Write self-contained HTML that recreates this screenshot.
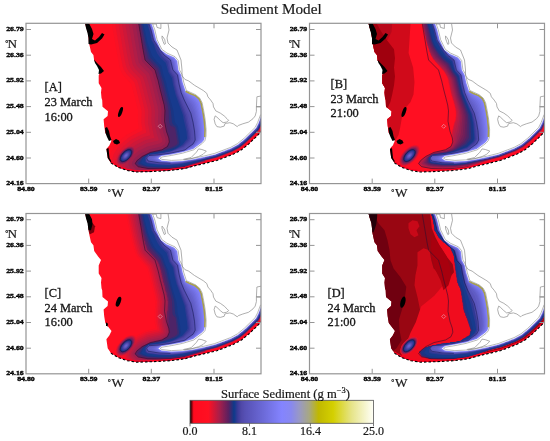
<!DOCTYPE html>
<html><head><meta charset="utf-8"><style>
html,body{margin:0;padding:0;background:#fff;}
body{width:550px;height:441px;overflow:hidden;position:relative;}
svg{position:absolute;left:0;top:0;filter:blur(0.35px);}
text{font-family:"Liberation Serif",serif;fill:#1a1a1a;}
.tk{font-size:7px;font-weight:bold;stroke:#000;stroke-width:0.4px;}
.ax{font-size:13.2px;stroke:#111;stroke-width:0.2px;}
.dg{font-size:7.5px;stroke:#111;stroke-width:0.25px;}
.lb{font-size:12.4px;stroke:#111;stroke-width:0.3px;}
.cl{font-size:12px;stroke:#111;stroke-width:0.2px;}
.ct{font-size:12.6px;stroke:#111;stroke-width:0.2px;}
.tt{font-size:15.2px;stroke:#1a1a1a;stroke-width:0.2px;}
</style></head><body>
<svg width="550" height="441" viewBox="0 0 550 441">
<clipPath id="clipA"><rect x="26.0" y="23.3" width="235.0" height="160.5"/></clipPath>
<g transform="translate(0 0)" clip-path="url(#clipA)">
<path d="M85 23.3L86 27L88 33L89 43L91 52L93.4 55L94.2 60.7L98.1 66.3L101 69.7L98.7 75.4L98.7 83.3L101.5 87.9L101 92.4L101.5 98L102.2 100L102.5 106.8L108 111.3L107.6 115.9L103.6 119.3L104.2 126L105.3 132.9L111.5 140.8L109.3 145.4L106.4 149L107.7 158L110.9 162.7L118.2 167.2L127.3 170.3L136.4 171.8L147.7 171.5L159 171L170.4 170.3L180 169.1L185 168.3L195 165.5L205.5 163.1L216.8 160.3L224.2 157.6L233.6 153.9L241.5 149.6L249.1 143.4L255.3 137.4L261 131.7L264.2 125.4L267.3 117.2L268.3 117.2L268.3 18.3L85 18.3Z" fill="#ff0f22"/>
<path d="M112.5 23.3L261 23.3L261 127.1L259.2 130.8L250.5 139.6L245.5 144L240.5 148L235 151L232 152.5L218.5 157.7L206.3 160.8L205.9 161.3L206.2 162.8L205 162.9L204.5 163.5L202.5 163.5L202 164L200.5 164L200 164.5L198.5 164.5L198 165L194 165.5L192 166.5L190.5 166.5L188.5 167.5L187 167.5L186.5 168L185 168L184.5 168.5L178.5 169L178 169.5L174.5 169.5L174 170L170.5 170L170 170.5L162.5 170.5L162 171L152.5 171L152 171.5L133.5 171.5L133 171L127.5 170.4L125.5 169.4L124.5 169.4L124 168.9L123 168.9L122.5 168.4L121.5 168.4L121 167.9L120 167.9L119.5 167.4L118.5 167.4L117.5 166.4L116 165.9L115 164.9L112 163.3L109 159.8L109 158.3L111.2 151.8L116 144.3L119.5 140.6L127 134.6L138.7 128.3L137.9 122.3L138 110.3L131.4 84.3L123 74.9L120.7 70.8L119.2 66.3L112.3 27.3L112 23.3Z" fill="#f81125" fill-rule="evenodd"/>
<path d="M115.5 23.3L261 23.3L261 126.5L258.8 130.8L245.5 143.6L240.5 147.6L235.5 150.4L231.5 152.4L218.5 157.4L206 160.7L205.6 161.3L205.8 162.8L205 162.9L204.5 163.4L202.5 163.4L202 163.9L200.5 163.9L200 164.4L198.5 164.5L198 164.9L194 165.5L192 166.5L190.5 166.5L188.5 167.5L187 167.5L186.5 168L185 168L184.5 168.5L178.5 169L178 169.5L174.5 169.5L174 170L170.5 170L170 170.5L162.5 170.5L162 170.9L152.5 170.9L152 171.4L133.5 171.4L133 170.9L127.5 170.4L125.5 169.4L124.5 169.4L124 168.9L123 168.9L122.5 168.4L121.5 168.4L121 167.9L120 167.9L119.5 167.4L118.5 167.4L117.5 166.3L116 165.8L115 164.8L112 163.3L112.2 159.3L113.7 154.3L117.6 147.8L119.9 144.8L129.5 136.9L142.5 130.3L141.2 122.8L141.6 111.8L141.3 109.8L135.6 86.8L134.3 82.3L126.3 73.8L124.2 70.3L122.8 66.8L120.5 55.8L115.6 26.8Z" fill="#ea132c" fill-rule="evenodd"/>
<path d="M119 23.3L261 23.3L261 126.2L258.6 130.8L245.5 143.4L240.5 147.4L235.5 150.2L231.5 152.2L218.5 157.2L206 160.5L205.5 160.8L205.6 162.8L204.5 163.4L202.5 163.4L202 163.9L200.5 163.9L200 164.4L198.5 164.4L198 164.9L194 165.4L192 166.4L190.5 166.4L188.5 167.4L187 167.4L186.5 167.9L185 167.9L184.5 168.4L178.5 168.9L178 169.4L174.5 169.4L174 169.9L170.5 169.9L170 170.4L162.5 170.4L162 170.9L152.5 170.9L152 171.4L133.5 171.4L133 170.9L127.5 170.4L125.5 169.4L124.5 169.4L124 168.9L123 168.9L122.5 168.4L121.5 168.3L121 167.8L120 167.8L119.5 167.3L118.5 167.3L117.5 166.3L116 165.8L115.1 164.8L115.1 163.3L116.2 157.3L118 153.3L122.2 147.3L131.5 139.6L142 134.2L146.2 132.8L146.3 132.3L144.6 122.8L144.9 111.8L144.5 108.8L138.9 86.3L137 80.3L129.3 72.3L127.4 69.3L126 65.9L123.8 55.3L119 26.8L118.7 23.3Z" fill="#db1633" fill-rule="evenodd"/>
<path d="M122.5 23.3L261 23.3L261 125.9L258.5 130.7L250 139.2L240 147.6L231.5 152.1L218.5 157.1L205.9 160.3L205.3 160.8L205.4 162.8L204.5 163.4L202.5 163.4L202 163.9L200.5 163.9L200 164.4L198.5 164.4L198 164.9L196 164.9L195.5 165.4L192.5 165.9L192 166.4L190.5 166.4L188.5 167.4L187 167.4L186.5 167.9L185 167.9L184.5 168.4L182 168.4L181.5 168.9L174.5 169.4L174 169.9L170.5 169.9L170 170.4L162.5 170.4L162 170.9L152.5 170.9L152 171.4L133.5 171.4L133 170.9L127.5 170.4L127 169.9L126 169.8L125.5 169.3L124.5 169.3L124 168.8L123 168.8L122.5 168.3L121.5 168.3L121 167.8L118.8 167.3L118.5 164.8L117.5 163.8L116.8 162.3L116.9 159.3L118.7 154.8L122 150.7L124.5 148.5L128.3 146.3L134.3 141.8L144 137L150.2 135.3L147.9 122.8L148.3 111.8L147.7 107.8L140.2 78.8L132 70.3L130.4 67.8L129.1 64.8L127.1 54.8L122.2 25.8L122 23.3Z" fill="#cd1839" fill-rule="evenodd"/>
<path d="M125.5 23.3L261 23.3L261 125.7L258.5 130.5L250 139L240 147.4L232 151.7L222 155.6L215.5 157.9L205.7 160.3L205 160.8L205.3 162.8L204.5 163.4L202.5 163.4L202 163.9L200.5 163.9L200 164.4L198.5 164.4L198 164.9L194 165.4L192 166.4L190.5 166.4L188.5 167.4L187 167.4L186.5 167.9L185 167.9L184.5 168.4L178.5 168.9L178 169.4L174.5 169.4L174 169.9L170.5 169.9L170 170.4L162.5 170.4L162 170.9L152.5 170.9L152 171.4L133.5 171.4L133 170.9L127.5 170.3L125.5 169.3L124.5 169.3L124 168.8L123 168.8L121.9 165.3L118.5 164.2L117.5 162.9L117.1 161.3L117.3 158.8L118.3 156.3L120.1 153.3L122.3 150.8L125 148.6L127.5 147.2L130 146.4L133.5 146.4L136 144.7L145.5 140L154.5 137.8L153.5 134.3L151.3 122.8L151.6 111.3L151.1 107.8L145.3 84.3L143 76.9L135 68.7L132.5 64.3L130.4 54.3L125.5 25.3Z" fill="#be1a40" fill-rule="evenodd"/>
<path d="M129 23.3L261 23.3L261 125.6L258.5 130.3L250 138.8L245 143.3L240 147.3L235 150.1L231 152L218 157L205.5 160.3L204.8 160.8L205.1 162.8L204.5 163.4L202.5 163.4L202 163.9L200.5 163.9L200 164.4L198.5 164.4L198 164.9L194 165.4L192 166.4L190.5 166.4L188.5 167.4L187 167.4L186.5 167.9L185 167.9L184.5 168.4L178.5 168.9L178 169.4L174.5 169.4L174 169.9L170.5 169.9L170 170.4L162.5 170.4L162 170.9L152.5 170.9L152 171.4L133.5 171.3L133 170.8L127.6 170.3L125.8 167.3L125.1 163.8L121 164.5L118.8 163.8L117.9 162.8L117.4 160.8L117.7 158.8L118.6 156.3L121.7 151.8L126 148.3L129 147L131.5 146.7L133.5 147.7L134.3 148.8L134.5 149.8L137.5 147.7L146.5 143.2L158 140.4L158.8 139.8L156.8 133.8L154.6 122.3L155 111.3L154.3 106.8L148.5 83.3L146.1 75.3L137.5 66.5L135.7 63.3L133.7 53.8L128.9 25.3L128.7 23.3Z" fill="#b01d47" fill-rule="evenodd"/>
<path d="M132.5 23.3L261 23.3L261 125.5L258.4 130.3L249.9 138.8L245 143.2L240 147.2L235 150L231 151.9L218 156.9L205.1 160.3L204.7 160.8L204.9 162.8L204.5 163.3L202.5 163.3L202 163.8L200.5 163.8L200 164.3L198.5 164.3L198 164.8L194 165.3L192 166.3L190.5 166.3L188.5 167.3L187 167.3L186.5 167.8L185 167.8L184.5 168.3L178.5 168.8L178 169.3L174.5 169.3L174 169.8L170.5 169.8L170 170.3L162.5 170.3L162 170.8L152.5 170.8L152 171.3L133.5 171.3L130.3 168.3L129 166.3L128.4 163.8L129 160.7L125.5 162.9L123 163.9L120.5 164L119 163.4L118 161.8L117.8 160.3L118.1 158.3L119.1 155.8L122.5 151.3L127 148L129 147.3L131 147.1L132.5 147.5L133.4 148.3L134 149.4L134.2 151.3L133.5 154.9L138.7 150.8L147.5 146.4L159.5 143.5L162 142L162.4 141.3L162.2 139.3L160 132.8L157.9 122.3L158.3 111.3L157.6 106.3L151.8 82.8L149 73.5L140 64.3L138.8 62.3L137 53.3L132.1 24.3L132 23.3ZM133 155.3L133 155.3L133.1 155.3L133 155.3Z" fill="#a11e4c" fill-rule="evenodd"/>
<path d="M135.5 23.3L261 23.3L261 125.4L258.3 130.3L249.5 139.1L239.5 147.4L232 151.4L218 156.9L205 160.2L204.4 160.8L204.5 163.3L202.5 163.3L202 163.8L200.5 163.8L200 164.3L198.5 164.3L198 164.8L194 165.3L192 166.3L190.5 166.3L188.5 167.3L187 167.3L186.5 167.8L185 167.8L184.5 168.3L178.5 168.8L178 169.3L174.5 169.3L174 169.8L170.5 169.8L170 170.3L162.5 170.3L162 170.8L152.5 170.8L152 171.3L144.6 171.3L137.5 170L136 169.2L132.5 165.8L131.8 164.3L132.1 162.3L134.7 158.3L140.5 153.6L149 149.4L161 146.5L164.7 144.3L165.9 141.3L165.5 138.8L163.3 132.3L161.2 121.8L161.6 110.8L160.9 105.8L155 81.8L152.1 71.8L142 61.2L140.2 52.3ZM128.5 147.8L131.5 147.6L132.8 148.3L133.5 149.3L133.7 152.3L132.1 156.3L129.2 159.8L126 162.3L122.5 163.7L119.8 163.3L118.7 162.3L118.2 160.3L118.6 157.8L119.7 155.3L123.5 150.7L126 148.9Z" fill="#911f51" fill-rule="evenodd"/>
<path d="M139 23.3L261 23.3L261 125.4L258.2 130.3L245 143L239.6 147.3L233 150.9L216.5 157.3L205 160.2L203 161.3L202 161.3L201.5 161.8L200.5 161.8L200 162.3L199 162.3L198.5 162.8L197.5 162.8L197 163.3L196 163.3L195.5 163.8L194.5 163.8L194 164.3L193 164.3L192.5 164.8L191.5 164.8L191 165.3L190 165.3L186.5 166.8L185 166.8L184.5 167.3L182 167.3L181.5 167.8L178.5 167.8L178 168.3L173.5 168.3L173 168.8L159 168.8L147 168.8L146.5 168.3L141.5 167.8L141 167.3L139 167.3L138 166.8L135 163.8L136.5 160.8L137.5 159.8L138 159.8L142 156.3L151 151.8L153 151.8L153.5 151.3L155 151.3L155.5 150.8L157.5 150.8L158 150.3L159.5 150.3L160 149.8L162 149.8L164.5 147.8L167.5 146.3L167.5 145.3L168.5 143.8L169 141.8L168.5 137.3L168 136.8L167.5 134.3L166 131.3L165.5 126.8L165 126.3L165 123.8L164.5 123.3L164.5 111.3L165 110.8L164.5 110.3L164 104.3L163.5 103.8L163.5 102.3L162.5 100.3L162.5 98.8L162 98.3L161.5 94.8L161 94.3L161 92.8L160.5 92.3L160.5 90.8L160 90.3L160 88.8L159.5 88.3L159.5 86.8L159 86.3L159 84.8L158.5 84.3L158 80.3L156.5 76.8L156.5 75.3L155.5 73.3L155 70.3L145 60.3L144.5 59.3L144.5 57.3L144 56.8L144 54.8L143.5 54.3L143.5 52.3L143 51.8L143 49.3L142.5 48.8L142.5 46.3L142 45.8L142 43.3L141.5 42.8L141.5 40.3L141 39.8L141 37.3L140.5 36.8L140.5 34.3L140 33.8L140 31.3L139.5 30.8L139.5 28.3L139 27.8L139 25.3L138.5 24.8L138.5 23.3ZM128 148.3L131 147.9L132 148.3L133 149.3L133.4 150.8L133.3 152.3L132 155.8L129.4 159.3L126 162L122.5 163.3L120 162.9L119 161.8L118.6 160.3L118.8 158.3L119.8 155.8L121.4 153.3L123.5 151.1L125.5 149.5Z" fill="#811f55" fill-rule="evenodd"/>
<path d="M139 23.3L261 23.3L261 125.2L258.1 130.3L245 142.9L240 146.9L232.9 150.8L216.5 157.2L205 160.1L203 161.1L187 166.1L186.5 166.6L185 166.6L184.5 167.1L182 167.1L181.5 167.6L178.5 167.6L178 168.1L173.5 168.1L173 168.6L159 168.6L147 168.6L146.5 168.1L141.5 167.6L141 167.1L139 167.1L138 166.6L135.2 163.8L135.2 163.3L136.2 162.3L136.7 160.8L140 158L140.5 158L142 156.5L151 152L153 151.9L155.5 151L157.5 150.9L160 150L162 149.9L164.5 148L167.7 146.3L167.7 145.3L168.7 143.8L169.2 141.8L168.7 137.3L167.7 135.3L167.7 134.3L166.7 132.8L166.7 131.8L166.2 131.3L165.7 126.8L165.2 126.3L165.2 123.8L164.7 123.3L164.7 111.3L165.2 110.8L164.7 110.3L164.2 104.3L163.7 103.8L163.7 102.3L162.7 100.3L162.2 96.8L161.7 96.3L161.7 94.8L161.2 94.3L161.2 92.8L160.7 92.3L160.7 90.8L160.2 90.3L160.2 88.8L159.7 88.3L159.7 86.8L159.2 86.3L159.2 84.8L158.7 84.3L158.2 80.3L156.7 76.8L156.7 75.3L155.7 73.3L155.2 70.3L145.2 60.3L144.7 59.3L144.7 57.3L144.2 56.8L144.2 54.8L143.7 54.3L143.7 52.3L143.2 51.8L143.2 49.3L142.7 48.8L142.7 46.3L142.2 45.8L142.2 43.3L141.7 42.8L141.7 40.3L141.2 39.8L141.2 37.3L140.7 36.8L140.7 34.3L140.2 33.8L140.2 31.3L139.7 30.8L139.7 28.3L139.2 27.8L139.2 25.3L138.7 24.8L138.7 23.3ZM129.5 148.3L131.9 148.8L133 150.8L132.6 153.8L131.1 156.8L128.5 159.8L125.5 161.9L122.5 162.9L120 162.3L119.2 161.3L119 159.3L119.6 156.8L121 154.3L125 150.2L127.5 148.8Z" fill="#721f59" fill-rule="evenodd"/>
<path d="M139 23.3L261 23.3L261 125L258 130.3L245 142.8L240 146.8L232.7 150.8L216.5 157.1L205 160L186.5 166.4L182 167L181.5 167.4L178.5 167.5L178 167.9L173.5 168L173 168.4L159 168.5L147 168.4L146.5 168L141.5 167.4L141 166.9L139 166.9L138 166.4L135.4 163.8L135.4 163.3L136.4 162.3L136.9 160.8L140 158.2L142 156.7L151 152.2L157.5 151.1L160 150.2L162 150.1L167.8 146.3L167.9 145.3L168.9 143.8L169.4 141.8L168.9 137.3L166.4 131.3L165.9 126.8L165.4 126.3L165.4 123.8L164.9 123.3L164.9 111.3L165.4 110.8L164.9 110.3L164.4 104.3L163.9 103.8L163.9 102.3L162.9 100.3L162.4 96.8L161.9 96.3L161.9 94.8L161.4 94.3L161.4 92.8L160.9 92.3L160.9 90.8L160.4 90.3L160.4 88.8L159.9 88.3L159.9 86.8L159.4 86.3L159.4 84.8L158.9 84.3L158.4 80.3L156.9 76.8L156.9 75.3L155.9 73.3L155.4 70.3L145.4 60.3L144.9 59.3L144.9 57.3L144.4 56.8L144.4 54.8L143.9 54.3L143.9 52.3L143.4 51.8L143.4 49.3L142.9 48.8L142.9 46.3L142.4 45.8L142.4 43.3L141.9 42.8L141.9 40.3L141.4 39.8L141.4 37.3L140.9 36.8L140.9 34.3L140.4 33.8L140.4 31.3L139.9 30.8L139.9 28.3L139.4 27.8L139.4 25.3L138.9 24.8ZM128.5 148.8L131 148.8L132.5 150.3L132.6 152.8L131.1 156.3L128.5 159.5L125.5 161.6L122.5 162.6L120.5 162.1L119.5 160.8L119.3 159.3L120.6 155.3L124 151.3L126.5 149.6Z" fill="#62205e" fill-rule="evenodd"/>
<path d="M139.5 23.3L261 23.3L261 124.9L258 130.2L244.8 142.8L239.9 146.8L232.5 150.8L215.5 157.3L206 159.6L185.6 166.3L180 167.3L170.5 168.3L154.8 168.3L147.5 168L138.3 165.8L136.3 163.8L136.2 163.3L137.8 160.8L142.3 156.8L151 152.5L162 150.2L167.8 146.8L170 141.8L169.7 137.8L167.9 131.3L166.2 121.3L166.3 110.8L165.4 104.8L160 83.3L155.9 69.3L146.2 59.3L143.4 45.8ZM128 149.3L130.5 149.1L132 150.4L132.2 152.8L131.1 155.8L128.8 158.8L126 161L123 162.1L121 161.9L120 160.8L119.7 159.3L120 157.3L121 155.3L124 151.6Z" fill="#4e2467" fill-rule="evenodd"/>
<path d="M141 23.3L261 23.3L261 124.5L258 130L249.1 138.8L239.6 146.8L231.1 151.3L215.1 157.3L206 159.5L185 165.9L179.5 166.8L170 167.7L159 167.8L148 167.3L139 164.9L137.7 163.3L138.4 161.8L142.5 157.3L144.8 155.8L150.5 152.9L162 150.7L171.5 147.3L175.6 145.3L177 144L177.5 142.8L175 128.5L174 127.2L170.5 125.4L169.4 123.3L168.9 120.8L168.6 110.8L167.4 104.3L161.9 82.8L157.7 68.8L148.1 58.3L144.5 43.3L141 24.8L140.7 23.3ZM127.5 149.8L130 149.5L131.5 150.4L131.9 152.8L130.8 155.8L128.5 158.8L126 160.7L123 161.8L121 161.3L120.1 159.3L121 155.8L123.7 152.3Z" fill="#342d75" fill-rule="evenodd"/>
<path d="M142 23.3L261 23.3L261 124.1L257.5 130.3L246.7 140.8L239.3 146.8L231.9 150.8L216.2 156.8L205 159.6L184.5 165.5L170.5 167.2L159 167.2L148 166.6L144 165.6L139.5 163.7L139.2 163.3L139.5 162.4L142.7 157.8L148 154.2L151 153.1L162.5 151.1L171.7 148.8L175.3 147.3L177.4 145.8L178.8 144.3L179.2 142.8L176.4 127.8L175.5 126.3L173 124.3L172 122.3L170.9 110.8L169.5 104.3L163.7 81.8L161.4 75.3L159.6 68.3L158.7 66.8L150 57.3L145.9 42.8ZM127.5 150.2L129.5 149.9L131.1 150.8L131.5 152.8L130.4 155.8L128.5 158.4L126 160.3L123.5 161.3L121.5 161L120.8 160.3L120.5 158.8L121.6 155.3L124.1 152.3Z" fill="#1a3583" fill-rule="evenodd"/>
<path d="M143.5 23.3L261 23.3L261 123.4L258 129.3L246.5 140.7L239 146.7L231.3 150.8L215.5 156.8L206 159L185.2 164.8L179.5 165.8L170.5 166.5L154.5 166.3L148 165.8L145.8 165.3L141 162.9L143.5 157.8L148.4 154.3L151.5 153.3L163 151.8L172.5 149.6L175.6 148.3L178.6 146.3L179.9 144.8L180.5 142.8L179.6 134.8L178.1 127.3L177.3 125.3L175.2 122.8L174.6 120.8L173.3 110.3L169 95.3L165.8 81.3L163.4 74.8L161.6 66.8L161.1 65.8L156.5 61.2L152 55.4L147.5 42.8L145.3 31.8L143.5 24.9ZM129 150.3L130.5 150.9L131.1 152.3L130.8 154.3L129.8 156.3L128 158.5L126 160L124 160.8L122 160.7L121.2 159.8L120.9 158.3L122.3 154.8L125.5 151.5L127.5 150.5Z" fill="#173a8d" fill-rule="evenodd"/>
<path d="M147.5 23.3L261 23.3L260.9 122.3L257.4 129.3L248.5 138L239 146.2L231.5 150.2L216 156.1L204 159.1L180.5 164.2L170 164.9L158 164.7L147 163.2L145.3 161.8L145.2 157.8L148.5 154.9L163.3 152.8L171 150.9L173.8 149.8L177.8 147.8L182.3 144.8L187 138.8L187 138.3L186.5 132.1L183.7 119.8L183 115.3L175.7 95.3L173.1 85.3L171.9 78.3L168.3 72.3L165.7 62.8L160.3 57.8L157.4 53.8L155.7 50.3L154 44.8L151.7 40.8L149.5 31L147.1 23.8L147 23.3ZM128.5 150.8L130 151.3L130.6 152.3L130.4 154.3L129.4 156.3L127.7 158.3L125.6 159.8L123.5 160.4L122 159.9L121.4 158.8L121.5 157.3L123 154.3L125.7 151.8Z" fill="#2e3a94" fill-rule="evenodd"/>
<path d="M148 23.3L261 23.3L261 121L259.7 124.3L257 129.3L246 140.1L239.5 145.4L231.5 149.9L215.5 156L203.5 159L182 163.5L170.5 164.5L159 164.3L148 162.9L146.1 161.8L145.6 157.8L148.5 155.1L163.5 153L170.5 151.4L174.9 149.8L183 145.6L188 139.8L188.5 138.3L187.9 131.8L184.6 115.8L176.6 94.3L174.2 84.8L172.9 77.3L169.3 71.8L167.2 61.8L161.7 56.3L152.5 40.4ZM127 151.7L128.5 151.5L129.8 152.3L129.9 153.8L129.4 155.3L128.1 157.3L126.5 158.7L124.5 159.6L123 159.6L122 158.3L122.6 155.8L124.5 153.3Z" fill="#3f3d9c" fill-rule="evenodd"/>
<path d="M148.5 23.3L261 23.3L261 120.5L260 123.3L257 129L246 139.8L239.3 145.3L231.5 149.6L215.5 155.8L203 158.9L184 162.8L180 163.5L170.5 164.3L159 164L148 162.5L146.6 161.8L145.8 157.8L149 155.1L163.5 153.2L170.5 151.8L175.5 150.1L183.5 146.4L189 140.8L189.9 138.8L189.2 131.8L185.9 115.3L177.5 93.8L175.2 84.8L173.9 76.8L170.4 71.3L168.7 61.3L162.8 55.8L153.2 40.3ZM127 152.3L128.5 152.2L129.1 152.8L129.3 153.8L128.9 155.3L126.5 158.1L125 158.9L123.5 158.9L122.7 157.8L123.1 155.8L125 153.5Z" fill="#4a44a4" fill-rule="evenodd"/>
<path d="M149 23.3L261 23.3L261 119.7L259.8 123.3L256.9 128.8L246 139.6L238.5 145.7L231 149.7L215.5 155.6L203.5 158.7L182.6 162.8L170.5 164L162.7 163.8L159 163.7L147.2 161.8L146 157.8L149 155.2L159.5 154.1L170.5 152.1L183.5 147.6L190 141.7L191.2 138.8L190.4 130.8L187.1 114.8L178.5 93.8L176 83.8L175.1 76.3L171.3 70.8L169.7 60.8L163.7 55.3L160 50.3L160 49.8L158.5 48.3L154.6 42.3L154 40.8L153.1 39.8L153 38.3L152.6 37.8L152.5 36.3L152.1 35.8L151 30.3L148.6 23.8L148.6 23.3ZM126.5 152.9L128 152.8L128.8 153.8L128.2 155.8L126 158L124.5 158.5L124 158.3L123.2 157.3L123.6 155.8L125 153.9Z" fill="#514aab" fill-rule="evenodd"/>
<path d="M149 23.3L261 23.3L261 119.5L259.6 123.3L256.7 128.8L246 139.4L238.5 145.5L231 149.5L215.5 155.4L206 157.7L203.5 158.6L181 162.8L170.5 163.7L159 163.3L148 161.7L147.4 161.3L146.3 157.8L149 155.3L159 154.4L170 152.7L184 148.6L191.2 142.8L192.9 139.3L192.2 131.3L188.7 114.3L179.6 93.3L177.3 84.3L176.3 75.8L172.3 70.3L170.5 60.3L163.1 54.3L163.1 53.8L158.6 48.3L153.2 39.8L153.1 38.3L152.7 37.8L151.1 30.3L148.7 23.8L148.6 23.3ZM126.5 153.2L128.2 153.3L128.5 154.3L128.3 155.3L126.5 157.5L125.5 158L124 158L123.5 157.3L123.8 155.8L125 154.2Z" fill="#544eb1" fill-rule="evenodd"/>
<path d="M149 23.3L261 23.3L261 119.2L259.4 123.3L256.6 128.8L245.9 139.3L238.5 145.3L231 149.4L215.5 155.3L206 157.6L203.5 158.5L181 162.7L170.5 163.3L159.5 163.2L150 161.7L148 161.3L147.6 160.8L146.6 158.8L146.5 157.8L149 155.4L159 154.7L169.5 153.2L184.5 149.7L192.5 143.7L194.6 139.8L193.8 130.8L192.3 122.3L190.3 113.8L183.8 100.3L180.7 92.8L178.5 83.8L177.5 77.8L177.5 75.3L172.6 69.8L172.1 66.3L171.6 65.8L171.6 64.3L170.7 61.8L170.6 60.3L163.2 54.3L158.7 48.3L153.2 39.8L151.2 30.3L148.7 23.8L148.7 23.3ZM127 153.2L128.2 153.8L127.8 155.8L126 157.6L125 158L124.1 157.8L123.7 156.8L124.3 155.3L125.5 154Z" fill="#5751b6" fill-rule="evenodd"/>
<path d="M149 23.3L261 23.3L261 118.7L259.3 123.3L256.5 128.7L245.7 139.3L238.5 145.2L231 149.2L215.5 155.1L206 157.4L203.5 158.4L181 162.5L171.5 163.2L159.5 163L153 162.1L152.5 161.7L150 161.6L147.7 160.8L146.7 158.8L146.7 157.8L149 155.5L159 154.9L169.5 153.3L185 149.9L189 146.5L193 143.9L195.1 139.8L195.1 137.8L194.7 137.3L194.6 131.3L194.2 130.8L194.1 128.3L193.7 127.8L193.6 125.3L193.2 124.8L193.1 122.3L192.2 119.8L191.1 114.3L183.7 99.3L183.6 98.3L181.2 93.3L179.6 86.3L179.2 85.8L179.1 84.3L178.7 83.8L177.6 75.3L172.7 69.8L170.7 60.3L163.3 54.3L157.8 46.8L153.3 39.8L151.2 30.3L148.8 23.8ZM126 153.8L127 153.4L128 153.8L127.9 155.3L126.5 157.1L124.5 157.8L124 157.3L124.1 155.8Z" fill="#5954b9" fill-rule="evenodd"/>
<path d="M149 23.3L261 23.3L261 118.3L259.1 123.3L256.5 128.5L245.5 139.3L238.5 145L231 149.1L215 155.1L206 157.3L203 158.5L183.5 162L172.5 163.1L159.5 162.9L147.9 160.8L146.9 158.8L146.8 157.8L149 155.7L159 154.9L169.5 153.4L185 149.9L189 146.7L193 144L195.3 139.8L195.2 137.8L194.8 137.3L194.8 131.3L194.3 130.8L194.3 128.3L193.8 127.8L193.8 125.3L193.3 124.8L193.3 122.3L192.3 119.8L192.3 118.3L191.8 117.8L191.8 116.3L191.3 115.8L191.3 114.3L183.8 99.3L183.7 98.3L181.3 93.3L178.8 83.8L177.7 75.3L172.8 69.8L170.8 60.3L163.4 54.3L157.8 46.8L153.4 39.8L151.3 30.3L148.9 23.8ZM126.5 153.7L127.5 153.7L127.9 154.3L127.5 155.8L126 157.3L124.5 157.5L124.1 156.8L124.3 155.8L125.5 154.3Z" fill="#5b56bd" fill-rule="evenodd"/>
<path d="M149 23.3L261 23.3L261 117.6L258.9 123.3L256.3 128.3L245.5 138.9L238.5 144.7L231 148.8L215 154.9L205.5 157.2L203 158.3L183 161.9L171.5 162.9L161 162.7L155.3 161.8L148.5 160.2L147.6 158.3L149.5 156.2L169.5 153.5L185 150.1L193.1 144.3L195.7 139.8L195.3 130.8L193.8 121.8L191.7 113.3L181.6 92.8L179.3 83.8L177.9 75.3L173.3 69.8L170.7 59.8L164 54.7L158 46.8L153.7 39.8L151.4 30.3ZM126 154.3L127 154L127.5 154.3L127.4 155.3L126.5 156.6L125 157.2L124.5 156.8L124.6 155.8Z" fill="#605cc4" fill-rule="evenodd"/>
<path d="M149.5 23.3L261 23.3L261 117.3L259 122.8L256.5 127.8L245.5 138.8L238 144.8L229.5 149.3L215 154.8L205.5 157L203 158.2L181 162.1L170.5 162.8L160.5 162.3L154.2 160.8L149.4 158.8L150 157.5L155.5 156L172 153.2L185 150.3L193.8 144.3L196.4 140.3L196.9 136.3L196.6 130.8L195.2 121.8L193 112.3L190.2 105.8L185.8 99.3L182.2 92.8L179.8 83.8L178.1 74.8L173.9 69.3L172.6 63.3L171.3 59.8L164 54.3L159.2 48.3L154.3 40.3ZM126 154.6L127 154.5L127.1 155.3L126 156.6L125 156.7L124.9 155.8Z" fill="#6461cb" fill-rule="evenodd"/>
<path d="M150 23.3L261 23.3L261 117.3L260 119.3L260 120.3L259 121.8L259 122.8L256.5 127.8L245.5 138.8L245 138.8L242.5 141.3L242 141.3L238 144.8L229.5 149.3L228.5 149.3L227 150.3L226 150.3L224.5 151.3L222 151.8L220.5 152.8L218 153.3L215 154.8L213.5 154.8L213 155.3L211.5 155.3L211 155.8L209.5 155.8L209 156.3L205.5 156.8L203 158.1L183 161.6L171 162.6L161 162.1L155.5 160.5L152.3 158.8L151.9 158.3L154.9 156.8L161 155L172 153.3L185.3 150.3L194 144.8L197.3 140.3L198.1 135.3L197.8 130.3L196.5 121.1L194.5 112.1L192.3 106.3L190.5 103.3L186.9 98.8L182.8 92.8L180.3 83.8L178.5 74.8L174.6 69.3L173.2 62.8L171.9 59.8L164.5 54.5L161 50.6L154.3 39.8L152 30.4L149.6 23.3ZM126.5 154.8L126.8 155.3L126.5 155.8L125.3 156.3L125.6 155.3Z" fill="#6966d3" fill-rule="evenodd"/>
<path d="M150 23.3L261 23.3L261 117.3L260 119.3L260 120.3L259 121.8L259 122.8L256.5 127.8L245.5 138.8L245 138.8L242.5 141.3L242 141.3L238 144.8L229.5 149.3L228.5 149.3L227 150.3L226 150.3L224.5 151.3L222 151.8L220.5 152.8L218 153.3L215 154.8L213.5 154.8L213 155.3L211.5 155.3L211 155.8L209.5 155.8L209 156.3L205.5 156.8L203 157.9L192 160L180 161.9L170.5 162.4L161 161.8L156.5 160.3L154.1 158.8L154 158.3L156.3 156.8L161 155.2L170.5 153.8L185.6 150.3L192 146.8L194.6 144.8L198.1 140.3L199 137.3L199.1 134.8L198.9 129.8L197.5 120.3L195.7 111.8L193.5 105.6L191.5 102.3L187.5 98L183.2 92.3L180.6 83.3L178.9 74.8L175 68.8L173.9 62.8L172.6 59.8L171.7 58.8L165 54.5L161 50.5L154.9 40.3ZM126 155.3L126.2 155.3L126 155.9L125.7 155.8Z" fill="#6d6bda" fill-rule="evenodd"/>
<path d="M150.5 23.3L261 23.3L260.9 117.3L260 119.3L259.9 120.3L259 121.8L258.9 122.8L256.4 127.8L245.5 138.7L245 138.8L242.5 141.2L242 141.3L238 144.7L229.5 149.2L228.5 149.3L227 150.2L226 150.3L224.5 151.2L222 151.8L220.5 152.7L218 153.3L215 154.7L213.5 154.8L213 155.2L211.5 155.3L211 155.7L209.5 155.8L209 156.2L205.5 156.8L205 157.2L203 157.8L193 159.8L182 161.5L170.5 162.2L161 161.5L157 160L155.3 158.8L155.4 158.3L156.5 157.3L161 155.4L171 153.8L184.5 150.9L192.5 147L194.7 145.3L199.3 139.8L200 137.8L200.2 135.8L200.1 130.3L198.8 120.8L197 111.8L194.7 104.8L193.7 102.8L192.1 100.8L188 97.1L183.7 92.3L181 83.3L179.4 75.3L175.7 68.8L174.5 62.3L173 59.4L165.1 54.3L161 50.4L155.4 40.8L152.5 30.3L150.2 23.3Z" fill="#7270e2" fill-rule="evenodd"/>
<path d="M150.5 23.3L261 23.3L260.9 117.3L259.9 119.3L259.9 120.3L258.9 121.8L258.9 122.8L256.4 127.8L245.5 138.7L245 138.7L242.5 141.2L242 141.2L238 144.7L229.5 149.2L228.5 149.2L227 150.2L226 150.2L224.5 151.2L222 151.7L220.5 152.7L218 153.2L215 154.7L213.5 154.7L213 155.2L211.5 155.2L211 155.7L209.5 155.7L209 156.2L205.5 156.7L205 157.2L203 157.8L193 159.8L182 161.4L171 162L161 161.2L156.3 158.8L157.2 157.3L161.5 155.4L171 154L182.5 151.5L185.5 150.7L192.5 147.5L195.4 145.3L200.2 139.8L200.9 138.3L201.2 135.8L201.1 129.8L199.9 119.8L198.3 111.8L196 104.3L194.8 101.8L193 99.8L184.3 92.3L181.3 82.8L179.8 75.3L176.8 70.3L176.1 68.3L175 61.8L173.1 58.8L166 54.7L160.5 49.8L155.2 39.8L152.8 30.3Z" fill="#7776e9" fill-rule="evenodd"/>
<path d="M151 23.3L261 23.3L260.9 117.3L259.9 119.3L259.9 120.3L258.9 121.8L258.9 122.8L256.4 127.8L245.5 138.7L245 138.7L242.5 141.2L242 141.2L238 144.7L229.5 149.2L228.5 149.2L227 150.2L226 150.2L224.5 151.2L222 151.7L220.5 152.7L218 153.2L215 154.7L213.5 154.7L213 155.2L211.5 155.2L211 155.7L209.5 155.7L209 156.2L205.5 156.7L205 157.2L203.6 157.3L203 157.8L193 159.8L182.5 161.3L171.5 161.9L161.5 161.1L157.1 158.8L157.5 157.6L161.5 155.6L182.1 151.8L185.6 150.8L192.8 147.8L199.7 141.8L201.5 139.3L202.3 135.8L202.2 129.8L201 119.3L199.4 110.8L197.4 103.8L195.8 100.8L193.5 98.5L184.5 91.8L181.7 82.8L180.2 75.3L177.2 69.8L175.7 61.8L173.5 58.5L166 54.4L160.5 49.8L155.5 39.8L153.1 30.3L150.7 23.3Z" fill="#7c7bf1" fill-rule="evenodd"/>
<path d="M151 23.3L261 23.3L260.9 117.3L259.9 119.3L259.9 120.3L258.9 121.8L258.9 122.8L256.4 127.8L245.5 138.7L245 138.7L242.5 141.2L242 141.2L238 144.7L229.5 149.2L228.5 149.2L227 150.2L226 150.2L224.5 151.2L222 151.7L220.5 152.7L218 153.2L215 154.7L213.5 154.7L213 155.2L211.5 155.2L211 155.7L209.5 155.7L209 156.2L205.5 156.7L205 157.2L203.5 157.3L203 157.7L201.4 157.8L193 159.7L190.8 159.8L182.5 161.3L170.5 161.8L161.5 160.8L157.9 158.8L157.6 158.3L157.9 157.8L161.5 155.7L181.5 152.1L193 148.2L200.8 141.8L202.6 139.3L203.3 135.8L203.3 129.8L202.2 119.3L200.5 110.3L198.7 103.3L197 100L194.5 97.6L185 91.6L182.1 82.8L180.6 75.3L177.7 69.8L176.2 61.3L174 58.2L166.3 54.3L160.6 49.8L155.7 39.8L153.4 30.3Z" fill="#8080f9" fill-rule="evenodd"/>
<path d="M151.5 23.3L261 23.3L261 116.7L260.4 117.8L260.4 118.8L259.9 119.3L259.9 120.3L258.9 121.8L258.9 122.8L256.4 127.8L245.5 138.7L245 138.7L242.5 141.2L242 141.2L238 144.7L229.5 149.2L228.5 149.2L227 150.2L226 150.2L224.5 151.2L222 151.7L220.5 152.7L218 153.2L215 154.7L213.5 154.7L213 155.2L211.5 155.2L211 155.7L209.5 155.7L209 156.2L205.5 156.7L205 157.2L203.5 157.3L203 157.7L201 157.8L200.5 158.2L198.5 158.3L198 158.7L196 158.8L195.5 159.2L193.5 159.3L193 159.7L190.2 159.8L189.5 160.2L186.8 160.3L186 160.7L183 160.9L182.5 161.2L170.5 161.8L170 161.4L161.5 160.8L158 158.3L160.5 156.3L163 155.3L168.5 154.8L169 154.4L171.5 154.3L172 153.8L173.9 153.8L174.5 153.3L181.5 152.3L182 151.8L183.3 151.8L185.5 150.8L186.5 150.8L187 150.3L188.1 150.3L193 148.7L201.3 142.3L203.5 139.8L204.4 135.8L204.4 129.8L203.4 119.3L200 102.8L198.3 99.3L195 96.4L186 91.8L185 90.8L182.5 83.3L181 75.2L178 69.8L176.9 61.3L174.2 57.8L166.5 54.3L160.6 49.8L156 40.3L153.5 29.7L151 23.3Z" fill="#8484fe" fill-rule="evenodd"/>
<path d="M151.5 23.3L261 23.3L261 116.7L260.4 117.8L260.4 118.8L259.9 119.3L259.9 120.3L258.9 121.8L258.9 122.8L256.4 127.8L245.5 138.7L245 138.7L242.5 141.2L242 141.2L238 144.7L229.5 149.2L228.5 149.2L227 150.2L226 150.2L224.5 151.2L222 151.7L220.5 152.7L218 153.2L215 154.7L213.5 154.7L213 155.2L211.5 155.2L211 155.7L209.5 155.7L209 156.2L205.5 156.7L205 157.2L203.5 157.3L203 157.7L201 157.8L200.5 158.2L198.5 158.3L198 158.7L196 158.8L195.5 159.2L193.5 159.3L193 159.7L186.5 160.3L186 160.7L183 160.8L182.5 161.2L174 161.3L173.5 161.7L170.5 161.7L170 161.3L161.5 160.8L158 158.3L160.5 156.3L163 155.4L165.5 155.3L166 154.9L168.5 154.8L169 154.4L171.5 154.3L172 153.9L174 153.8L174.5 153.4L176.5 153.3L177 152.9L179 152.8L179.5 152.4L181.5 152.3L182 151.9L183.5 151.8L187 150.3L188.5 150.3L189 149.8L190 149.8L190.5 149.3L191.5 149.3L192 148.8L194 148.3L199.5 143.8L200 143.8L204 139.8L204.5 136.3L205 135.8L205 128.8L204.5 128.3L204 118.8L203.5 118.3L203.5 115.8L203 115.3L202.5 110.3L202 109.8L202 107.8L201.5 107.3L201 103.3L200 101.8L200 100.8L199 98.8L198 98.3L196 96.3L192 94.3L190 93.8L186 91.8L185 90.8L185 89.8L184.5 89.3L184.5 88.3L184 87.8L184 86.8L183.5 86.3L183.5 85.3L182.5 83.3L181 74.8L178 69.8L178 66.8L177.5 66.3L177.5 62.8L177 62.3L177 60.8L174.5 57.8L166.5 54.3L160.6 49.8L158.6 45.8L158.5 44.8L156 40.3L155.5 37.3L155 36.8L155 35.3L154.5 34.8L154.5 33.3L154 32.8L154 31.3L153.5 30.8L153.5 29.3L153 28.8L153 27.8L152 26.3L152 25.3L151 23.3Z" fill="#8686f8" fill-rule="evenodd"/>
<path d="M151.4 23.3L153.8 30L156.2 40L158.6 45L161 50L166.5 54L174.4 57.5L177.3 61L178.4 70L181.2 75L182.7 82.4L185.6 91.2L190 93.4L195.2 95.6L198.9 98.6L201.1 103L202.6 110.4L204.1 119.2L205.1 129.6L205 136L204 140L201.9 142.4L193.2 148.9L182.3 152.2L171.4 154.4L161.5 156L158.3 158.2L161.5 160.4L171.4 161.4L182.3 160.9L193.2 159.3L204 157.1L215 154.4L222 151.8L231 148.3L238 144.5L245 138.8L251 133L256 128L258.5 123L261.5 115L266 115L266 18.3L151.4 18.3Z" fill="#fff"/>
<path d="M185.6 91.2L190 93.4L195.2 95.6L198.9 98.6L201.1 103L202.6 110.4L204.1 119.2L205.1 129.6L204.8 137" fill="none" stroke="#a8a048" stroke-width="1.6"/>
<path d="M152.3 23L154.8 29.8L157.1 39.7L161.8 49.3L167 53.1L175 56.7L178.2 60.5L179.4 69.7L182.2 74.7L183.7 82.1L186.4 90.5L195.7 94.7L199.8 98.2L202.1 102.7L203.6 110.2L205.1 119.1L206.1 129.5L206 136.1L204.9 140.5L202.5 143.2L193.7 149.8L182.5 153.2L171.6 155.4L161.9 157L160.1 158.2L161.9 159.4L171.4 160.4L182.2 159.9L193 158.3L203.8 156.1L214.7 153.4L230.6 147.4L237.4 143.7L244.3 138.1L255.2 127.4L257.6 122.6L260.6 114.6" fill="none" stroke="#9a9a9a" stroke-width="0.7"/>
<path d="M138.7 23.3L141.5 40L143.5 52L145.1 60L150 65L155 70L158.2 80.9L160.3 90L162.2 97.2L164.2 105L165 110.8L164.5 121.2L166.5 131.4L168.8 138L169.3 142L167.5 146.5L162 149.8L150.4 152.4L142.2 156.5L137.1 160.6L135.1 163.7L138.2 166.7L147.7 168.5L159 168.8L170.4 168.6L180 167.6L185 166.8" fill="none" stroke="#2a1030" stroke-width="0.7" opacity="0.8"/>
<path d="M148.7 23.3L151 30L153.5 40L158 47L164 55L170.5 60L172.9 70L177.5 75L179 83.9L181.2 92.7L184.2 100L187.9 107.4L190.8 113.3L193 122.2L194.5 131L195.2 140L193 144L188 147.5L185 150L170.4 153.2L159 154.8L149 155.5L146.5 158L148 161L159 162.8L170.4 163.2" fill="none" stroke="#141a50" stroke-width="0.7" opacity="0.8"/>
<path d="M168 23.3L169 30L167 38L168 43L172 47L177 50L179 55L181 60L182 70L182 75.7L184.9 79.4L188.6 80.9L194.5 85.3L201.9 89.7L203.4 90.6L206.8 93.4L207.9 96.8L210.7 100.1L213 103.5L213.5 106.9L215.8 110.9L220.3 113.1L224.2 115.9L227 118.7L228.7 120.4L226.5 122.1L223.1 122.7L220.3 120.4L216.9 117.1L215.2 115.9L214.1 119.3L215.2 123.8L216.9 126.6L220.3 127.2L224.2 126.1L224.8 123.8L226.5 123.3L229.9 122.7L233.3 123.8L237.2 126.6L238.3 125.5L242.8 123.8L248.5 122.1L253 118.7L255.2 115.9L256.4 111.4L256.4 106.9L256.9 96.8L261 96" fill="none" stroke="#8c8c8c" stroke-width="0.7"/>
<path d="M256.4 106.9L261 106.9" fill="none" stroke="#8c8c8c" stroke-width="0.7"/>
<path d="M152.4 23.3L152.4 24L156.3 24L157 27.4L160.9 28.5L160.9 23.3" fill="none" stroke="#8c8c8c" stroke-width="0.7"/>
<path d="M162 35.9L163 37L164.8 39.8L165.4 43.8L164.3 44.4L163.1 41.5L162 38.1L162 35.9" fill="none" stroke="#8c8c8c" stroke-width="0.7"/>
<path d="M183.4 159.3L191 157.6L196.4 152.2L198.6 148.9L201.9 149.5L206.3 151.1L203 154.4L198.6 156.5L191 158.7L184.4 159.8" fill="none" stroke="#8c8c8c" stroke-width="0.7"/>
<path d="M85 23.3L89 23.3L92 29L93.5 34L92 39L95 40.5L99 37L102 33L104.5 34.5L102 38.5L97 43L91 44.5L88.5 44L88.5 38L87.5 33L86 28Z" fill="#000"/>
<path d="M94 59.5L97 63L101 67L104 71L101 73.5L98.5 74L99 70L97 66L95 63Z" fill="#000"/>
<path d="M105 128L107 127L109 131L110 136L111.5 140L109 141L107 137L105.5 133Z" fill="#000"/>
<path d="M113 141L116 139L119 140.5L120 143L117 144.5L114 143.5Z" fill="#000"/>
<path d="M106.4 149L108.5 148L109 153L109.5 158L111.5 161.5L110.9 162.7L107.7 158Z" fill="#000"/>
<ellipse cx="120.5" cy="112" rx="1.8" ry="5.2" transform="rotate(20 120.5 112)" fill="#000"/>
<path d="M110.9 161.8L118.2 166.3L127.3 169.4L136.4 170.9L147.7 170.6L159 170.1L170.4 169.4L180 168.2L185 167.4L195 164.6L205.5 162.2L216.8 159.4L224.2 156.7L233.6 153L241.5 148.7L249.1 142.5L255.3 136.5L261 130.8L264.2 124.5L267.3 116.3" fill="none" stroke="#ff0020" stroke-width="1.3"/>
<path d="M110.9 162.9L118.2 167.4L127.3 170.5L136.4 172L147.7 171.7L159 171.2L170.4 170.5L180 169.3L185 168.5L195 165.7L205.5 163.3L216.8 160.5L224.2 157.8L233.6 154.1L241.5 149.8L249.1 143.6L255.3 137.6L261 131.9L264.2 125.6L267.3 117.4" fill="none" stroke="#000" stroke-width="1.1" stroke-dasharray="2.5 2"/>
<ellipse cx="126.0" cy="155.6" rx="7.37" ry="3.88" transform="rotate(-47 126.0 155.6)" fill="none" stroke="#1c1444" stroke-width="0.8" opacity="0.85"/>
<path d="M160.2 124.3l2 2l-2 2l-2 -2z" fill="none" stroke="#e8b0c0" stroke-width="0.6"/>
</g>
<clipPath id="clipB"><rect x="26.0" y="23.3" width="235.0" height="160.5"/></clipPath>
<g transform="translate(283.5 0)" clip-path="url(#clipB)">
<path d="M85 23.3L86 27L88 33L89 43L91 52L93.4 55L94.2 60.7L98.1 66.3L101 69.7L98.7 75.4L98.7 83.3L101.5 87.9L101 92.4L101.5 98L102.2 100L102.5 106.8L108 111.3L107.6 115.9L103.6 119.3L104.2 126L105.3 132.9L111.5 140.8L109.3 145.4L106.4 149L107.7 158L110.9 162.7L118.2 167.2L127.3 170.3L136.4 171.8L147.7 171.5L159 171L170.4 170.3L180 169.1L185 168.3L195 165.5L205.5 163.1L216.8 160.3L224.2 157.6L233.6 153.9L241.5 149.6L249.1 143.4L255.3 137.4L261 131.7L264.2 125.4L267.3 117.2L268.3 117.2L268.3 18.3L85 18.3Z" fill="#ff0f22"/>
<path d="M108 148L109.3 145.4L107.2 148.1ZM112 140L115 135L116.5 128.6L118 120L119 114L122 108L127 102L130 94.6L131 81.9L129.6 67.4L125.1 52.9L126 40.1L127 23.3L85 23.3L86 27L88 33L89 43L91 52L93.4 55L94.2 60.7L98.1 66.3L101 69.7L98.7 75.4L98.7 83.3L101.5 87.9L101 92.4L101.5 98L102.2 100L102.5 106.8L108 111.3L107.6 115.9L103.6 119.3L104.2 126L105.3 132.9L111.5 140.8L109.3 145.4Z" fill="#d00a1a"/>
<path d="M104 40.1L108 32L108.7 23.3L85 23.3L86 27L88 33L88.7 40.1Z" fill="#b8081a"/>
<path d="M104 108L106.9 102L108.7 94.6L110.5 85.5L111.5 76.4L110.5 67.4L111.5 58.3L110.5 49.2L103.3 40.1L98 32L93 23.3L85 23.3L86 27L88 33L89 43L91 52L93.4 55L94.2 60.7L98.1 66.3L101 69.7L98.7 75.4L98.7 83.3L101.5 87.9L101 92.4L101.5 98L102.2 100L102.5 106.8L104 108Z" fill="#a0000e"/>
<path d="M138.5 23.3L261 23.3L261 125.9L258.4 130.8L250 139.1L245 143.5L240 147.6L232.5 151.6L216.5 157.7L206 160.3L204 161.4L185.5 167.5L170.5 169.4L159 169.6L147.5 169.3L137.5 167.1L134.6 164.3L134.4 163.3L136.5 160.1L141.5 156L150 151.7L161.5 149.1L166.9 145.8L168.5 141.8L167.9 135.3L168.3 131.3L171.5 119.3L172 115.3L171.8 111.3L171 107.3L166.7 91.8L163.9 79.3L162.6 75.8L160.2 71.8L149.6 59.8L147 55.3L145.4 51.3L142.9 43.3ZM131.5 144.8L134.5 145.4L135.8 146.8L136.3 148.3L136.1 151.8L133.6 157.3L129.5 162L125.5 164.8L121 166.4L119 166.3L117.5 165.8L115.9 163.8L115.6 160.8L116.3 157.8L118.8 153.3L121.4 150.3L124.5 147.6L128 145.6Z" fill="#f81125" fill-rule="evenodd"/>
<path d="M139 23.3L261 23.3L261 125.6L258.4 130.3L246.5 142.1L239.5 147.6L233 151.1L216.5 157.6L205.1 160.3L186.5 166.7L181.5 167.8L173 168.7L159 169.1L147 168.8L137.9 166.8L135 164L135 163.3L137 160.3L142 156.3L151 151.9L162 149.5L167.2 146.3L169 141.8L168.6 139.3L168.6 132.3L170.5 123.8L172 119.4L172.5 115.3L172.3 111.3L171.5 107.1L167 91.3L164.5 79.3L162.9 75.3L160.5 71.4L150 59.5L147 54.3L143 42.3ZM130.5 145.2L132.5 145.2L134 145.7L135.2 146.8L135.9 148.3L135.7 152.3L133.6 156.8L130 161.2L125.5 164.5L121 166L119 165.9L117.7 165.3L116.2 163.3L116 160.8L116.7 157.8L118.5 154.3L121 151.1L124 148.3L127.5 146.2Z" fill="#ea132c" fill-rule="evenodd"/>
<path d="M139.5 23.3L261 23.3L261 125.5L258.3 130.3L245 143.1L239.5 147.5L233 151L216.5 157.4L205 160.2L186.5 166.6L182 167.2L181.5 167.6L173.5 168.2L173 168.6L159 168.7L147 168.6L146.5 168.2L141.5 167.6L138 166.6L135.1 163.8L135.2 163.3L137 160.5L142 156.5L151 152L162 149.9L167.6 146.3L169.1 142.3L169.1 139.8L168.7 139.3L168.7 132.3L170.7 123.8L172.1 120.3L172.7 115.3L172.6 110.8L172.2 110.3L172.1 108.3L170.6 102.3L168.2 95.3L167.1 89.8L166.7 89.3L166.6 87.3L166.2 86.8L166.1 84.8L165.2 82.3L165.1 80.3L164.1 77.3L162.1 73.3L160.1 70.3L151.6 61.3L151.6 60.8L149.6 58.8L147.1 54.3L147 53.3L146.1 51.8L144.5 46.3L144.1 45.8L144 44.3L143.1 42.3L143 40.8L142.1 38.3L142 36.3L141.1 33.8L140.5 29.3L139.6 26.8L139.5 24.8L139.1 24.3L139.1 23.3ZM130 145.7L132 145.6L133.5 146L134.6 146.8L135.5 148.3L135.7 150.3L135.3 152.3L133.3 156.8L130 160.8L125.5 164.2L121.5 165.6L119.5 165.6L118 165L116.7 163.3L116.3 160.8L117 157.8L118.5 154.8L121 151.4L123.8 148.8L127 146.8Z" fill="#db1633" fill-rule="evenodd"/>
<path d="M139.5 23.3L261 23.3L261 125.3L258.2 130.3L245 143L239.5 147.3L233 150.9L216.5 157.3L205 160.1L186.5 166.4L181.5 167.4L173.5 168.1L173 168.4L159 168.6L147 168.4L146.5 168L141.5 167.4L138 166.4L135.3 163.8L135.4 163.3L137 160.7L142 156.6L151 152.2L162 150L167.8 146.3L167.9 145.3L169.3 142.3L169.3 139.8L168.9 139.3L168.9 132.3L169.3 131.8L169.4 129.8L169.8 129.3L170.9 123.8L172.3 120.3L172.9 115.3L172.8 110.8L172.4 110.3L172.3 108.3L171.9 107.8L170.8 102.3L169.4 98.8L169.3 97.3L168.4 95.3L167.3 89.8L166.9 89.3L166.8 87.3L166.4 86.8L166.3 84.8L165.4 82.3L165.3 80.3L164.3 77.3L160.2 70.3L151.7 61.3L151.7 60.8L149.7 58.8L147.2 54.3L147.1 53.3L146.2 51.8L144.6 46.3L144.2 45.8L144.1 44.3L143.2 42.3L143.1 40.8L142.2 38.3L142.1 36.3L141.2 33.8L140.6 29.3L140.2 28.8L139.6 24.8L139.2 24.3L139.1 23.3ZM129 146.3L132.5 146.1L134 146.8L134.8 147.8L135.2 149.3L135.2 151.3L133.6 155.8L130.2 160.3L126 163.6L122 165.2L120 165.2L118.5 164.7L117.2 163.3L116.7 161.3L117.2 158.3L118.5 155.3L120.6 152.3L123 149.8L126 147.6Z" fill="#cd1839" fill-rule="evenodd"/>
<path d="M139.5 23.3L261 23.3L261 125L258.1 130.3L245 142.8L240 146.9L232.9 150.8L216.5 157.1L205 160L186 166.3L180.9 167.3L171.7 168.3L159 168.4L147.5 168.2L139 166.5L138 166L135.7 163.8L135.8 163.3L137.4 160.8L142.1 156.8L151 152.4L162 150.1L167.9 146.3L169.6 141.8L169.2 135.3L169.7 131.8L172.9 119.3L173.3 115.3L173.1 111.3L172.3 107.3L167.8 91.3L165.5 80.3L164.4 77.3L160.3 70.3L151.8 61.3L151.8 60.8L149.8 58.8L149.2 57.3L148.3 56.3L147.3 54.3L147.2 53.3L146.3 51.8L144.7 46.3L144.2 45.8L144.2 44.3L143.2 42.3L143.2 40.8L142.7 40.3L142.2 36.3L141.2 33.8L141.2 31.8L140.7 31.3L140.7 29.3L140.2 28.8L139.7 24.8L139.2 24.3L139.2 23.3ZM128.5 146.8L132 146.4L133.1 146.8L134.2 147.8L134.8 149.3L134.9 150.8L133.5 155.3L130.5 159.6L126.5 163L122.5 164.7L120.5 164.9L119 164.5L117.7 163.3L117.1 161.3L117.3 158.8L118.5 155.8L120.5 152.8L123 150.1L125.5 148.2Z" fill="#be1a40" fill-rule="evenodd"/>
<path d="M139.5 23.3L261 23.3L261 124.8L258 130.2L247 140.9L239.9 146.8L231.5 151.3L215.6 157.3L205 159.9L185 166.2L179.5 167.1L170 168L159 168.2L148 167.7L138.5 165.3L136.9 163.3L138 161.2L142.7 156.8L150.3 152.8L162 150.3L168.2 146.8L170.5 142.3L170.7 135.3L174.3 119.8L174.6 115.3L174.3 111.3L173.4 107.3L168.8 91.3L166.3 79.8L163.8 74.8L161.3 71.3L158 67.8L158 67.3L151.9 61.3L151.9 60.8L149.9 58.8L149.3 57.3L148.4 56.3L147.4 54.3L147.3 53.3L146.3 51.8L144.8 46.3L144.3 45.8L143.8 42.8L143.3 42.3L143.3 40.8L142.8 40.3L142.8 38.8L142.3 38.3L142.3 36.3L141.8 35.8L141.8 34.3L141.3 33.8L141.3 31.8L140.8 31.3L140.8 29.3L140.3 28.8L140.3 27.3L139.8 26.8L139.8 24.8L139.3 24.3ZM130 146.8L131.5 146.7L133 147.3L134.4 149.3L134.2 152.8L132.3 156.8L129.4 160.3L125.5 163.2L122 164.4L120.5 164.5L119 163.9L117.7 162.3L117.5 160.3L118.1 157.3L119.7 154.3L122 151.5L124.5 149.3L127.5 147.5Z" fill="#b01d47" fill-rule="evenodd"/>
<path d="M139.5 23.3L261 23.3L261 124.5L258 130L247 140.8L239.7 146.8L232 150.9L215.2 157.3L206 159.5L185 165.8L170.5 167.6L159 167.7L148 167.2L143.5 166.2L139 164.5L138 163.3L138.7 161.8L142.6 157.3L144.9 155.8L150.5 152.9L162.5 150.5L168.6 147.3L171.6 142.3L172.4 135.8L173.7 131.3L175.8 120.3L176 115.8L175.4 110.8L169.7 90.8L167.3 79.8L164.7 74.8L162 70.7L158.5 66.8L150 58.8L149.4 57.3L148.5 56.3L147.5 54.3L147.4 53.3L146.4 51.8L144.9 46.3L144.4 45.8L143.9 42.8L143.4 42.3L143.3 40.8L142.9 40.3L142.8 38.8L142.4 38.3L142.3 36.3L141.9 35.8L141.8 34.3L141.4 33.8L141.3 31.8L140.9 31.3L140.8 29.3L140.4 28.8L140.3 27.3L139.9 26.8ZM129.5 147.2L131 147.1L132.5 147.5L134 149.3L134 152.3L132.3 156.3L129.5 159.9L126 162.6L122.5 164L121 164.1L119.5 163.7L118.2 162.3L117.8 160.3L118.3 157.8L119.7 154.8L121.6 152.3L124.2 149.8L127 148Z" fill="#a11e4c" fill-rule="evenodd"/>
<path d="M139.5 23.3L261 23.3L261 124.1L258 129.8L246.8 140.8L239.5 146.8L232 150.8L215 157.2L205.5 159.5L184.5 165.6L170.5 167.2L159 167.3L148 166.6L144 165.7L139.5 163.8L139.1 163.3L139.5 162.3L142.7 157.8L148 154.2L151 153.1L162.5 150.9L169.4 147.3L172.8 142.3L174.3 135.8L175.4 132.8L177.4 118.3L176.6 110.8L171.6 94.3L168.2 79.3L162.5 69.8L160 66.8L151 58.4L146.5 51.5L145.4 47.8L145 47.3L144.9 46.3L144.5 45.8L143.9 42.8L143.5 42.3L142.9 38.8L142.5 38.3L142.4 36.3L142 35.8L141.9 34.3L141.5 33.8L141.4 31.8L141 31.3L140.9 29.3L140.4 28.8L140.4 27.3L140 26.8ZM128.5 147.8L131.5 147.6L132.8 148.3L133.5 149.3L133.7 152.3L132.3 155.8L129.5 159.5L126 162.3L122.5 163.7L119.8 163.3L118.7 162.3L118.2 160.3L118.6 157.8L119.7 155.3L123.5 150.7L126 148.9Z" fill="#911f51" fill-rule="evenodd"/>
<path d="M140 23.3L261 23.3L261 123.7L257.8 129.8L246.6 140.8L239.5 146.6L232 150.6L215.5 156.9L184.5 165.2L170.5 166.8L159 166.8L148 166.1L144.5 165.2L140.6 163.3L140.4 162.8L143.2 157.8L148.2 154.3L151 153.3L162.5 151.2L169 148.4L170.3 147.3L174.1 142.3L177.4 133.8L178.8 117.8L177.8 110.8L172.8 94.8L169.2 79.3L162 67.6L152 57.9L147.3 50.8L144.8 45.3L144 42.8L139.6 23.3ZM128 148.3L131 147.9L132 148.3L133 149.3L133.4 150.8L133.3 152.3L132 155.8L129.4 159.3L126 162L122.5 163.3L120 162.9L119 161.8L118.6 160.3L118.8 158.3L119.8 155.8L121.4 153.3L123.5 151.1L125.5 149.5Z" fill="#811f55" fill-rule="evenodd"/>
<path d="M141 23.3L261 23.3L261 123.2L257.6 129.8L246.5 140.7L239.5 146.4L232 150.5L215.5 156.8L184.5 164.8L170.5 166.4L159 166.4L148 165.5L145 164.7L141.6 162.8L143.8 157.8L148.5 154.3L151 153.5L162.5 151.6L169 149L170.8 147.8L174.6 143.8L176.3 141.3L179.3 134.8L180.3 120.8L180.1 115.8L179.1 110.8L173.8 94.8L170.1 78.8L162.1 65.8L153 57.3L148.3 50.3L145.1 42.8L140.9 24.8L140.6 23.3ZM129.5 148.3L131.9 148.8L133 150.8L132.6 153.8L131.1 156.8L128.5 159.8L125.5 161.9L122.5 162.9L120 162.3L119.2 161.3L119 159.3L119.6 156.8L121 154.3L125 150.2L127.5 148.8Z" fill="#721f59" fill-rule="evenodd"/>
<path d="M142 23.3L261 23.3L261 122.7L257.5 129.6L246.5 140.5L239.3 146.3L232 150.3L215.5 156.6L184.5 164.4L170.5 166L159 165.9L148 164.9L145.5 164.2L143.1 162.8L142.8 162.3L144.2 157.8L148.5 154.5L151 153.8L162.5 151.9L169.5 149.4L171.3 148.3L176.8 143.3L179.5 139.7L181.2 135.8L181.9 121.3L181.6 116.3L180.3 110.8L174.8 94.8L171 78.3L163 65.2L154 56.7L149.4 49.8L147.1 45.3L146 42.3L141.8 24.8L141.5 23.3ZM128.5 148.8L131 148.8L132.5 150.3L132.6 152.8L131.1 156.3L128.5 159.5L125.5 161.6L122.5 162.6L120.5 162.1L119.5 160.8L119.3 159.3L120.6 155.3L124 151.3L126.5 149.6Z" fill="#62205e" fill-rule="evenodd"/>
<path d="M142.5 23.3L261 23.3L261 122.2L257.6 129.3L246.4 140.3L239 146.3L232 150.1L222.6 153.8L215.5 156.4L184.5 164L170.5 165.6L159 165.5L147.5 164.3L145.5 163.5L143.8 162.3L144.1 159.3L144.7 157.8L148.5 154.7L163 152.2L170 149.9L176.6 145.3L180 142.3L181 141.1L183.2 136.3L183.5 122.3L182.8 115.3L181.3 109.8L175.7 94.3L171.8 77.8L168.1 72.3L163.7 64.3L159 60.3L155 56.1L150 48.6L147.1 42.3ZM128 149.3L130.5 149.1L132 150.4L132.2 152.8L131.1 155.8L128.8 158.8L126 161L123 162.1L121 161.9L120 160.8L119.7 159.3L120 157.3L121 155.3L124 151.6Z" fill="#4e2467" fill-rule="evenodd"/>
<path d="M143.5 23.3L261 23.3L261 121.8L257.4 129.3L246.2 140.3L238.7 146.3L232 149.9L223.5 153.3L215.5 156.2L184.5 163.6L180 164.4L170.5 165.2L159 165L147.5 163.7L145 162.3L144.7 160.8L145.1 157.8L148.5 154.9L163 152.5L170 150.5L173.4 148.8L181.5 143.5L185.3 137.8L185.2 123.8L184.4 115.3L176.7 94.3L172.7 77.3L169 72.3L164.7 63.8L159.5 59.4L155.7 55.3L150.5 47.4L148 41.8ZM127.5 149.8L130 149.5L131.5 150.4L131.9 152.8L130.8 155.8L128.5 158.8L126 160.7L123 161.8L121 161.3L120.1 159.3L121 155.8L123.7 152.3Z" fill="#342d75" fill-rule="evenodd"/>
<path d="M144.5 23.3L261 23.3L261 121.2L257.1 129.3L246 140.2L238.5 146.2L232 149.7L222 153.7L215 156.2L184.5 163.2L180 163.9L170.5 164.7L159 164.5L147.5 163L145.7 161.8L145.5 157.8L149 154.8L163 152.9L172.3 150.3L182.5 145.1L187.2 139.3L187.7 138.3L187.1 123.3L186 115.3L177.7 93.8L173.8 76.8L169.9 71.8L165.9 63.3L160.3 58.8L156.6 54.8L153.3 50.3L150.5 45.4L148.7 41.3L144.3 24.3L144.2 23.3ZM127.5 150.2L129.5 149.9L131.1 150.8L131.5 152.8L130.4 155.8L128.5 158.4L126 160.3L123.5 161.3L121.5 161L120.8 160.3L120.5 158.8L121.6 155.3L124.1 152.3Z" fill="#1a3583" fill-rule="evenodd"/>
<path d="M145 23.3L261 23.3L261 120.8L257.4 128.8L246 140.1L238.5 146.1L232 149.6L215 156.1L204.5 158.6L180.5 163.5L172 164.2L159 164.1L148 162.6L146.6 161.8L145.7 157.8L149 155L163 153.3L170 151.8L174.4 150.3L183.5 146.4L189 140.7L189.8 138.8L189 124.8L187.5 115.3L178.8 93.8L176.7 85.8L174.9 76.3L170.6 70.8L167.5 62.3L161.4 57.3L156.1 51.3L151.5 45.2L149.5 40.8L147.3 31.3ZM129 150.3L130.5 150.9L131.1 152.3L130.8 154.3L129.8 156.3L128 158.5L126 160L124 160.8L122 160.7L121.2 159.8L120.9 158.3L122.3 154.8L125.5 151.5L127.5 150.5Z" fill="#173a8d" fill-rule="evenodd"/>
<path d="M148 23.3L261 23.3L261 120.5L259.7 123.8L257 129.1L246 139.9L239 145.6L231 149.9L215 156L204.5 158.5L182 163L170.5 164.1L159 163.8L148 162.2L147.1 161.8L146 157.8L149 155.1L160 154L170 152.1L183.5 147.3L189.9 141.3L190.9 138.8L189.7 123.3L188 114.3L179.2 93.3L177 84.3L175.5 76.1L171.3 70.8L168.5 61.3L162.5 56.2L157.9 49.8L152.6 40.8L150 30.3L147.7 23.8L147.6 23.3ZM128.5 150.8L130 151.3L130.6 152.3L130.4 154.3L129.4 156.3L127.7 158.3L125.6 159.8L123.5 160.4L122 159.9L121.4 158.8L121.5 157.3L123 154.3L125.7 151.8Z" fill="#2e3a94" fill-rule="evenodd"/>
<path d="M148.5 23.3L261 23.3L261 120.2L257.1 128.8L245.9 139.8L239 145.4L231 149.8L215 155.8L203.5 158.7L180.5 163L170.5 163.9L159 163.5L148 161.9L147.1 161.3L146.2 157.8L149 155.2L159 154.3L170 152.4L183.5 148.1L190.5 142.1L191.9 139.3L190.5 122.8L188.7 114.3L179.7 93.3L177.5 84.3L176 75.8L171.7 70.3L169.3 60.8L162.9 55.3L157.5 47.7L152.9 40.3L150.4 30.3L148.1 23.3ZM127 151.7L128.5 151.5L129.8 152.3L129.9 153.8L129.4 155.3L128.1 157.3L126.5 158.7L124.5 159.6L123 159.6L122 158.3L122.6 155.8L124.5 153.3Z" fill="#3f3d9c" fill-rule="evenodd"/>
<path d="M148.5 23.3L261 23.3L261 119.8L259.8 123.3L257 128.8L245.8 139.8L238.5 145.7L231 149.7L215.5 155.6L203.5 158.6L181 162.8L170.5 163.6L159 163.3L147.5 161.3L146.3 157.8L149 155.3L159 154.4L170 152.6L184 148.7L191.4 142.8L193 139.3L192.4 131.3L191.3 122.8L189.3 113.8L183.1 100.3L180.3 93.3L178 84.3L176.5 75.5L172.2 70.3L169.7 60.3L163.5 55.2L157.8 47.3L153 39.8L150.8 30.3ZM127 152.3L128.5 152.2L129.1 152.8L129.3 153.8L128.9 155.3L126.5 158.1L125 158.9L123.5 158.9L122.7 157.8L123.1 155.8L125 153.5Z" fill="#4a44a4" fill-rule="evenodd"/>
<path d="M149 23.3L261 23.3L261 119.6L259.7 123.3L256.8 128.8L245.7 139.8L238.5 145.6L231 149.6L215.5 155.5L203.5 158.6L181 162.7L170.5 163.4L159.5 163.2L150 161.8L148 161.3L147.5 160.8L146.5 157.8L149 155.4L159 154.6L169.5 153L184.5 149.3L192.2 143.3L194 139.8L193.4 131.3L192.2 123.3L190.1 113.8L183.6 100.3L180.6 92.8L178.4 83.8L177 75.3L172.5 69.8L170.4 60.3L163.1 54.3L163 53.8L158.6 48.3L153.1 39.8L151 30.3L148.6 23.8L148.6 23.3ZM126.5 152.9L128 152.8L128.8 153.8L128.2 155.8L126 158L124.5 158.5L124 158.3L123.2 157.3L123.6 155.8L125 153.9Z" fill="#514aab" fill-rule="evenodd"/>
<path d="M149 23.3L261 23.3L261 119.4L259.6 123.3L256.7 128.8L245.5 139.8L238.5 145.5L231 149.5L215.5 155.4L203.5 158.5L181 162.6L171.5 163.3L159.5 163.1L153 162.2L152.5 161.8L150 161.7L148 161.2L147.6 160.8L146.7 158.8L146.6 157.8L149 155.5L159 154.8L166.5 153.4L169.5 153.3L185 149.8L189 146.3L192.9 143.8L195 139.8L194 129.2L192.9 122.3L190.9 114.3L183.6 99.3L181.1 93.3L179.5 86.3L179.1 85.8L179 84.3L178.6 83.8L177.5 75.3L172.6 69.8L171.1 62.3L170.6 61.8L170.6 60.3L163.2 54.3L158.7 48.3L153.2 39.8L151.1 30.3L148.7 23.8L148.6 23.3ZM126.5 153.2L128.2 153.3L128.5 154.3L128.3 155.3L126.5 157.5L125.5 158L124 158L123.5 157.3L123.8 155.8L125 154.2Z" fill="#544eb1" fill-rule="evenodd"/>
<path d="M149 23.3L261 23.3L261 119.2L259.5 123.3L256.6 128.8L245.9 139.3L238.5 145.3L231 149.4L215.5 155.3L203.5 158.4L181 162.5L171 163.2L159.5 163.1L153 162.1L152.5 161.7L150 161.6L147.7 160.8L146.8 158.8L146.7 157.8L149 155.5L159 154.9L166.5 153.5L169.5 153.3L185 149.9L189 146.5L193 143.9L195.1 139.8L195.1 137.8L194.7 137.3L194.6 131.3L194.2 130.8L194.1 128.3L193.7 127.8L193.1 122.3L192.7 121.8L191.1 114.3L183.7 99.3L183.6 98.3L181.2 93.3L179.1 84.3L178.7 83.8L177.6 75.3L172.7 69.8L170.6 60.3L163.2 54.3L157.7 46.8L153.3 39.8L151.2 30.3L148.7 23.8L148.7 23.3ZM127 153.2L128.2 153.8L127.8 155.8L126 157.6L125 158L124.1 157.8L123.7 156.8L124.3 155.3L125.5 154Z" fill="#5751b6" fill-rule="evenodd"/>
<path d="M149 23.3L261 23.3L261 118.8L259.3 123.3L256.5 128.7L245.7 139.3L238.5 145.2L231 149.2L215 155.3L206 157.4L203.5 158.4L181 162.5L171 163.1L159.5 163L153 162L152.5 161.6L150 161.5L147.8 160.8L146.8 158.8L146.8 157.8L149 155.6L159 154.9L169.5 153.4L185 149.9L189 146.6L193 144L195.2 139.8L195.2 137.8L194.8 137.3L194.7 131.3L194.3 130.8L194.2 128.3L193.8 127.8L193.7 125.3L193.3 124.8L193.2 122.3L192.8 121.8L191.2 114.3L183.8 99.3L183.7 98.3L181.3 93.3L178.8 83.8L177.7 75.3L172.8 69.8L170.7 60.3L163.3 54.3L157.8 46.8L153.3 39.8L151.2 30.3L148.8 23.8ZM126 153.8L127 153.4L128 153.8L127.9 155.3L126.5 157.1L124.5 157.8L124 157.3L124.1 155.8Z" fill="#5954b9" fill-rule="evenodd"/>
<path d="M149 23.3L261 23.3L261 118.4L259.2 123.3L256.5 128.5L245.5 139.3L238.5 145L231 149.1L215 155.2L206 157.4L203.5 158.3L181 162.4L170.5 163.1L159.5 162.9L147.9 160.8L146.9 158.8L146.9 157.8L149 155.7L159 155L169.5 153.4L185 150L189 146.7L193 144.1L195.3 139.8L195.3 137.8L194.9 137.3L194.8 131.3L194.4 130.8L194.3 128.3L193.9 127.8L193.8 125.3L193.4 124.8L193.3 122.3L192.4 119.8L192.3 118.3L191.9 117.8L191.8 116.3L191.4 115.8L191.3 114.3L183.9 99.3L183.8 98.3L181.4 93.3L178.9 83.8L177.7 75.3L172.9 69.8L170.8 60.3L163.4 54.3L157.8 46.8L153.4 39.8L151.3 30.3L148.9 23.8ZM126.5 153.7L127.5 153.7L127.9 154.3L127.5 155.8L126 157.3L124.5 157.5L124.1 156.8L124.3 155.8L125.5 154.3Z" fill="#5b56bd" fill-rule="evenodd"/>
<path d="M149 23.3L261 23.3L261 117.7L258.9 123.3L256.3 128.3L245.5 139L238.5 144.7L231 148.8L215 154.9L205.5 157.2L203.1 158.3L183 161.9L171.5 162.9L161 162.7L148.4 160.3L147.5 158.3L149.5 156.1L169.5 153.5L185 150.1L193 144.3L195.6 139.8L195.2 130.8L193.7 121.8L191.6 113.3L181.6 92.8L179.2 83.8L177.9 75.3L173.2 69.8L170.6 59.8L164 54.8L158 46.8L153.6 39.8L151.4 30.3ZM126 154.3L127 154L127.5 154.3L127.4 155.3L126.5 156.6L125 157.2L124.5 156.8L124.6 155.8Z" fill="#605cc4" fill-rule="evenodd"/>
<path d="M149.5 23.3L261 23.3L261 117.3L259 122.8L256.5 127.8L245.5 138.8L238 144.8L229.5 149.3L215 154.8L205.5 157L203 158.2L182.8 161.8L171 162.8L161 162.4L155.4 161.3L149.4 159.3L149 158.3L149.8 157.3L153.4 156.3L169.5 153.6L185 150.2L193.7 144.3L196.2 140.3L196.6 135.8L196.3 130.8L194.9 121.8L192.8 112.8L189.8 105.8L185.5 99.2L182.1 92.8L179.7 83.8L178 74.8L173.7 69.3L172.4 63.3L171.2 59.8L164 54.4L159.2 48.3L154.2 40.3L151.4 29.8L149.2 23.3ZM126 154.6L127 154.5L127.1 155.3L126 156.6L125 156.7L124.9 155.8Z" fill="#6461cb" fill-rule="evenodd"/>
<path d="M149.5 23.3L261 23.3L261 117.3L260 119.3L260 120.3L259 121.8L259 122.8L256.5 127.8L245.5 138.8L245 138.8L242.5 141.3L242 141.3L238 144.8L229.5 149.3L228.5 149.3L227 150.3L226 150.3L224.5 151.3L222 151.8L220.5 152.8L218 153.3L215 154.8L213.5 154.8L213 155.3L211.5 155.3L211 155.8L209.5 155.8L209 156.3L205.5 156.8L203 158.1L182.5 161.7L170.5 162.7L161 162.2L155.5 160.7L150.9 158.3L155.7 156.3L161 155L170.5 153.6L185.2 150.3L194 144.6L197 140.3L197.7 135.3L197.4 130.3L196.2 121.8L194.1 112.3L190.9 104.8L186.5 98.9L182.5 92.4L180.1 83.8L178.4 74.8L174.4 69.3L173 62.8L171.7 59.8L164 54L160.5 50L154.8 40.8ZM126.5 154.8L126.8 155.3L126.5 155.8L125.3 156.3L125.6 155.3Z" fill="#6966d3" fill-rule="evenodd"/>
<path d="M150 23.3L261 23.3L261 117.3L260 119.3L260 120.3L259 121.8L259 122.8L256.5 127.8L245.5 138.8L245 138.8L242.5 141.3L242 141.3L238 144.8L229.5 149.3L228.5 149.3L227 150.3L226 150.3L224.5 151.3L222 151.8L220.5 152.8L218 153.3L215 154.8L213.5 154.8L213 155.3L211.5 155.3L211 155.8L209.5 155.8L209 156.3L205.5 156.8L203 158L192 160L180 161.9L170.5 162.5L160.7 161.8L156 160.3L153.6 158.8L153.5 158.3L155.9 156.8L161 155.2L171 153.6L185.5 150.3L192 146.7L194.4 144.8L197.8 140.3L198.7 137.3L198.8 134.8L198.6 129.8L197.2 120.3L195.3 111.8L193.1 105.8L191.4 102.8L187.5 98.5L183 92.3L180.5 83.3L178.8 74.8L174.8 68.8L173.7 62.8L172.4 59.8L171.5 58.8L165 54.6L161 50.6L154.8 40.3ZM126 155.3L126.2 155.3L126 155.9L125.7 155.8Z" fill="#6d6bda" fill-rule="evenodd"/>
<path d="M150.5 23.3L261 23.3L260.9 117.3L260 119.3L259.9 120.3L259 121.8L258.9 122.8L256.4 127.8L245.5 138.7L245 138.8L242.5 141.2L242 141.3L238 144.8L229.5 149.2L228.5 149.3L227 150.2L226 150.3L224.5 151.2L222 151.8L220.5 152.7L218 153.3L215 154.7L213.5 154.8L213 155.2L211.5 155.3L211 155.7L209.5 155.8L209 156.2L205.5 156.8L203 157.8L193 159.8L180 161.7L170.5 162.3L161 161.6L156.5 159.9L155 158.8L155.1 158.3L156.5 157.1L161 155.4L171 153.8L185 150.7L192.5 146.9L194.6 145.3L199 139.8L199.8 137.3L199.8 130.8L198.3 119.8L196.6 111.3L194.5 105.3L192 101.3L188 97.4L183.6 92.3L180.9 83.3L179.3 75.3L175.5 68.8L174.3 62.3L173 59.7L172 58.7L165 54.3L161 50.4L155.3 40.8L152.5 30.3L150.1 23.3Z" fill="#7270e2" fill-rule="evenodd"/>
<path d="M150.5 23.3L261 23.3L260.9 117.3L259.9 119.3L259.9 120.3L258.9 121.8L258.9 122.8L256.4 127.8L245.5 138.7L245 138.7L242.5 141.2L242 141.2L238 144.7L229.5 149.2L228.5 149.2L227 150.2L226 150.2L224.5 151.2L222 151.7L220.5 152.7L218 153.2L215 154.7L213.5 154.7L213 155.2L211.5 155.2L211 155.7L209.5 155.7L209 156.2L205.5 156.7L205 157.2L203 157.8L193 159.8L182 161.4L171 162.1L161 161.3L157.5 159.8L156.1 158.8L157.1 157.3L161.5 155.4L171 153.9L182.5 151.5L185.5 150.7L192.5 147.4L195.2 145.3L200 139.8L200.7 138.3L201 135.8L200.9 130.3L199.6 119.8L197.9 111.3L196 104.8L194.7 102.3L193 100.2L184.1 92.3L181.2 82.8L179.8 75.3L176.2 68.8L174.8 61.8L173 58.8L166 54.8L160.5 49.8L155.2 39.8L152.8 30.3Z" fill="#7776e9" fill-rule="evenodd"/>
<path d="M151 23.3L261 23.3L260.9 117.3L259.9 119.3L259.9 120.3L258.9 121.8L258.9 122.8L256.4 127.8L245.5 138.7L245 138.7L242.5 141.2L242 141.2L238 144.7L229.5 149.2L228.5 149.2L227 150.2L226 150.2L224.5 151.2L222 151.7L220.5 152.7L218 153.2L215 154.7L213.5 154.7L213 155.2L211.5 155.2L211 155.7L209.5 155.7L209 156.2L205.5 156.7L205 157.2L203.6 157.3L203 157.8L193 159.8L182.5 161.3L171.5 161.9L161.5 161.1L157 158.8L157.5 157.6L161.5 155.6L182 151.8L185.6 150.8L192.7 147.8L195.4 145.8L199.6 141.8L201.5 139.1L202.1 135.8L202.1 129.8L200.8 119.3L199.2 110.8L197.1 103.8L195.9 101.3L193.5 98.7L184.4 91.8L181.7 82.8L180.2 75.3L177.3 70.3L176.6 68.3L175.6 61.8L173.5 58.6L166 54.4L160.5 49.8L155.4 39.8L153.1 30.3L150.7 23.3Z" fill="#7c7bf1" fill-rule="evenodd"/>
<path d="M151 23.3L261 23.3L260.9 117.3L259.9 119.3L259.9 120.3L258.9 121.8L258.9 122.8L256.4 127.8L245.5 138.7L245 138.7L242.5 141.2L242 141.2L238 144.7L229.5 149.2L228.5 149.2L227 150.2L226 150.2L224.5 151.2L222 151.7L220.5 152.7L218 153.2L215 154.7L213.5 154.7L213 155.2L211.5 155.2L211 155.7L209.5 155.7L209 156.2L205.5 156.7L205 157.2L203.5 157.3L203 157.8L201.5 157.8L193 159.7L182.5 161.3L170.5 161.8L161.5 160.8L157.8 158.8L157.8 157.8L161.5 155.7L171.5 154.1L182.7 151.8L193 148.2L200.7 141.8L202.5 139.3L203.2 135.8L203.2 129.8L202.1 119.3L200.4 110.3L198.6 103.3L197 100.2L194 97.4L185 91.7L182.1 82.8L180.6 75.3L177.6 69.8L176.1 61.3L174 58.3L166.3 54.3L160.6 49.8L155.7 39.8L153.4 30.3Z" fill="#8080f9" fill-rule="evenodd"/>
<path d="M151.5 23.3L261 23.3L261 116.7L260.4 117.8L260.4 118.8L259.9 119.3L259.9 120.3L258.9 121.8L258.9 122.8L256.4 127.8L245.5 138.7L245 138.7L242.5 141.2L242 141.2L238 144.7L229.5 149.2L228.5 149.2L227 150.2L226 150.2L224.5 151.2L222 151.7L220.5 152.7L218 153.2L215 154.7L213.5 154.7L213 155.2L211.5 155.2L211 155.7L209.5 155.7L209 156.2L205.5 156.7L205 157.2L203.5 157.3L203 157.7L201 157.8L200.5 158.2L198.5 158.3L198 158.7L196 158.8L195.5 159.2L193.5 159.3L193 159.7L190.2 159.8L189.5 160.2L186.8 160.3L186 160.7L183 160.9L182.5 161.3L170.5 161.8L170 161.4L161.5 160.8L158 158.3L160.5 156.3L163 155.3L168.5 154.8L169 154.3L171.4 154.3L172 153.8L173.9 153.8L174.5 153.3L181.5 152.3L182 151.8L183.3 151.8L185.5 150.8L186.5 150.8L187 150.3L188.1 150.3L193 148.7L201.3 142.3L203.4 139.8L204.3 135.8L204.4 129.8L203.4 119.3L200 102.8L198.2 99.3L195 96.4L186 91.8L185 90.8L182.5 83.3L181 75.3L178 69.8L176.9 61.3L174.2 57.8L166.5 54.3L160.6 49.8L156 40.3L153.5 29.7L151 23.3Z" fill="#8484fe" fill-rule="evenodd"/>
<path d="M151.5 23.3L261 23.3L261 116.7L260.4 117.8L260.4 118.8L259.9 119.3L259.9 120.3L258.9 121.8L258.9 122.8L256.4 127.8L245.5 138.7L245 138.7L242.5 141.2L242 141.2L238 144.7L229.5 149.2L228.5 149.2L227 150.2L226 150.2L224.5 151.2L222 151.7L220.5 152.7L218 153.2L215 154.7L213.5 154.7L213 155.2L211.5 155.2L211 155.7L209.5 155.7L209 156.2L205.5 156.7L205 157.2L203.5 157.3L203 157.7L201 157.8L200.5 158.2L198.5 158.3L198 158.7L196 158.8L195.5 159.2L193.5 159.3L193 159.7L186.5 160.3L186 160.7L183 160.8L182.5 161.2L174 161.3L173.5 161.7L170.5 161.7L170 161.3L161.5 160.8L158 158.3L160.5 156.3L163 155.4L165.5 155.3L166 154.9L168.5 154.8L169 154.4L171.5 154.3L172 153.9L174 153.8L174.5 153.4L176.5 153.3L177 152.9L179 152.8L179.5 152.4L181.5 152.3L182 151.9L183.5 151.8L187 150.3L188.5 150.3L189 149.8L190 149.8L190.5 149.3L191.5 149.3L192 148.8L194 148.3L199.5 143.8L200 143.8L204 139.8L204.5 136.3L205 135.8L205 128.8L204.5 128.3L204 118.8L203.5 118.3L203.5 115.8L203 115.3L202.5 110.3L202 109.8L202 107.8L201.5 107.3L201 103.3L200 101.8L200 100.8L199 98.8L198 98.3L196 96.3L192 94.3L190 93.8L186 91.8L185 90.8L185 89.8L184.5 89.3L184.5 88.3L184 87.8L184 86.8L183.5 86.3L183.5 85.3L182.5 83.3L181 74.8L178 69.8L178 66.8L177.5 66.3L177.5 62.8L177 62.3L177 60.8L174.5 57.8L166.5 54.3L160.6 49.8L158.6 45.8L158.5 44.8L156 40.3L155.5 37.3L155 36.8L155 35.3L154.5 34.8L154.5 33.3L154 32.8L154 31.3L153.5 30.8L153.5 29.3L153 28.8L153 27.8L152 26.3L152 25.3L151 23.3Z" fill="#8686f8" fill-rule="evenodd"/>
<path d="M151.4 23.3L153.8 30L156.2 40L158.6 45L161 50L166.5 54L174.4 57.5L177.3 61L178.4 70L181.2 75L182.7 82.4L185.6 91.2L190 93.4L195.2 95.6L198.9 98.6L201.1 103L202.6 110.4L204.1 119.2L205.1 129.6L205 136L204 140L201.9 142.4L193.2 148.9L182.3 152.2L171.4 154.4L161.5 156L158.3 158.2L161.5 160.4L171.4 161.4L182.3 160.9L193.2 159.3L204 157.1L215 154.4L222 151.8L231 148.3L238 144.5L245 138.8L251 133L256 128L258.5 123L261.5 115L266 115L266 18.3L151.4 18.3Z" fill="#fff"/>
<path d="M185.6 91.2L190 93.4L195.2 95.6L198.9 98.6L201.1 103L202.6 110.4L204.1 119.2L205.1 129.6L204.8 137" fill="none" stroke="#a8a048" stroke-width="1.6"/>
<path d="M152.3 23L154.8 29.8L157.1 39.7L161.8 49.3L167 53.1L175 56.7L178.2 60.5L179.4 69.7L182.2 74.7L183.7 82.1L186.4 90.5L195.7 94.7L199.8 98.2L202.1 102.7L203.6 110.2L205.1 119.1L206.1 129.5L206 136.1L204.9 140.5L202.5 143.2L193.7 149.8L182.5 153.2L171.6 155.4L161.9 157L160.1 158.2L161.9 159.4L171.4 160.4L182.2 159.9L193 158.3L203.8 156.1L214.7 153.4L230.6 147.4L237.4 143.7L244.3 138.1L255.2 127.4L257.6 122.6L260.6 114.6" fill="none" stroke="#9a9a9a" stroke-width="0.7"/>
<path d="M138.7 23.3L141.5 40L143.5 52L145.1 60L150 65L155 70L158.2 80.9L160.3 90L162.2 97.2L164.2 105L165 110.8L164.5 121.2L166.5 131.4L168.8 138L169.3 142L167.5 146.5L162 149.8L150.4 152.4L142.2 156.5L137.1 160.6L135.1 163.7L138.2 166.7L147.7 168.5L159 168.8L170.4 168.6L180 167.6L185 166.8" fill="none" stroke="#2a1030" stroke-width="0.7" opacity="0.8"/>
<path d="M148.7 23.3L151 30L153.5 40L158 47L164 55L170.5 60L172.9 70L177.5 75L179 83.9L181.2 92.7L184.2 100L187.9 107.4L190.8 113.3L193 122.2L194.5 131L195.2 140L193 144L188 147.5L185 150L170.4 153.2L159 154.8L149 155.5L146.5 158L148 161L159 162.8L170.4 163.2" fill="none" stroke="#141a50" stroke-width="0.7" opacity="0.8"/>
<path d="M168 23.3L169 30L167 38L168 43L172 47L177 50L179 55L181 60L182 70L182 75.7L184.9 79.4L188.6 80.9L194.5 85.3L201.9 89.7L203.4 90.6L206.8 93.4L207.9 96.8L210.7 100.1L213 103.5L213.5 106.9L215.8 110.9L220.3 113.1L224.2 115.9L227 118.7L228.7 120.4L226.5 122.1L223.1 122.7L220.3 120.4L216.9 117.1L215.2 115.9L214.1 119.3L215.2 123.8L216.9 126.6L220.3 127.2L224.2 126.1L224.8 123.8L226.5 123.3L229.9 122.7L233.3 123.8L237.2 126.6L238.3 125.5L242.8 123.8L248.5 122.1L253 118.7L255.2 115.9L256.4 111.4L256.4 106.9L256.9 96.8L261 96" fill="none" stroke="#8c8c8c" stroke-width="0.7"/>
<path d="M256.4 106.9L261 106.9" fill="none" stroke="#8c8c8c" stroke-width="0.7"/>
<path d="M152.4 23.3L152.4 24L156.3 24L157 27.4L160.9 28.5L160.9 23.3" fill="none" stroke="#8c8c8c" stroke-width="0.7"/>
<path d="M162 35.9L163 37L164.8 39.8L165.4 43.8L164.3 44.4L163.1 41.5L162 38.1L162 35.9" fill="none" stroke="#8c8c8c" stroke-width="0.7"/>
<path d="M183.4 159.3L191 157.6L196.4 152.2L198.6 148.9L201.9 149.5L206.3 151.1L203 154.4L198.6 156.5L191 158.7L184.4 159.8" fill="none" stroke="#8c8c8c" stroke-width="0.7"/>
<path d="M85 23.3L89 23.3L92 29L93.5 34L92 39L95 40.5L99 37L102 33L104.5 34.5L102 38.5L97 43L91 44.5L88.5 44L88.5 38L87.5 33L86 28Z" fill="#000"/>
<path d="M94 59.5L97 63L101 67L104 71L101 73.5L98.5 74L99 70L97 66L95 63Z" fill="#000"/>
<path d="M105 128L107 127L109 131L110 136L111.5 140L109 141L107 137L105.5 133Z" fill="#000"/>
<path d="M113 141L116 139L119 140.5L120 143L117 144.5L114 143.5Z" fill="#000"/>
<path d="M106.4 149L108.5 148L109 153L109.5 158L111.5 161.5L110.9 162.7L107.7 158Z" fill="#000"/>
<ellipse cx="120.5" cy="112" rx="1.8" ry="5.2" transform="rotate(20 120.5 112)" fill="#000"/>
<path d="M110.9 161.8L118.2 166.3L127.3 169.4L136.4 170.9L147.7 170.6L159 170.1L170.4 169.4L180 168.2L185 167.4L195 164.6L205.5 162.2L216.8 159.4L224.2 156.7L233.6 153L241.5 148.7L249.1 142.5L255.3 136.5L261 130.8L264.2 124.5L267.3 116.3" fill="none" stroke="#ff0020" stroke-width="1.3"/>
<path d="M110.9 162.9L118.2 167.4L127.3 170.5L136.4 172L147.7 171.7L159 171.2L170.4 170.5L180 169.3L185 168.5L195 165.7L205.5 163.3L216.8 160.5L224.2 157.8L233.6 154.1L241.5 149.8L249.1 143.6L255.3 137.6L261 131.9L264.2 125.6L267.3 117.4" fill="none" stroke="#000" stroke-width="1.1" stroke-dasharray="2.5 2"/>
<ellipse cx="126.0" cy="155.6" rx="7.37" ry="3.88" transform="rotate(-47 126.0 155.6)" fill="none" stroke="#1c1444" stroke-width="0.8" opacity="0.85"/>
<path d="M160.2 124.3l2 2l-2 2l-2 -2z" fill="none" stroke="#e8b0c0" stroke-width="0.6"/>
</g>
<clipPath id="clipC"><rect x="26.0" y="23.3" width="235.0" height="160.5"/></clipPath>
<g transform="translate(0 190.2)" clip-path="url(#clipC)">
<path d="M85 23.3L86 27L88 33L89 43L91 52L93.4 55L94.2 60.7L98.1 66.3L101 69.7L98.7 75.4L98.7 83.3L101.5 87.9L101 92.4L101.5 98L102.2 100L102.5 106.8L108 111.3L107.6 115.9L103.6 119.3L104.2 126L105.3 132.9L111.5 140.8L109.3 145.4L106.4 149L107.7 158L110.9 162.7L118.2 167.2L127.3 170.3L136.4 171.8L147.7 171.5L159 171L170.4 170.3L180 169.1L185 168.3L195 165.5L205.5 163.1L216.8 160.3L224.2 157.6L233.6 153.9L241.5 149.6L249.1 143.4L255.3 137.4L261 131.7L264.2 125.4L267.3 117.2L268.3 117.2L268.3 18.3L85 18.3Z" fill="#ff0f22"/>
<path d="M88 33L88.9 41.8L90 44L94 42L95 36L92 32L88 30Z" fill="#7a000c"/>
<path d="M126.5 23.3L261 23.3L261 127.1L259.1 130.8L250.5 139.5L245.5 143.9L240.5 147.9L235 151L231.5 152.7L218.5 157.7L206.3 160.8L205.9 161.3L206.1 162.8L205 162.9L204.5 163.4L202.5 163.5L202 164L200.5 164L200 164.5L198.5 164.5L198 165L196 165L195.5 165.5L194 165.5L192 166.5L190.5 166.5L188.5 167.5L187 167.5L186.5 168L185 168L184.5 168.5L178.5 169L178 169.5L174.5 169.5L174 170L170.5 170L170 170.5L162.5 170.5L162 171L152.5 171L152 171.4L133.5 171.4L133 170.9L127.5 170.4L127 169.8L124.5 169.3L123.5 168.8L122.7 166.3L119 166.3L117 165.4L115.9 163.8L115.6 162.3L116.3 157.8L117.8 154.8L119.6 152.3L124.5 147.6L128 145.6L130.5 144.9L133 144.9L135.5 145.8L145.5 140.7L155.4 138.3L155.6 137.8L154.7 131.3L154.7 122.8L155.4 111.8L154.4 106.3L148.6 82.8L146.8 77.8L137.6 67.3L135.6 63.8L132.7 54.8L129.7 42.3L126.2 25.3L126 23.3Z" fill="#f81125" fill-rule="evenodd"/>
<path d="M128 23.3L261 23.3L261 126.5L258.8 130.8L245.5 143.6L240.5 147.6L235 150.6L231.5 152.3L218.5 157.3L206 160.6L205.5 161.3L205.8 162.8L204.5 163.4L202.5 163.4L202 163.9L200.5 163.9L200 164.4L198.5 164.4L198 164.9L196 164.9L195.5 165.4L194 165.4L192 166.4L190.5 166.4L188.5 167.4L187 167.4L186.5 167.9L185 167.9L184.5 168.4L178.5 168.9L178 169.4L174.5 169.4L174 169.9L170.5 169.9L170 170.4L162.5 170.4L162 170.9L152.5 170.9L152 171.4L133.5 171.4L133 170.9L130.5 170.8L130 170.3L127.5 170.3L127 169.8L126 169.8L124.9 167.8L124.2 165.3L120 166L117.5 165.2L116.4 163.8L116 161.8L116.2 159.3L117.1 156.8L120.5 151.6L125.5 147.3L129 145.6L132 145.2L134 145.7L136 147.4L146.5 142.1L157.7 139.3L156.4 131.8L156.3 122.8L157 111.8L156 105.8L150.2 82.3L148.1 76.8L139 66.3L137.2 63.3L134.3 54.3L132.2 45.8L127.9 25.3L127.7 23.3Z" fill="#ea132c" fill-rule="evenodd"/>
<path d="M129.5 23.3L261 23.3L261 126.1L258.5 130.8L245.5 143.3L240 147.7L235.5 150.2L231.5 152.2L218.5 157.2L206 160.4L205.4 160.8L205.5 162.8L204.5 163.4L202.5 163.4L202 163.9L200.5 163.9L200 164.4L198.5 164.4L198 164.9L196 164.9L195.5 165.4L194 165.4L192 166.4L190.5 166.4L188.5 167.4L187 167.4L186.5 167.9L185 167.9L184.5 168.4L178.5 168.9L178 169.4L174.5 169.4L174 169.9L170.5 169.9L170 170.4L162.5 170.4L162 170.9L152.5 170.9L152 171.4L133.5 171.3L133 170.8L130.5 170.8L130 170.3L128.5 170.3L126.5 167.3L125.8 164.3L121 165.6L119 165.4L117.8 164.8L116.7 163.3L116.3 161.3L116.7 158.8L117.7 156.3L121.1 151.3L126 147.3L129.5 145.8L132.5 145.6L134.6 146.8L136 149.5L138 148.2L147 143.7L158.5 141L159.6 140.3L158 131.8L158 122.8L158.7 111.8L157.5 105.3L151.8 81.8L149.5 75.8L140.3 65.3L138.8 62.8L135.9 53.8L133.8 45.3L129.6 25.3Z" fill="#db1633" fill-rule="evenodd"/>
<path d="M131.5 23.3L261 23.3L261 125.8L258.5 130.6L250 139.1L245.3 143.3L240 147.5L235.5 150L231.5 152L218.5 157L205.9 160.3L205.2 160.8L205.3 162.8L204.5 163.4L202.5 163.4L202 163.9L200.5 163.9L200 164.4L198.5 164.4L198 164.9L196 164.9L195.5 165.4L194 165.4L192 166.4L190.5 166.4L188.5 167.4L187 167.4L186.5 167.9L185 167.9L184.5 168.4L178.5 168.9L178 169.4L174.5 169.4L174 169.9L170.5 169.9L170 170.4L162.5 170.4L162 170.9L152.5 170.9L152 171.4L133.5 171.3L133 170.8L131.4 170.8L129 168.3L127.7 165.8L127.4 163.3L126.5 163.3L124 164.6L121.5 165.2L119.5 165.1L118 164.4L117 162.9L116.7 161.3L117 158.8L118 156.3L121.5 151.3L126.5 147.3L130.5 146L133.5 146.5L135 148.3L135.5 152L138.5 149.8L147.5 145.3L159 142.6L161.2 141.3L161.4 140.8L159.7 131.8L159.7 122.8L160.4 111.8L159.3 105.3L153.4 81.3L151 75L141.5 64.1L140.2 61.8L137.5 53.3L134.6 41.3L131.2 24.8L131 23.3Z" fill="#cd1839" fill-rule="evenodd"/>
<path d="M133 23.3L261 23.3L261 125.7L258.5 130.4L250 139L245.1 143.3L240 147.4L235 150.2L231 152.1L218 157.1L205.7 160.3L205 160.8L205.1 162.8L204.5 163.3L202.5 163.4L202 163.9L200.5 163.9L200 164.4L198.5 164.4L198 164.9L196 164.9L195.5 165.4L194 165.4L192 166.4L190.5 166.4L188.5 167.4L187 167.4L186.5 167.9L185 167.9L184.5 168.4L178.5 168.9L178 169.4L174.5 169.4L174 169.9L170.5 169.9L170 170.4L162.5 170.4L162 170.9L152.5 170.9L152 171.3L134.4 171.3L130.7 167.8L129.5 165.8L129.1 163.3L129.8 160.8L129.5 160.7L125.5 163.5L123 164.6L120.5 164.9L118.5 164.2L117.4 162.8L117.1 160.8L117.5 158.3L118.5 155.8L122.3 150.8L127 147.4L131 146.3L132.5 146.5L134 147.5L134.7 148.8L134.9 150.3L134 155.4L139 151.4L147.5 147.1L159.5 144.2L162.5 142.5L163.1 141.3L161.4 131.3L161.3 123.3L162 111.3L160.9 104.8L155.1 81.3L152.5 74.3L143 63.3L141.8 61.3L139.2 53.3L137.1 44.8L132.8 24.3L132.7 23.3ZM130 160.3L130 160.5L130.2 160.3Z" fill="#be1a40" fill-rule="evenodd"/>
<path d="M134.5 23.3L261 23.3L261 125.6L258.5 130.3L246.5 142L239.5 147.6L232 151.6L218 157L205.4 160.3L204.8 160.8L204.9 162.8L204.5 163.3L202.5 163.3L202 163.8L200.5 163.8L200 164.3L198.5 164.3L198 164.8L196 164.8L195.5 165.3L194 165.3L192 166.3L190.5 166.3L188.5 167.3L187 167.3L186.5 167.8L185 167.8L184.5 168.3L178.5 168.8L178 169.3L174.5 169.3L174 169.8L170.5 169.8L170 170.3L162.5 170.3L162 170.8L152.5 170.8L152 171.3L139.2 171.3L137 170.9L135.5 170.1L131.6 166.3L130.8 164.3L131.2 161.8L134 157.6L140 152.8L148.5 148.5L160.5 145.6L164 143.5L164.8 141.3L163 131.3L163 123.3L163.7 111.3L162.5 104.3L156.7 80.8L153.9 73.3L144.3 62.3L143.4 60.8L140.8 52.8L138.7 44.3ZM130 146.8L131.5 146.7L133 147.3L134.4 149.3L134.3 152.3L132.7 156.3L129.5 160.2L125.5 163.2L122 164.4L120.5 164.5L119 163.9L117.7 162.3L117.5 160.3L118.1 157.3L119.7 154.3L122 151.5L124.5 149.3L127.5 147.5Z" fill="#b01d47" fill-rule="evenodd"/>
<path d="M136.5 23.3L261 23.3L261 125.5L258.4 130.3L246.5 141.9L239.5 147.5L232 151.5L218 156.9L205 160.3L204.6 160.8L204.5 163.1L204.1 163.3L202.5 163.3L202 163.8L200.5 163.8L200 164.3L198.5 164.3L198 164.8L194 165.3L192 166.3L190.5 166.3L188.5 167.3L187 167.3L186.5 167.8L185 167.8L184.5 168.3L178.5 168.8L178 169.3L174.5 169.3L174 169.8L170.5 169.8L170 170.3L162.5 170.3L162 170.8L152.5 170.8L152 171.3L147.5 171.2L137.5 169.3L136.5 168.8L133 165.3L132.4 163.8L132.8 162.3L135.5 158.5L141 154.1L149.5 149.9L161 147.3L165.2 144.8L166.5 141.3L164.7 131.3L164.6 123.3L165.4 111.3L164 103.8L158.3 80.3L155.5 72.7L145 60.3L142.4 52.3L140.2 43.8L136.1 23.8L136 23.3ZM129.5 147.2L131 147.1L132.5 147.5L134 149.3L134 152.3L132.3 156.3L129.5 159.9L126 162.6L122.5 164L121 164.1L119.5 163.7L118.2 162.3L117.8 160.3L118.3 157.8L119.7 154.8L121.6 152.3L124.2 149.8L127 148Z" fill="#a11e4c" fill-rule="evenodd"/>
<path d="M138 23.3L261 23.3L261 125.4L258.3 130.3L245 143.1L239.7 147.3L235 149.9L231 151.9L218 156.9L205 160.2L203.5 161.8L185.5 167.7L170.5 169.6L159 169.8L147.5 169.5L137.5 167.4L134.1 163.8L136.5 159.8L141.5 155.8L150 151.5L162 148.6L166.6 145.8L168.3 141.8L166.4 131.3L166.3 123.3L167.1 111.3L165.8 103.8L159.9 79.8L156.9 71.8L146.5 59.6L144 51.8L142 43.8L137.8 23.8L137.7 23.3ZM128.5 147.8L131.5 147.6L132.8 148.3L133.5 149.3L133.7 152.3L132.3 155.8L129.5 159.5L126 162.3L122.5 163.7L119.8 163.3L118.7 162.3L118.2 160.3L118.6 157.8L119.7 155.3L123.5 150.7L126 148.9Z" fill="#911f51" fill-rule="evenodd"/>
<path d="M139 23.3L261 23.3L261 125.3L258.2 130.3L245 143L239.5 147.3L233 150.9L216.5 157.3L205 160.1L203 161.2L194.5 163.7L194 164.2L193 164.2L192.5 164.7L191.5 164.7L191 165.2L190 165.2L189.5 165.7L188.5 165.7L188 166.2L187 166.2L186.5 166.7L185 166.7L184.5 167.2L182 167.2L181.5 167.7L178.5 167.7L178 168.2L173.5 168.2L173 168.7L159 168.7L147 168.7L146.5 168.2L141.5 167.7L141 167.2L139 167.2L138 166.7L135.1 163.8L136.6 160.8L137.5 159.9L138 159.9L142 156.4L151 151.9L153 151.9L155.5 150.9L157.5 150.9L160 149.9L162 149.9L164.5 147.9L167.6 146.3L167.6 145.3L168.6 143.8L169.1 141.8L168.6 137.3L167.6 135.3L167.6 132.3L167.1 131.8L167.1 121.3L167.6 120.8L168.1 110.8L167.6 110.3L167.6 107.3L167.1 106.8L167.1 105.3L166.6 104.8L166.6 102.8L165.6 100.8L164.6 95.3L164.1 94.8L164.1 93.3L163.1 91.3L163.1 89.3L162.6 88.8L162.6 87.3L162.1 86.8L162.1 84.8L161.6 84.3L161.6 82.8L161.1 82.3L161.1 80.3L160.6 79.8L159.1 74.3L158.1 72.8L158.1 71.8L155.1 68.3L155.1 67.8L147.1 59.3L147.1 58.3L146.6 57.8L145.6 53.8L145.1 53.3L145.1 51.8L144.1 49.8L143.1 44.3L142.6 43.8L142.6 41.8L142.1 41.3L142.1 39.8L141.6 39.3L141.6 37.3L141.1 36.8L141.1 34.8L140.6 34.3L140.6 32.3L140.1 31.8L140.1 29.8L139.6 29.3L139.1 24.8L138.6 24.3L138.6 23.3ZM128 148.3L131 147.9L132 148.3L133 149.3L133.4 150.8L133.3 152.3L132 155.8L129.4 159.3L126 162L122.5 163.3L120 162.9L119 161.8L118.6 160.3L118.8 158.3L119.8 155.8L121.4 153.3L123.5 151.1L125.5 149.5Z" fill="#811f55" fill-rule="evenodd"/>
<path d="M139 23.3L261 23.3L261 125.2L258.1 130.3L245 142.9L240 146.9L232.9 150.8L216.5 157.2L205 160L203 161.1L187 166.1L186.5 166.5L185 166.6L184.5 167L182 167.1L181.5 167.5L178.5 167.6L178 168L173.5 168.1L173 168.5L159 168.6L147 168.5L146.5 168.1L141.5 167.5L141 167.1L139 167L138 166.5L135.2 163.8L135.3 163.3L136.2 162.3L136.8 160.8L140 158.1L140.5 158L142 156.5L151 152.1L153 152L155.5 151.1L157.5 151L160 150.1L162 150L164.5 148.1L167.7 146.3L167.8 145.3L168.7 143.8L169.3 141.8L168.7 137.3L167.8 135.3L167.7 132.3L167.3 131.8L167.3 121.3L167.7 120.8L168.2 110.8L167.8 110.3L167.7 107.3L167.3 106.8L167.2 105.3L166.8 104.8L166.7 102.8L165.8 100.8L164.7 95.3L164.3 94.8L164.2 93.3L163.3 91.3L163.2 89.3L162.8 88.8L162.7 87.3L162.3 86.8L162.2 84.8L161.8 84.3L161.7 82.8L161.3 82.3L161.2 80.3L160.8 79.8L159.2 74.3L157.2 70.3L147.3 59.3L147.2 58.3L146.8 57.8L146.7 56.8L145.3 53.3L145.2 51.8L144.3 49.8L143.2 44.3L142.8 43.8L142.7 41.8L142.3 41.3L142.2 39.8L141.8 39.3L141.7 37.3L141.3 36.8L141.2 34.8L140.8 34.3L140.7 32.3L140.3 31.8L140.2 29.8L139.8 29.3L139.7 27.3L139.3 26.8L139.2 24.8L138.8 24.3L138.7 23.3ZM129.5 148.3L131.9 148.8L133 150.8L132.6 153.8L131.1 156.8L128.5 159.8L125.5 161.9L122.5 162.9L120 162.3L119.2 161.3L119 159.3L119.6 156.8L121 154.3L125 150.2L127.5 148.8Z" fill="#721f59" fill-rule="evenodd"/>
<path d="M139 23.3L261 23.3L261 125L258 130.3L245 142.8L240 146.8L232.7 150.8L215.7 157.3L205 160L186.5 166.4L182 167L181.5 167.4L178.5 167.5L178 167.9L173.5 168L173 168.4L159 168.5L147 168.4L146.5 167.9L141.5 167.4L141 166.9L139 166.9L138 166.4L135.4 163.8L135.4 163.3L136.4 162.3L136.9 160.8L140 158.2L140.5 158.2L142 156.7L151 152.2L157.5 151.1L160 150.2L162 150.1L167.9 146.3L167.9 145.3L168.9 143.8L169.4 141.8L168.9 137.3L167.9 135.3L167.9 132.3L167.4 131.8L167.4 121.3L167.9 120.8L168.4 110.8L167.9 110.3L167.9 107.3L167.4 106.8L167.4 105.3L166.9 104.8L166.9 102.8L165.9 100.8L164.9 95.3L164.4 94.8L164.4 93.3L163.4 91.3L163.4 89.3L162.9 88.8L162.9 87.3L162.4 86.8L162.4 84.8L161.9 84.3L161.9 82.8L161.4 82.3L161.4 80.3L160.9 79.8L159.4 74.3L157.4 70.3L147.4 59.3L147.4 58.3L146.9 57.8L146.9 56.8L145.4 53.3L145.4 51.8L144.4 49.8L143.4 44.3L142.9 43.8L142.9 41.8L141.9 39.3L141.9 37.3L141.4 36.8L141.4 34.8L140.9 34.3L140.9 32.3L140.4 31.8L140.4 29.8L139.9 29.3L139.9 27.3L139.4 26.8ZM128.5 148.8L131 148.8L132.5 150.3L132.6 152.8L131.1 156.3L128.5 159.5L125.5 161.6L122.5 162.6L120.5 162.1L119.5 160.8L119.3 159.3L120.6 155.3L124 151.3L126.5 149.6Z" fill="#62205e" fill-rule="evenodd"/>
<path d="M139.5 23.3L261 23.3L261 124.8L258 130.1L244.8 142.8L239.8 146.8L232.4 150.8L215.4 157.3L206 159.5L185.3 166.3L170.5 168.2L157.5 168.3L147.5 167.9L138.5 165.8L136.5 163.3L138 160.8L142.4 156.8L150.1 152.8L162 150.3L167.9 146.8L170.2 141.8L169.1 131.3L169.6 111.3L168 103.3L162.8 82.3L158.8 70.8L148.4 58.3L144 44.3ZM128 149.3L130.5 149.1L132 150.4L132.2 152.8L131.1 155.8L128.8 158.8L126 161L123 162.1L121 161.9L120 160.8L119.7 159.3L120 157.3L121 155.3L124 151.6Z" fill="#4e2467" fill-rule="evenodd"/>
<path d="M141 23.3L261 23.3L261 124.4L258 129.9L249 138.8L239.5 146.8L232.1 150.8L215 157.3L206 159.4L185 165.7L170.5 167.5L159 167.6L148 167L143.5 166L139.1 164.3L138.3 163.3L138.7 162.3L141.8 158.3L143.4 156.8L148 154.1L150.5 153L162.5 150.7L169.6 148.3L175 145.8L176.8 144.3L177.5 142.8L175.6 128.3L175 127.1L173 124.8L172.5 123.5L172 110.8L164.7 81.3L160.4 69.8L158.8 67.3L150.3 57.8L148.8 54.3L145 42.8L141.1 25.3L140.7 23.3ZM127.5 149.8L130 149.5L131.5 150.4L131.9 152.8L130.8 155.8L128.5 158.8L126 160.7L123 161.8L121 161.3L120.1 159.3L121 155.8L123.7 152.3Z" fill="#342d75" fill-rule="evenodd"/>
<path d="M142 23.3L261 23.3L261 123.8L257.5 130.1L246.5 140.9L239.2 146.8L231.7 150.8L215.5 156.9L204.5 159.6L184.5 165.3L170.5 166.9L159 167L148 166.2L144.3 165.3L139.9 163.3L143 157.8L148.5 154.1L151 153.2L162.5 151.3L171.8 148.8L175.3 147.3L177.5 145.8L178.8 144.3L179.2 142.8L177 127.8L175.2 123.3L174.2 110.8L168.6 90.3L166.4 80.3L162 69.2L160.7 66.8L152 56.9L150.5 53.8L146.5 42.8ZM127.5 150.2L129.5 149.9L131.1 150.8L131.5 152.8L130.4 155.8L128.5 158.4L126 160.3L123.5 161.3L121.5 161L120.8 160.3L120.5 158.8L121.6 155.3L124.1 152.3Z" fill="#1a3583" fill-rule="evenodd"/>
<path d="M143.5 23.3L261 23.3L261 123.1L257.5 129.8L244.5 142.3L239.5 146.3L235 148.8L231.1 150.8L222.1 154.3L215.2 156.8L206 158.9L184.5 164.8L171.8 166.3L157.6 166.3L146.9 165.3L144.1 164.3L141.5 162.8L143.5 158.2L145.5 156.3L148.5 154.3L152.5 153.3L163 151.9L173 149.5L176 148.2L179.2 145.8L180.3 144.3L180.7 142.3L180 134.8L178.7 126.8L177.5 122.3L177.3 117.3L176.4 111.3L171.5 95.3L167.9 79.3L165.7 74.8L163.6 68.3L162.1 65.3L157.5 60.6L154 56.2L151.5 51.4L148 42.8L143.5 24.6ZM129 150.3L130.5 150.9L131.1 152.3L130.8 154.3L129.8 156.3L128 158.5L126 160L124 160.8L122 160.7L121.2 159.8L120.9 158.3L122.3 154.8L125.5 151.5L127.5 150.5Z" fill="#173a8d" fill-rule="evenodd"/>
<path d="M147.5 23.3L261 23.3L260.9 121.8L257.3 129.3L245 141.2L239 146.1L231.5 150.2L215.5 156.2L203.5 159.2L180 164.1L171.5 164.8L159 164.7L147.5 163.2L145.5 161.8L145.1 158.3L145.7 157.3L148.5 154.9L163.7 152.8L170 151.3L174.1 149.8L182.3 145.3L186.5 140.3L187.6 138.3L187 131.8L184.5 115.2L176.6 94.3L174.2 84.8L173 77.3L169.2 71.8L166.5 62.6L160.8 57.3L157.9 53.3L155.6 48.8L154.5 45.3L151.6 40.3L149.5 30.8L147.1 23.8L147.1 23.3ZM128.5 150.8L130 151.3L130.6 152.3L130.4 154.3L129.4 156.3L127.7 158.3L125.6 159.8L123.5 160.4L122 159.9L121.4 158.8L121.5 157.3L123 154.3L125.7 151.8Z" fill="#2e3a94" fill-rule="evenodd"/>
<path d="M148 23.3L261 23.3L261 120.9L259.7 124.3L257 129.2L246 140L239.5 145.4L231.5 149.9L215.5 156L203 159.1L181.5 163.5L170.5 164.5L159 164.2L148 162.8L146.2 161.8L145.7 157.8L149 154.9L164 153L170.5 151.5L175.2 149.8L183 146L188.2 140.3L189 138.3L188.3 131.8L185.7 115.3L177.4 93.8L175.2 84.8L173.8 76.8L170.1 71.3L167.8 61.8L162.2 56.3L152.5 40.3ZM127 151.7L128.5 151.5L129.8 152.3L129.9 153.8L129.4 155.3L128.1 157.3L126.5 158.7L124.5 159.6L123 159.6L122 158.3L122.6 155.8L124.5 153.3Z" fill="#3f3d9c" fill-rule="evenodd"/>
<path d="M148.5 23.3L261 23.3L261 120.4L259.9 123.3L257 129L246 139.8L239.3 145.3L231.1 149.8L215.5 155.8L203 158.9L183.7 162.8L180 163.4L170.5 164.2L159 163.9L148 162.4L146.8 161.8L145.9 157.8L149 155.1L163 153.4L170.5 151.8L176 150L183.5 146.8L189.5 140.8L190.2 138.8L189.6 131.8L186.7 114.8L178.3 93.8L175.9 84.3L174.6 76.3L170.8 70.8L168.9 61.3L163 55.8L153.2 40.3ZM127 152.3L128.5 152.2L129.1 152.8L129.3 153.8L128.9 155.3L126.5 158.1L125 158.9L123.5 158.9L122.7 157.8L123.1 155.8L125 153.5Z" fill="#4a44a4" fill-rule="evenodd"/>
<path d="M149 23.3L261 23.3L261 119.7L259.8 123.3L256.9 128.8L246 139.6L238.5 145.7L231 149.7L215.5 155.6L203.5 158.7L182.3 162.8L170.5 163.9L159 163.6L148 162L147 161.3L146.1 157.8L149 155.2L159.5 154.2L170.5 152.2L183 148L184 147.5L190.2 141.8L191.5 138.8L190.8 131.3L187.7 114.3L178.9 93.3L176.7 84.3L175.4 75.8L171.6 70.3L169.6 60.3L163.8 55.3L160 50.3L160 49.8L158.6 48.3L153.1 39.8L153 38.3L152.6 37.8L152.5 36.3L152.1 35.8L151 30.3L148.6 23.8L148.6 23.3ZM126.5 152.9L128 152.8L128.8 153.8L128.2 155.8L126 158L124.5 158.5L124 158.3L123.2 157.3L123.6 155.8L125 153.9Z" fill="#514aab" fill-rule="evenodd"/>
<path d="M149 23.3L261 23.3L261 119.5L259.6 123.3L256.7 128.8L246 139.4L238.5 145.5L231 149.5L215.5 155.4L203.5 158.6L181 162.8L170.5 163.6L159 163.3L147.5 161.3L146.3 157.8L149 155.3L159 154.5L170 152.7L184 148.7L191.5 142.8L193 139.3L192.3 131.3L189.1 114.3L180 93.3L177.7 84.3L176.4 75.3L172.5 70.3L171 62.3L170.6 61.8L170.5 60.3L163.1 54.3L163.1 53.8L158.6 48.3L153.2 39.8L151.1 30.3L148.7 23.8L148.6 23.3ZM126.5 153.2L128.2 153.3L128.5 154.3L128.3 155.3L126.5 157.5L125.5 158L124 158L123.5 157.3L123.8 155.8L125 154.2Z" fill="#544eb1" fill-rule="evenodd"/>
<path d="M149 23.3L261 23.3L261 119.2L259.4 123.3L256.6 128.8L245.9 139.3L238.5 145.3L231 149.4L215.5 155.3L206 157.6L203.5 158.5L181 162.7L170.5 163.3L159.5 163.2L150 161.7L148 161.3L147.6 160.8L146.6 158.8L146.6 157.8L149 155.4L159 154.7L169.5 153.2L185 149.5L192.5 143.8L194.6 139.8L193.8 130.8L192.4 122.3L190.4 113.8L183.9 100.3L180.8 92.8L178.5 83.8L177.5 77.8L177.5 75.3L172.6 69.8L171.6 64.3L170.7 61.8L170.6 60.3L163.2 54.3L158.7 48.3L153.2 39.8L151.2 30.3L148.7 23.8L148.7 23.3ZM127 153.2L128.2 153.8L127.8 155.8L126 157.6L125 158L124.1 157.8L123.7 156.8L124.3 155.3L125.5 154Z" fill="#5751b6" fill-rule="evenodd"/>
<path d="M149 23.3L261 23.3L261 118.7L259.3 123.3L256.5 128.7L245.7 139.3L238.5 145.2L231 149.2L215.5 155.1L206 157.4L203.5 158.4L181 162.5L171.5 163.2L159.5 163L153 162.1L152.5 161.7L150 161.6L147.7 160.8L146.8 158.8L146.7 157.8L149 155.6L159 154.9L169.5 153.3L185 149.9L189 146.5L193 143.9L195.1 139.8L195.1 137.8L194.7 137.3L194.6 131.3L194.2 130.8L194.1 128.3L193.7 127.8L193.6 125.3L193.2 124.8L193.1 122.3L192.7 121.8L192.6 120.3L192.2 119.8L191.1 114.3L183.7 99.3L183.6 98.3L181.2 93.3L179.1 84.3L178.7 83.8L177.6 75.3L172.7 69.8L170.7 60.3L163.3 54.3L157.8 46.8L153.3 39.8L151.2 30.3L148.8 23.8ZM126 153.8L127 153.4L128 153.8L127.9 155.3L126.5 157.1L124.5 157.8L124 157.3L124.1 155.8Z" fill="#5954b9" fill-rule="evenodd"/>
<path d="M149 23.3L261 23.3L261 118.3L259.1 123.3L256.5 128.5L245.5 139.3L238.5 145L231 149.1L215 155.1L206 157.3L203 158.5L183.5 162L172.5 163.1L159.5 162.9L147.9 160.8L146.9 158.8L146.8 157.8L149 155.7L159 154.9L169.5 153.4L185 149.9L189 146.7L193 144L195.3 139.8L195.2 137.8L194.9 137.3L194.8 131.3L194.3 130.8L194.3 128.3L193.8 127.8L193.8 125.3L193.3 124.8L193.3 122.3L192.3 119.8L192.3 118.3L191.8 117.8L191.8 116.3L191.3 115.8L191.3 114.3L183.8 99.3L183.7 98.3L181.3 93.3L178.9 83.8L177.7 75.3L172.8 69.8L170.8 60.3L163.4 54.3L157.8 46.8L153.4 39.8L151.3 30.3L148.9 23.8ZM126.5 153.7L127.5 153.7L127.9 154.3L127.5 155.8L126 157.3L124.5 157.5L124.1 156.8L124.3 155.8L125.5 154.3Z" fill="#5b56bd" fill-rule="evenodd"/>
<path d="M149 23.3L261 23.3L261 117.6L258.9 123.3L256.3 128.3L245.5 138.9L238.5 144.7L231 148.8L215 154.9L205.5 157.2L203 158.3L183 161.9L171.5 162.9L161 162.7L155.3 161.8L148.5 160.2L147.6 158.3L149.5 156.2L169.5 153.5L185 150.1L193.1 144.3L195.7 139.8L195.3 130.8L193.8 121.8L191.7 113.3L181.6 92.8L179.3 83.8L177.9 75.3L173.3 69.8L170.7 59.8L164 54.7L158 46.8L153.7 39.8L151.4 30.3ZM126 154.3L127 154L127.5 154.3L127.4 155.3L126.5 156.6L125 157.2L124.5 156.8L124.6 155.8Z" fill="#605cc4" fill-rule="evenodd"/>
<path d="M149.5 23.3L261 23.3L261 117.3L259 122.8L256.5 127.8L245.5 138.8L238 144.8L229.5 149.3L215 154.8L205.5 157L203 158.2L181 162.1L170.5 162.8L160.5 162.3L154.2 160.8L149.4 158.8L150 157.5L155.5 156L172 153.2L185 150.3L193.8 144.3L196.4 140.3L196.9 136.3L196.6 130.8L195.2 121.8L193 112.3L190.2 105.8L185.8 99.3L182.2 92.8L179.8 83.8L178.1 74.8L173.9 69.3L172.6 63.3L171.3 59.8L164 54.3L159.2 48.3L154.3 40.3ZM126 154.6L127 154.5L127.1 155.3L126 156.6L125 156.7L124.9 155.8Z" fill="#6461cb" fill-rule="evenodd"/>
<path d="M150 23.3L261 23.3L261 117.3L260 119.3L260 120.3L259 121.8L259 122.8L256.5 127.8L245.5 138.8L245 138.8L242.5 141.3L242 141.3L238 144.8L229.5 149.3L228.5 149.3L227 150.3L226 150.3L224.5 151.3L222 151.8L220.5 152.8L218 153.3L215 154.8L213.5 154.8L213 155.3L211.5 155.3L211 155.8L209.5 155.8L209 156.3L205.5 156.8L203 158.1L183 161.6L171 162.6L161 162.1L155.5 160.5L152.3 158.8L151.9 158.3L154.9 156.8L161 155L172 153.3L185.3 150.3L194 144.8L197.3 140.3L198.1 135.3L197.8 130.3L196.5 121.1L194.5 112.1L192.3 106.3L190.5 103.3L186.9 98.8L182.8 92.8L180.3 83.8L178.5 74.8L174.6 69.3L173.2 62.8L171.9 59.8L164.5 54.5L161 50.6L154.3 39.8L152 30.4L149.6 23.3ZM126.5 154.8L126.8 155.3L126.5 155.8L125.3 156.3L125.6 155.3Z" fill="#6966d3" fill-rule="evenodd"/>
<path d="M150 23.3L261 23.3L261 117.3L260 119.3L260 120.3L259 121.8L259 122.8L256.5 127.8L245.5 138.8L245 138.8L242.5 141.3L242 141.3L238 144.8L229.5 149.3L228.5 149.3L227 150.3L226 150.3L224.5 151.3L222 151.8L220.5 152.8L218 153.3L215 154.8L213.5 154.8L213 155.3L211.5 155.3L211 155.8L209.5 155.8L209 156.3L205.5 156.8L203 157.9L192 160L180 161.9L170.5 162.4L161 161.8L156.5 160.3L154.1 158.8L154 158.3L156.3 156.8L161 155.2L170.5 153.8L185.6 150.3L192 146.8L194.6 144.8L198.1 140.3L199 137.3L199.1 134.8L198.9 129.8L197.5 120.3L195.7 111.8L193.5 105.6L191.5 102.3L187.5 98L183.2 92.3L180.6 83.3L178.9 74.8L175 68.8L173.9 62.8L172.6 59.8L171.7 58.8L165 54.5L161 50.5L154.9 40.3ZM126 155.3L126.2 155.3L126 155.9L125.7 155.8Z" fill="#6d6bda" fill-rule="evenodd"/>
<path d="M150.5 23.3L261 23.3L260.9 117.3L260 119.3L259.9 120.3L259 121.8L258.9 122.8L256.4 127.8L245.5 138.7L245 138.8L242.5 141.2L242 141.3L238 144.7L229.5 149.2L228.5 149.3L227 150.2L226 150.3L224.5 151.2L222 151.8L220.5 152.7L218 153.3L215 154.7L213.5 154.8L213 155.2L211.5 155.3L211 155.7L209.5 155.8L209 156.2L205.5 156.8L205 157.2L203 157.8L193 159.8L182 161.5L170.5 162.2L161 161.5L157 160L155.3 158.8L155.4 158.3L156.5 157.3L161 155.4L171 153.8L184.5 150.9L192.5 147L194.7 145.3L199.3 139.8L200 137.8L200.2 135.8L200.1 130.3L198.8 120.8L197 111.8L194.7 104.8L193.7 102.8L192.1 100.8L188 97.1L183.7 92.3L181 83.3L179.4 75.3L175.7 68.8L174.5 62.3L173 59.4L165.1 54.3L161 50.4L155.4 40.8L152.5 30.3L150.2 23.3Z" fill="#7270e2" fill-rule="evenodd"/>
<path d="M150.5 23.3L261 23.3L260.9 117.3L259.9 119.3L259.9 120.3L258.9 121.8L258.9 122.8L256.4 127.8L245.5 138.7L245 138.7L242.5 141.2L242 141.2L238 144.7L229.5 149.2L228.5 149.2L227 150.2L226 150.2L224.5 151.2L222 151.7L220.5 152.7L218 153.2L215 154.7L213.5 154.7L213 155.2L211.5 155.2L211 155.7L209.5 155.7L209 156.2L205.5 156.7L205 157.2L203 157.8L193 159.8L182 161.4L171 162L161 161.2L156.3 158.8L157.2 157.3L161.5 155.4L171 154L182.5 151.5L185.5 150.7L192.5 147.5L195.4 145.3L200.2 139.8L200.9 138.3L201.2 135.8L201.1 129.8L199.9 119.8L198.3 111.8L196 104.3L194.8 101.8L193 99.8L184.3 92.3L181.3 82.8L179.8 75.3L176.8 70.3L176.1 68.3L175 61.8L173.1 58.8L166 54.7L160.5 49.8L155.2 39.8L152.8 30.3Z" fill="#7776e9" fill-rule="evenodd"/>
<path d="M151 23.3L261 23.3L260.9 117.3L259.9 119.3L259.9 120.3L258.9 121.8L258.9 122.8L256.4 127.8L245.5 138.7L245 138.7L242.5 141.2L242 141.2L238 144.7L229.5 149.2L228.5 149.2L227 150.2L226 150.2L224.5 151.2L222 151.7L220.5 152.7L218 153.2L215 154.7L213.5 154.7L213 155.2L211.5 155.2L211 155.7L209.5 155.7L209 156.2L205.5 156.7L205 157.2L203.6 157.3L203 157.8L193 159.8L182.5 161.3L171.5 161.9L161.5 161.1L157.1 158.8L157.5 157.6L161.5 155.6L182.1 151.8L185.6 150.8L192.8 147.8L199.7 141.8L201.5 139.3L202.3 135.8L202.2 129.8L201 119.3L199.4 110.8L197.4 103.8L195.8 100.8L193.5 98.5L184.5 91.8L181.7 82.8L180.2 75.3L177.2 69.8L175.7 61.8L173.5 58.5L166 54.4L160.5 49.8L155.5 39.8L153.1 30.3L150.7 23.3Z" fill="#7c7bf1" fill-rule="evenodd"/>
<path d="M151 23.3L261 23.3L260.9 117.3L259.9 119.3L259.9 120.3L258.9 121.8L258.9 122.8L256.4 127.8L245.5 138.7L245 138.7L242.5 141.2L242 141.2L238 144.7L229.5 149.2L228.5 149.2L227 150.2L226 150.2L224.5 151.2L222 151.7L220.5 152.7L218 153.2L215 154.7L213.5 154.7L213 155.2L211.5 155.2L211 155.7L209.5 155.7L209 156.2L205.5 156.7L205 157.2L203.5 157.3L203 157.7L201.4 157.8L193 159.7L190.8 159.8L182.5 161.3L170.5 161.8L161.5 160.8L157.9 158.8L157.6 158.3L157.9 157.8L161.5 155.7L181.5 152.1L193 148.2L200.8 141.8L202.6 139.3L203.3 135.8L203.3 129.8L202.2 119.3L200.5 110.3L198.7 103.3L197 100L194.5 97.6L185 91.6L182.1 82.8L180.6 75.3L177.7 69.8L176.2 61.3L174 58.2L166.3 54.3L160.6 49.8L155.7 39.8L153.4 30.3Z" fill="#8080f9" fill-rule="evenodd"/>
<path d="M151.5 23.3L261 23.3L261 116.7L260.4 117.8L260.4 118.8L259.9 119.3L259.9 120.3L258.9 121.8L258.9 122.8L256.4 127.8L245.5 138.7L245 138.7L242.5 141.2L242 141.2L238 144.7L229.5 149.2L228.5 149.2L227 150.2L226 150.2L224.5 151.2L222 151.7L220.5 152.7L218 153.2L215 154.7L213.5 154.7L213 155.2L211.5 155.2L211 155.7L209.5 155.7L209 156.2L205.5 156.7L205 157.2L203.5 157.3L203 157.7L201 157.8L200.5 158.2L198.5 158.3L198 158.7L196 158.8L195.5 159.2L193.5 159.3L193 159.7L190.2 159.8L189.5 160.2L186.8 160.3L186 160.7L183 160.9L182.5 161.2L170.5 161.8L170 161.4L161.5 160.8L158 158.3L160.5 156.3L163 155.3L168.5 154.8L169 154.4L171.5 154.3L172 153.8L173.9 153.8L174.5 153.3L181.5 152.3L182 151.8L183.3 151.8L185.5 150.8L186.5 150.8L187 150.3L188.1 150.3L193 148.7L201.3 142.3L203.5 139.8L204.4 135.8L204.4 129.8L203.4 119.3L200 102.8L198.3 99.3L195 96.4L186 91.8L185 90.8L182.5 83.3L181 75.2L178 69.8L176.9 61.3L174.2 57.8L166.5 54.3L160.6 49.8L156 40.3L153.5 29.7L151 23.3Z" fill="#8484fe" fill-rule="evenodd"/>
<path d="M151.5 23.3L261 23.3L261 116.7L260.4 117.8L260.4 118.8L259.9 119.3L259.9 120.3L258.9 121.8L258.9 122.8L256.4 127.8L245.5 138.7L245 138.7L242.5 141.2L242 141.2L238 144.7L229.5 149.2L228.5 149.2L227 150.2L226 150.2L224.5 151.2L222 151.7L220.5 152.7L218 153.2L215 154.7L213.5 154.7L213 155.2L211.5 155.2L211 155.7L209.5 155.7L209 156.2L205.5 156.7L205 157.2L203.5 157.3L203 157.7L201 157.8L200.5 158.2L198.5 158.3L198 158.7L196 158.8L195.5 159.2L193.5 159.3L193 159.7L186.5 160.3L186 160.7L183 160.8L182.5 161.2L174 161.3L173.5 161.7L170.5 161.7L170 161.3L161.5 160.8L158 158.3L160.5 156.3L163 155.4L165.5 155.3L166 154.9L168.5 154.8L169 154.4L171.5 154.3L172 153.9L174 153.8L174.5 153.4L176.5 153.3L177 152.9L179 152.8L179.5 152.4L181.5 152.3L182 151.9L183.5 151.8L187 150.3L188.5 150.3L189 149.8L190 149.8L190.5 149.3L191.5 149.3L192 148.8L194 148.3L199.5 143.8L200 143.8L204 139.8L204.5 136.3L205 135.8L205 128.8L204.5 128.3L204 118.8L203.5 118.3L203.5 115.8L203 115.3L202.5 110.3L202 109.8L202 107.8L201.5 107.3L201 103.3L200 101.8L200 100.8L199 98.8L198 98.3L196 96.3L192 94.3L190 93.8L186 91.8L185 90.8L185 89.8L184.5 89.3L184.5 88.3L184 87.8L184 86.8L183.5 86.3L183.5 85.3L182.5 83.3L181 74.8L178 69.8L178 66.8L177.5 66.3L177.5 62.8L177 62.3L177 60.8L174.5 57.8L166.5 54.3L160.6 49.8L158.6 45.8L158.5 44.8L156 40.3L155.5 37.3L155 36.8L155 35.3L154.5 34.8L154.5 33.3L154 32.8L154 31.3L153.5 30.8L153.5 29.3L153 28.8L153 27.8L152 26.3L152 25.3L151 23.3Z" fill="#8686f8" fill-rule="evenodd"/>
<path d="M151.4 23.3L153.8 30L156.2 40L158.6 45L161 50L166.5 54L174.4 57.5L177.3 61L178.4 70L181.2 75L182.7 82.4L185.6 91.2L190 93.4L195.2 95.6L198.9 98.6L201.1 103L202.6 110.4L204.1 119.2L205.1 129.6L205 136L204 140L201.9 142.4L193.2 148.9L182.3 152.2L171.4 154.4L161.5 156L158.3 158.2L161.5 160.4L171.4 161.4L182.3 160.9L193.2 159.3L204 157.1L215 154.4L222 151.8L231 148.3L238 144.5L245 138.8L251 133L256 128L258.5 123L261.5 115L266 115L266 18.3L151.4 18.3Z" fill="#fff"/>
<path d="M185.6 91.2L190 93.4L195.2 95.6L198.9 98.6L201.1 103L202.6 110.4L204.1 119.2L205.1 129.6L204.8 137" fill="none" stroke="#a8a048" stroke-width="1.6"/>
<path d="M152.3 23L154.8 29.8L157.1 39.7L161.8 49.3L167 53.1L175 56.7L178.2 60.5L179.4 69.7L182.2 74.7L183.7 82.1L186.4 90.5L195.7 94.7L199.8 98.2L202.1 102.7L203.6 110.2L205.1 119.1L206.1 129.5L206 136.1L204.9 140.5L202.5 143.2L193.7 149.8L182.5 153.2L171.6 155.4L161.9 157L160.1 158.2L161.9 159.4L171.4 160.4L182.2 159.9L193 158.3L203.8 156.1L214.7 153.4L230.6 147.4L237.4 143.7L244.3 138.1L255.2 127.4L257.6 122.6L260.6 114.6" fill="none" stroke="#9a9a9a" stroke-width="0.7"/>
<path d="M138.7 23.3L141.5 40L143.5 52L145.1 60L150 65L155 70L158.2 80.9L160.3 90L162.2 97.2L164.2 105L165 110.8L164.5 121.2L166.5 131.4L168.8 138L169.3 142L167.5 146.5L162 149.8L150.4 152.4L142.2 156.5L137.1 160.6L135.1 163.7L138.2 166.7L147.7 168.5L159 168.8L170.4 168.6L180 167.6L185 166.8" fill="none" stroke="#2a1030" stroke-width="0.7" opacity="0.8"/>
<path d="M148.7 23.3L151 30L153.5 40L158 47L164 55L170.5 60L172.9 70L177.5 75L179 83.9L181.2 92.7L184.2 100L187.9 107.4L190.8 113.3L193 122.2L194.5 131L195.2 140L193 144L188 147.5L185 150L170.4 153.2L159 154.8L149 155.5L146.5 158L148 161L159 162.8L170.4 163.2" fill="none" stroke="#141a50" stroke-width="0.7" opacity="0.8"/>
<path d="M168 23.3L169 30L167 38L168 43L172 47L177 50L179 55L181 60L182 70L182 75.7L184.9 79.4L188.6 80.9L194.5 85.3L201.9 89.7L203.4 90.6L206.8 93.4L207.9 96.8L210.7 100.1L213 103.5L213.5 106.9L215.8 110.9L220.3 113.1L224.2 115.9L227 118.7L228.7 120.4L226.5 122.1L223.1 122.7L220.3 120.4L216.9 117.1L215.2 115.9L214.1 119.3L215.2 123.8L216.9 126.6L220.3 127.2L224.2 126.1L224.8 123.8L226.5 123.3L229.9 122.7L233.3 123.8L237.2 126.6L238.3 125.5L242.8 123.8L248.5 122.1L253 118.7L255.2 115.9L256.4 111.4L256.4 106.9L256.9 96.8L261 96" fill="none" stroke="#8c8c8c" stroke-width="0.7"/>
<path d="M256.4 106.9L261 106.9" fill="none" stroke="#8c8c8c" stroke-width="0.7"/>
<path d="M152.4 23.3L152.4 24L156.3 24L157 27.4L160.9 28.5L160.9 23.3" fill="none" stroke="#8c8c8c" stroke-width="0.7"/>
<path d="M162 35.9L163 37L164.8 39.8L165.4 43.8L164.3 44.4L163.1 41.5L162 38.1L162 35.9" fill="none" stroke="#8c8c8c" stroke-width="0.7"/>
<path d="M183.4 159.3L191 157.6L196.4 152.2L198.6 148.9L201.9 149.5L206.3 151.1L203 154.4L198.6 156.5L191 158.7L184.4 159.8" fill="none" stroke="#8c8c8c" stroke-width="0.7"/>
<path d="M85 23.3L89 23.3L92 29L92.5 34L91 40L88.5 40L87.5 33L86 28Z" fill="#000"/>
<path d="M106 132L108 133.5L107.5 136.5L106 135Z" fill="#000"/>
<ellipse cx="118.5" cy="111.5" rx="2.2" ry="5.2" transform="rotate(20 118.5 111.5)" fill="#000"/>
<path d="M110.9 161.8L118.2 166.3L127.3 169.4L136.4 170.9L147.7 170.6L159 170.1L170.4 169.4L180 168.2L185 167.4L195 164.6L205.5 162.2L216.8 159.4L224.2 156.7L233.6 153L241.5 148.7L249.1 142.5L255.3 136.5L261 130.8L264.2 124.5L267.3 116.3" fill="none" stroke="#ff0020" stroke-width="1.3"/>
<path d="M110.9 162.9L118.2 167.4L127.3 170.5L136.4 172L147.7 171.7L159 171.2L170.4 170.5L180 169.3L185 168.5L195 165.7L205.5 163.3L216.8 160.5L224.2 157.8L233.6 154.1L241.5 149.8L249.1 143.6L255.3 137.6L261 131.9L264.2 125.6L267.3 117.4" fill="none" stroke="#000" stroke-width="1.1" stroke-dasharray="2.5 2"/>
<ellipse cx="126.0" cy="155.6" rx="7.37" ry="3.88" transform="rotate(-47 126.0 155.6)" fill="none" stroke="#1c1444" stroke-width="0.8" opacity="0.85"/>
<path d="M160.2 124.3l2 2l-2 2l-2 -2z" fill="none" stroke="#e8b0c0" stroke-width="0.6"/>
</g>
<clipPath id="clipD"><rect x="26.0" y="23.3" width="235.0" height="160.5"/></clipPath>
<g transform="translate(283.5 190.2)" clip-path="url(#clipD)">
<path d="M85 23.3L86 27L88 33L89 43L91 52L93.4 55L94.2 60.7L98.1 66.3L101 69.7L98.7 75.4L98.7 83.3L101.5 87.9L101 92.4L101.5 98L102.2 100L102.5 106.8L108 111.3L107.6 115.9L103.6 119.3L104.2 126L105.3 132.9L111.5 140.8L109.3 145.4L106.4 149L107.7 158L110.9 162.7L118.2 167.2L127.3 170.3L136.4 171.8L147.7 171.5L159 171L170.4 170.3L180 169.1L185 168.3L195 165.5L205.5 163.1L216.8 160.3L224.2 157.6L233.6 153.9L241.5 149.6L249.1 143.4L255.3 137.4L261 131.7L264.2 125.4L267.3 117.2L268.3 117.2L268.3 18.3L85 18.3Z" fill="#990612"/>
<path d="M113 158L118 150L116 140L115.5 129.2L121 111.1L122.8 96.6L117 87L110.1 78.4L107 70L106 60L104 50L101 40L95 33L90 23.3L85 23.3L86 27L88 33L89 43L91 52L93.4 55L94.2 60.7L98.1 66.3L101 69.7L98.7 75.4L98.7 83.3L101.5 87.9L101 92.4L101.5 98L102.2 100L102.5 106.8L108 111.3L107.6 115.9L103.6 119.3L104.2 126L105.3 132.9L111.5 140.8L109.3 145.4L106.4 149L107.7 158L109.6 160.7Z" fill="#700010"/>
<path d="M90 42L91.5 38L92.8 34L93.5 28L93.8 23.3L85 23.3L86 27L88 33L88.9 42Z" fill="#24000a"/>
<path d="M134 75L131.9 85.2L131 95L134.2 107.9L138.7 130.6L131 140L125 150L118 155L118 165L121.2 168.2L127.3 170.3L134.9 171.6L170 170L170 140L166 120L162 100L156.8 85L150 78L147.8 70L146 60L140 58L134 62Z" fill="#cc0a18"/>
<path d="M125 38L127 44L131 47L135 45L133 40L136 36L134 31L129 30L125 33Z" fill="#c80818"/>
<path d="M148.3 38L151.9 47L156.5 56L163.7 67L169.2 74L170.5 82L164 89.8L150.8 105.6L137.6 116.2L132.3 132L127 142.6L121.8 155.8L118 166L119.2 167.5L127.3 170.3L136.4 171.8L147.7 171.5L159 171L170.4 170.3L180 169.1L185 168.3L195 165.5L200 164.4L200 23.3L146.6 23.3Z" fill="#f00c1e"/>
<path d="M147.5 58L149 70L152 80L157 90L160 100L165 95L168 85L166 75L163 66L158 58L152 50L147.8 45Z" fill="#a8000e"/>
<path d="M148 23.3L261 23.3L261 125.5L258.2 130.3L246.5 142L246 142L239.5 147.5L237 148.5L236 149.5L231 152L230 152L227 153.5L226 153.5L222 155.5L219.5 156L218 157L215 157.5L214.5 158L213 158L212.5 158.5L211 158.5L210.5 159L209 159L208.5 159.5L207 159.5L206.5 160L205 160L203 161L199 162L198.5 162.5L197.5 162.5L197 163L196 163L195.5 163.5L194.5 163.5L194 164L193 164L192.5 164.5L191.5 164.5L191 165L190 165L189.5 165.5L188.5 165.5L188 166L187 166L186.5 166.5L185 166.5L184.5 167L178.5 167.5L178 168L173.5 168L173 168.5L165 168.5L164.5 169L154 169L153.5 168.5L145.5 168.5L145 168L141 167L140.5 166.5L139 166.5L137.8 165.8L135.8 161.8L142 157.1L143 156.6L144.5 156.6L145 156.1L147 156L147.5 155.6L151.5 155L152 154.6L156.5 154L157 153.6L163 153L163.5 152.6L166.5 152.5L167 152.1L173 151.5L173.5 151.1L176.5 151L180.5 148.1L182 147.6L183 146.6L186 145.1L186.3 143.3L186.8 142.8L186.8 141.3L187.3 140.8L187.3 139.3L186.3 137.3L186.3 136.3L185.8 135.8L185.8 134.8L185.3 134.3L185.3 133.3L184.8 132.8L184.8 131.8L184.3 131.3L184.3 130.3L183.8 129.8L183.8 128.8L182.8 127.3L182.8 126.3L181.8 124.8L181.8 123.8L180.3 120.8L180.3 119.3L179.8 118.8L179.8 115.8L179.3 115.3L179.3 112.3L178.8 111.8L178.8 108.8L178.3 108.3L178.3 105.3L177.8 104.8L177.8 101.8L177.3 101.3L176.8 98.3L174.8 94.8L174.8 93.8L173.8 92.3L173.8 90.8L173.3 90.3L173.3 87.3L172.8 86.8L172.8 83.8L172.3 83.3L172.3 80.3L171.8 79.8L171.8 76.3L171.3 75.8L171.3 72.3L170.8 71.8L170.3 65.3L169.3 63.8L169.3 62.8L167.8 60.3L167.8 59.3L166.8 57.3L161 52.5L160.5 52.5L154.8 46.8L152.3 41.8L151.3 40.8L150.8 39.8L150.3 33.8L149.8 33.3L149.8 30.3L149.3 29.8L148.8 26.8L147.8 24.8ZM128.5 146.6L132 146.5L133.4 147.3L134.1 148.3L134.5 149.8L134.4 151.8L132.9 155.8L129.5 160.2L125.5 163.3L121.5 164.8L118.5 164.4L117 162.8L116.7 160.8L117.1 158.3L118.4 155.3L120.5 152.3L123 149.8L126 147.7Z" fill="#f81125" fill-rule="evenodd"/>
<path d="M148 23.3L261 23.3L261 125.5L258.2 130.3L246.5 142L246 142L239.5 147.5L231 152L230 152L227 153.5L226 153.5L222 155.5L219.5 156L218 157L215 157.5L214.5 158L213 158L212.5 158.5L211 158.5L210.5 159L209 159L208.5 159.5L207 159.5L206.5 160L205 160L203 161L197.5 162.5L197 163L196 163L195.5 163.5L194.5 163.5L194 164L193 164L192.5 164.5L191.5 164.5L191 165L190 165L189.5 165.5L188.5 165.5L188 166L187 166L186.5 166.5L185 166.5L184.5 167L178.5 167.5L178 168L173.5 168L173 168.5L165 168.5L164.5 169L154 169L153.5 168.5L145.5 168.5L145 168L141 167L140.5 166.5L139 166.5L137.8 165.8L135.8 161.8L142 157.1L143 156.6L144.5 156.6L145 156.1L147 156.1L147.5 155.6L151.5 155L152 154.6L156.5 154.1L157 153.6L163 153.1L163.5 152.6L166.5 152.6L167 152.1L173 151.6L173.5 151.1L176.5 151.1L180.5 148.1L182 147.6L183 146.6L186 145.1L186.3 143.3L186.8 142.8L186.8 141.3L187.3 140.8L187.3 139.3L186.3 137.3L186.3 136.3L185.8 135.8L185.8 134.8L185.3 134.3L185.3 133.3L184.8 132.8L184.8 131.8L184.3 131.3L184.3 130.3L183.8 129.8L183.8 128.8L182.8 127.3L182.8 126.3L181.8 124.8L181.8 123.8L180.3 120.8L180.3 119.3L179.8 118.8L179.8 115.8L179.3 115.3L179.3 112.3L178.8 111.8L178.8 108.8L178.3 108.3L178.3 105.3L177.8 104.8L177.8 101.8L177.3 101.3L176.8 98.3L174.8 94.8L174.8 93.8L173.8 92.3L173.8 90.8L173.3 90.3L173.3 87.3L172.8 86.8L172.8 83.8L172.3 83.3L172.3 80.3L171.8 79.8L171.8 76.3L171.3 75.8L171.3 72.3L170.8 71.8L170.3 65.3L169.3 63.8L169.3 62.8L167.8 60.3L167.8 59.3L166.8 57.3L161 52.5L160.5 52.5L154.8 46.8L152.3 41.8L151.3 40.8L150.8 39.8L150.3 33.8L149.8 33.3L149.8 30.3L149.3 29.8L148.8 26.8L147.8 24.8ZM129 146.7L132 146.8L133 147.4L134 148.8L134.1 152.3L132.4 156.3L129.2 160.3L125.5 163.1L121.5 164.6L120 164.6L118.5 164.1L117.4 162.8L116.9 160.3L117.5 157.8L118.9 154.8L121 152L123.5 149.6L126.5 147.7Z" fill="#ea132c" fill-rule="evenodd"/>
<path d="M148 23.3L261 23.3L261 125.5L258.2 130.3L246.5 141.9L246 142L239.5 147.5L231 151.9L230 152L227 153.5L226 153.5L222 155.4L219.5 156L218 156.9L215 157.5L214.5 158L213 158L212.5 158.5L211 158.5L210.5 159L209 159L208.5 159.5L207 159.5L206.5 159.9L205 160L203 161L197.5 162.5L197 163L196 163L195.5 163.5L194.5 163.5L194 164L193 164L192.5 164.5L191.5 164.5L191 165L190 165L189.5 165.5L188.5 165.5L188 166L187 166L186.5 166.5L185 166.5L184.5 167L178.5 167.5L178 168L173.5 168L173 168.5L165 168.5L164.5 169L154 169L153.5 168.5L145.5 168.5L145 168L141 167L140.5 166.5L139 166.5L137.8 165.8L135.8 161.8L142 157.1L143 156.6L144.5 156.6L145 156.1L147 156.1L147.5 155.6L151.5 155L152 154.6L156.5 154.1L157 153.6L163 153.1L163.5 152.6L166.5 152.6L167 152.1L173 151.6L173.5 151.1L176.5 151.1L180.5 148.1L182 147.6L183 146.6L186 145.1L186.3 143.3L186.8 142.8L186.8 141.3L187.3 140.8L187.3 139.3L186.3 137.3L186.3 136.3L185.8 135.8L185.8 134.8L185.3 134.3L185.3 133.3L184.8 132.8L184.8 131.8L184.3 131.3L184.3 130.3L183.8 129.8L183.8 128.8L182.8 127.3L182.8 126.3L181.8 124.8L181.8 123.8L180.3 120.8L180.3 119.3L179.8 118.8L179.8 115.8L179.3 115.3L179.3 112.3L178.8 111.8L178.8 108.8L178.3 108.3L178.3 105.3L177.8 104.8L177.8 101.8L177.3 101.3L176.8 98.3L174.8 94.8L174.8 93.8L173.8 92.3L173.8 90.8L173.3 90.3L173.3 87.3L172.8 86.8L172.8 83.8L172.3 83.3L172.3 80.3L171.8 79.8L171.8 76.3L171.3 75.8L171.3 72.3L170.8 71.8L170.3 65.3L169.3 63.8L169.3 62.8L167.8 60.3L167.8 59.3L166.8 57.3L161 52.5L160.5 52.5L154.8 46.8L152.3 41.8L151.3 40.8L150.8 39.8L150.3 33.8L149.8 33.3L149.8 30.3L149.3 29.8L148.8 26.8L147.8 24.8ZM128 147.3L131.5 147L132.5 147.4L133.5 148.4L134 151.3L132.7 155.3L129.9 159.3L126 162.6L122 164.3L119 164L117.7 162.8L117.2 160.8L117.5 158.3L118.5 155.8L120.1 153.3L122.5 150.7L125 148.7Z" fill="#db1633" fill-rule="evenodd"/>
<path d="M148 23.3L261 23.3L261 125.4L258.2 130.3L246.5 141.9L246 142L239.5 147.4L231 151.9L226 153.5L222 155.4L219.5 156L218 156.9L215 157.5L214.5 157.9L213 158L212.5 158.4L211 158.5L210.5 158.9L209 159L208.5 159.4L207 159.5L206.5 159.9L205 160L203 161L197.5 162.5L197 163L196 163L195.5 163.5L194.5 163.5L194 164L193 164L192.5 164.5L191.5 164.5L191 165L190 165L189.5 165.5L188.5 165.5L188 166L187 166L186.5 166.5L185 166.5L184.5 167L178.5 167.5L178 168L173.5 168L173 168.5L165 168.5L164.5 169L154 169L153.5 168.5L145.5 168.5L145 168L141 167L140.5 166.5L139 166.5L137.8 165.8L135.8 161.8L142 157.1L143 156.6L144.5 156.6L145 156.1L147 156.1L147.5 155.6L151.5 155.1L152 154.6L156.5 154.1L157 153.6L163 153.1L163.5 152.6L166.5 152.6L167 152.1L173 151.6L173.5 151.1L176.5 151.1L180.5 148.1L182 147.6L183 146.6L186 145.1L186.3 143.3L186.8 142.8L186.8 141.3L187.3 140.8L187.3 139.3L186.3 137.3L186.3 136.3L185.8 135.8L185.8 134.8L185.3 134.3L185.3 133.3L184.8 132.8L184.8 131.8L184.3 131.3L184.3 130.3L183.8 129.8L183.8 128.8L182.8 127.3L182.8 126.3L181.8 124.8L181.8 123.8L180.3 120.8L180.3 119.3L179.8 118.8L179.8 115.8L179.3 115.3L179.3 112.3L178.8 111.8L178.8 108.8L178.3 108.3L178.3 105.3L177.8 104.8L177.8 101.8L177.3 101.3L176.8 98.3L174.8 94.8L174.8 93.8L173.8 92.3L173.8 90.8L173.3 90.3L173.3 87.3L172.8 86.8L172.8 83.8L172.3 83.3L172.3 80.3L171.8 79.8L171.8 76.3L171.3 75.8L171.3 72.3L170.8 71.8L170.3 65.3L169.3 63.8L169.3 62.8L167.8 60.3L167.8 59.3L166.8 57.3L161 52.5L160.5 52.5L154.8 46.8L152.3 41.8L151.3 40.8L150.8 39.8L150.3 33.8L149.8 33.3L149.8 30.3L149.3 29.8L148.8 26.8L147.8 24.8ZM129 147.2L132 147.5L133 148.3L133.6 149.3L133.6 152.3L131.9 156.3L129 160L125.5 162.7L122 164L120.5 164.1L119 163.6L117.8 162.3L117.4 160.3L117.9 157.8L119.3 154.8L121.2 152.3L123.8 149.8L126.5 148.1Z" fill="#cd1839" fill-rule="evenodd"/>
<path d="M148 23.3L261 23.3L261 125.4L258.1 130.3L246.5 141.9L246 142L239.5 147.4L231 151.9L226 153.5L222 155.4L219.5 156L218 156.9L215 157.5L214.5 157.9L213 158L212.5 158.4L211 158.5L210.5 158.9L209 159L208.5 159.4L207 159.5L206.5 159.9L205 160L203 161L197.5 162.5L197 162.9L196 163L195.5 163.4L194.5 163.5L194 163.9L193 164L192.5 164.4L191.5 164.5L191 164.9L190 165L189.5 165.4L188.5 165.5L188 165.9L187 166L186.5 166.4L185 166.5L184.5 166.9L178.5 167.5L178 167.9L173.5 168L173 168.4L165 168.5L164.5 168.9L154 168.9L153.5 168.5L145.5 168.4L145 168L141 166.9L140.5 166.5L139 166.4L137.9 165.8L135.9 161.8L142 157.2L143 156.7L144.5 156.6L145 156.2L147 156.1L147.5 155.6L151.5 155.1L152 154.6L156.5 154.1L157 153.6L163 153.1L163.5 152.6L166.5 152.6L167 152.1L173 151.6L173.5 151.1L176.5 151.1L180.5 148.2L182 147.6L183 146.7L186 145.1L186.3 144.8L186.4 143.3L186.8 142.8L186.9 141.3L187.3 140.8L187.3 139.3L186.4 137.3L186.3 136.3L185.9 135.8L185.8 134.8L185.4 134.3L185.3 133.3L184.9 132.8L184.8 131.8L184.4 131.3L184.3 130.3L183.9 129.8L183.8 128.8L182.9 127.3L182.8 126.3L181.9 124.8L181.8 123.8L180.4 120.8L180.3 119.3L179.9 118.8L179.8 115.8L179.4 115.3L179.3 112.3L178.9 111.8L178.8 108.8L178.4 108.3L178.3 105.3L177.9 104.8L177.8 101.8L177.4 101.3L176.8 98.3L174.9 94.8L174.8 93.8L173.9 92.3L173.8 90.8L173.4 90.3L173.3 87.3L172.9 86.8L172.8 83.8L172.4 83.3L172.3 80.3L171.9 79.8L171.8 76.3L171.4 75.8L171.3 72.3L170.9 71.8L170.3 65.3L169.4 63.8L169.3 62.8L167.9 60.3L167.8 59.3L166.8 57.3L161 52.5L160.5 52.4L154.9 46.8L152.3 41.8L151.4 40.8L150.9 39.8L150.3 33.8L149.9 33.3L149.8 30.3L149.4 29.8L148.8 26.8L147.9 24.8ZM128 147.7L131 147.4L132 147.8L133 148.8L133.5 150.3L133.5 151.8L132 155.8L129 159.8L125.5 162.5L122 163.8L120.5 163.8L119.1 163.3L118 162L117.7 160.3L118.1 157.8L119.2 155.3L123 150.7L125.5 148.8Z" fill="#be1a40" fill-rule="evenodd"/>
<path d="M148 23.3L261 23.3L261 125.4L258.1 130.3L246.5 141.9L239.5 147.4L231 151.9L226 153.5L222 155.4L219.5 155.9L218 156.9L215 157.5L214.5 157.9L213 158L212.5 158.4L211 158.5L210.5 158.9L209 159L208.5 159.4L207 159.5L206.5 159.9L205 160L203 160.9L197.5 162.4L197 162.9L196 162.9L195.5 163.4L194.5 163.4L194 163.9L193 163.9L192.5 164.4L191.5 164.4L191 164.9L190 164.9L189.5 165.4L188.5 165.4L188 165.9L187 165.9L186.5 166.4L185 166.4L184.5 166.9L178.5 167.4L178 167.9L173.5 167.9L173 168.4L165 168.4L164.5 168.9L154 168.9L153.5 168.4L145.5 168.4L145 167.9L144 167.9L143.5 167.4L141 166.9L140.5 166.4L139 166.4L137.9 165.8L135.9 161.8L142 157.2L143 156.7L144.5 156.6L145 156.2L147 156.1L147.5 155.7L151.5 155.1L152 154.7L156.5 154.1L157 153.7L163 153.1L163.5 152.7L166.5 152.6L167 152.2L173 151.6L173.5 151.2L176.5 151.1L180.5 148.2L182 147.6L183 146.7L186 145.2L186.3 144.8L186.4 143.3L186.9 142.8L186.9 141.3L187.4 140.8L187.4 139.3L186.4 137.3L186.4 136.3L185.9 135.8L185.9 134.8L185.4 134.3L185.4 133.3L184.9 132.8L184.9 131.8L184.4 131.3L184.4 130.3L183.9 129.8L183.9 128.8L182.9 127.3L182.9 126.3L181.9 124.8L181.9 123.8L180.4 120.8L180.4 119.3L179.9 118.8L179.9 115.8L179.4 115.3L179.4 112.3L178.9 111.8L178.9 108.8L178.4 108.3L178.4 105.3L177.9 104.8L177.9 101.8L177.4 101.3L176.9 98.3L174.9 94.8L174.9 93.8L173.9 92.3L173.9 90.8L173.4 90.3L173.4 87.3L172.9 86.8L172.9 83.8L172.4 83.3L172.4 80.3L171.9 79.8L171.9 76.3L171.4 75.8L171.4 72.3L170.9 71.8L170.3 65.3L169.4 63.8L169.4 62.8L167.9 60.3L167.8 59.3L166.8 57.3L161 52.5L160.5 52.4L154.9 46.8L152.3 41.8L151.4 40.8L150.9 39.8L150.3 33.8L149.9 33.3L149.8 30.3L149.4 29.8L148.8 26.8L147.9 24.8ZM128.5 147.8L131.2 147.8L132.9 149.3L133.2 152.3L131.8 155.8L129 159.5L125.5 162.3L122 163.5L119.5 163.2L118.5 162.3L117.9 160.3L118.3 157.8L119.4 155.3L121.2 152.8L123.5 150.5L126 148.8Z" fill="#b01d47" fill-rule="evenodd"/>
<path d="M148 23.3L261 23.3L261 125.4L258.1 130.3L246.5 141.8L239.5 147.4L231 151.9L226 153.4L222 155.4L219.5 155.9L218 156.9L215 157.4L214.5 157.9L213 157.9L212.5 158.4L211 158.4L210.5 158.9L209 158.9L208.5 159.4L207 159.4L206.5 159.9L205 159.9L203 160.9L197.5 162.4L197 162.9L196 162.9L195.5 163.4L194.5 163.4L194 163.9L193 163.9L192.5 164.4L191.5 164.4L191 164.9L190 164.9L189.5 165.4L188.5 165.4L188 165.9L187 165.9L186.5 166.4L185 166.4L184.5 166.9L178.5 167.4L178 167.9L173.5 167.9L173 168.4L165 168.4L164.5 168.9L154 168.9L153.5 168.4L145.5 168.4L145 167.9L144 167.9L143.5 167.4L141 166.9L140.5 166.4L139 166.4L137.9 165.8L135.9 161.8L142 157.2L143 156.7L144.5 156.7L145 156.2L147 156.2L147.5 155.7L151.5 155.1L152 154.7L156.5 154.2L157 153.7L163 153.2L163.5 152.7L166.5 152.7L167 152.2L173 151.7L173.5 151.2L176.5 151.2L180.5 148.2L182 147.7L183 146.7L186 145.2L186.4 144.8L186.4 143.3L186.9 142.8L186.9 141.3L187.4 140.8L187.4 139.3L186.4 137.3L186.4 136.3L185.9 135.8L185.9 134.8L185.4 134.3L185.4 133.3L184.9 132.8L184.9 131.8L184.4 131.3L184.4 130.3L183.9 129.8L183.9 128.8L182.9 127.3L182.9 126.3L181.9 124.8L181.9 123.8L180.4 120.8L180.4 119.3L179.9 118.8L179.9 115.8L179.4 115.3L179.4 112.3L178.9 111.8L178.9 108.8L178.4 108.3L178.4 105.3L177.9 104.8L177.9 101.8L177.4 101.3L176.9 98.3L174.9 94.8L174.9 93.8L173.9 92.3L173.9 90.8L173.4 90.3L173.4 87.3L172.9 86.8L172.9 83.8L172.4 83.3L172.4 80.3L171.9 79.8L171.9 76.3L171.4 75.8L171.4 72.3L170.9 71.8L170.4 65.3L169.4 63.8L169.4 62.8L167.9 60.3L167.9 59.3L166.9 57.3L161 52.4L160.5 52.4L154.9 46.8L152.4 41.8L151.4 40.8L150.9 39.8L150.4 33.8L149.9 33.3L149.9 30.3L149.4 29.8L148.9 26.8L147.9 24.8ZM128 148.1L131 148L132.6 149.3L133 150.8L132.9 152.3L131.6 155.8L129 159.3L125.5 162L122 163.3L119.5 162.8L118.5 161.7L118.2 159.8L118.5 157.8L119.6 155.3L121.4 152.8L123.5 150.7L126 149Z" fill="#a11e4c" fill-rule="evenodd"/>
<path d="M148 23.3L261 23.3L261 125.3L258.1 130.3L246.5 141.8L239.5 147.4L231 151.8L226 153.4L222 155.3L219.5 155.9L218 156.8L213 157.9L212.5 158.3L211 158.4L210.5 158.8L209 158.9L208.5 159.3L207 159.4L206.5 159.8L205 159.9L203 160.9L197.5 162.4L197 162.9L196 162.9L195.5 163.4L194.5 163.4L194 163.9L193 163.9L192.5 164.4L191.5 164.4L191 164.9L190 164.9L189.5 165.4L188.5 165.4L188 165.9L187 165.9L186.5 166.4L185 166.4L184.5 166.9L178.5 167.4L178 167.9L173.5 167.9L173 168.4L165 168.4L164.5 168.9L154 168.9L153.5 168.4L145.5 168.4L145 167.9L144 167.9L143.5 167.4L142.5 167.4L142 166.9L139 166.4L137.9 165.8L135.9 161.8L142 157.2L143 156.7L144.5 156.7L145 156.2L147 156.2L147.5 155.7L151.5 155.1L152 154.7L156.5 154.2L157 153.7L163 153.2L163.5 152.7L166.5 152.7L167 152.2L173 151.7L173.5 151.2L176.5 151.2L180.5 148.2L182 147.7L183 146.7L186 145.2L186.4 144.8L186.4 143.3L186.9 142.8L186.9 141.3L187.4 140.8L187.4 139.3L186.4 137.3L186.4 136.3L185.9 135.8L185.9 134.8L185.4 134.3L185.4 133.3L184.9 132.8L184.9 131.8L184.4 131.3L184.4 130.3L183.9 129.8L183.9 128.8L182.9 127.3L182.9 126.3L181.9 124.8L181.9 123.8L180.4 120.8L180.4 119.3L179.9 118.8L179.9 115.8L179.4 115.3L179.4 112.3L178.9 111.8L178.9 108.8L178.4 108.3L178.4 105.3L177.9 104.8L177.9 101.8L177.4 101.3L176.9 98.3L174.9 94.8L174.9 93.8L173.9 92.3L173.9 90.8L173.4 90.3L173.4 87.3L172.9 86.8L172.9 83.8L172.4 83.3L172.4 80.3L171.9 79.8L171.9 76.3L171.4 75.8L171.4 72.3L170.9 71.8L170.4 65.3L169.4 63.8L169.4 62.8L167.9 60.3L167.9 59.3L166.9 57.3L161 52.4L160.5 52.4L154.9 46.8L152.4 41.8L151.4 40.8L150.9 39.8L150.4 33.8L149.9 33.3L149.9 30.3L149.4 29.8L148.9 26.8L147.9 24.8ZM128.5 148.2L131 148.4L132.5 149.8L132.7 152.3L131.4 155.8L129 159L126 161.5L122.5 163L120 162.8L118.9 161.8L118.4 159.8L118.7 157.8L119.8 155.3L121.6 152.8L123.7 150.8L126 149.2Z" fill="#911f51" fill-rule="evenodd"/>
<path d="M148 23.3L261 23.3L261 125.3L258.1 130.3L246.5 141.8L239.5 147.3L231 151.8L226 153.4L222 155.3L219.5 155.9L218 156.8L213 157.9L212.5 158.3L211 158.4L210.5 158.8L209 158.9L208.5 159.3L207 159.4L206.5 159.8L205 159.9L203 160.9L197.5 162.4L197 162.9L196 162.9L195.5 163.4L194.5 163.4L194 163.9L193 163.9L192.5 164.4L191.5 164.4L191 164.9L190 164.9L189.5 165.4L188.5 165.4L188 165.9L187 165.9L186.5 166.4L185 166.4L184.5 166.9L178.5 167.4L178 167.9L173.5 167.9L173 168.4L165 168.4L164.5 168.9L154 168.9L153.5 168.4L145.5 168.4L145 167.9L144 167.9L143.5 167.4L142.5 167.4L142 166.9L139 166.4L137.9 165.8L135.9 161.8L142 157.2L143 156.7L144.5 156.7L145 156.2L147 156.2L147.5 155.7L151.5 155.1L152 154.7L156.5 154.2L157 153.7L163 153.2L163.5 152.7L166.5 152.7L167 152.2L173 151.7L173.5 151.2L176.5 151.2L180.5 148.2L182 147.7L183 146.7L186 145.2L186.4 144.8L186.4 143.3L186.9 142.8L186.9 141.3L187.4 140.8L187.4 139.3L186.4 137.3L186.4 136.3L185.9 135.8L185.9 134.8L185.4 134.3L185.4 133.3L184.9 132.8L184.9 131.8L184.4 131.3L184.4 130.3L183.9 129.8L183.9 128.8L182.9 127.3L182.9 126.3L181.9 124.8L181.9 123.8L180.4 120.8L180.4 119.3L179.9 118.8L179.9 115.8L179.4 115.3L179.4 112.3L178.9 111.8L178.9 108.8L178.4 108.3L178.4 105.3L177.9 104.8L177.9 101.8L177.4 101.3L176.9 98.3L174.9 94.8L174.9 93.8L173.9 92.3L173.9 90.8L173.4 90.3L173.4 87.3L172.9 86.8L172.9 83.8L172.4 83.3L172.4 80.3L171.9 79.8L171.9 76.3L171.4 75.8L171.4 72.3L170.9 71.8L170.4 65.3L169.4 63.8L169.4 62.8L167.9 60.3L167.9 59.3L166.9 57.3L161 52.4L160.5 52.4L154.9 46.8L152.4 41.8L151.4 40.8L150.9 39.8L150.4 33.8L149.9 33.3L149.9 30.3L149.4 29.8L148.9 26.8L147.9 24.8ZM127.5 148.8L130.5 148.5L132.2 149.8L132.5 152.3L131.2 155.8L128.5 159.3L125.5 161.6L122.5 162.8L120 162.4L119 161.3L118.7 159.8L118.9 157.8L120 155.4L123.3 151.3Z" fill="#811f55" fill-rule="evenodd"/>
<path d="M148 23.3L261 23.3L261 125.3L258.1 130.3L246.4 141.8L239.5 147.3L232 151.3L227 153.3L226 153.4L222 155.2L219.5 155.9L218 156.7L215 157.4L214.5 157.8L213 157.9L212.5 158.3L211 158.4L210.5 158.8L209 158.9L208.5 159.3L207 159.4L206.4 159.8L205 159.9L203 160.9L197.5 162.4L197 162.8L196 162.9L195.5 163.3L194.5 163.4L194 163.8L193 163.9L192.5 164.3L191.5 164.4L191 164.8L190 164.9L189.5 165.3L188.5 165.4L188 165.8L187 165.9L186.5 166.3L185 166.4L184.5 166.8L178.5 167.4L178 167.8L173.5 167.9L173 168.3L165 168.4L164.5 168.8L154 168.8L153.5 168.4L145.5 168.3L145 167.9L144 167.8L143.5 167.4L142.5 167.3L142 166.9L139 166.3L138 165.8L135.9 161.8L142 157.2L143 156.7L144.5 156.7L145 156.3L147 156.2L147.5 155.7L151.5 155.2L152 154.7L156.5 154.2L157 153.7L163 153.2L163.5 152.7L166.5 152.7L167 152.2L173 151.7L173.5 151.2L176.5 151.2L180.5 148.2L182 147.7L183 146.8L186 145.2L186.4 144.8L186.5 143.3L186.9 142.8L187 141.3L187.4 140.8L187.4 139.3L186.5 137.3L186.4 136.3L186 135.8L185.9 134.8L185.5 134.3L185.4 133.3L185 132.8L184.9 131.8L184.5 131.3L184.4 130.3L184 129.8L183.9 128.8L183 127.3L182.9 126.3L182 124.8L181.9 123.8L180.5 120.8L180.4 119.3L180 118.8L179.9 115.8L179.5 115.3L179.4 112.3L179 111.8L178.9 108.8L178.5 108.3L178.4 105.3L178 104.8L177.9 101.8L177.5 101.3L176.9 98.3L175 94.8L174.9 93.8L174 92.3L173.9 90.8L173.5 90.3L173.4 87.3L173 86.8L172.9 83.8L172.5 83.3L172.4 80.3L172 79.8L171.9 76.3L171.5 75.8L171.4 72.3L171 71.8L170.4 65.3L169.5 63.8L169.4 62.8L168 60.3L167.9 59.3L166.9 57.3L161 52.4L160.5 52.4L154.9 46.8L152.4 41.8L151.5 40.8L151 39.8L150.4 33.8L150 33.3L149.9 30.3L149.4 29.8L148.9 26.8L147.9 24.8ZM128.5 148.7L130.5 148.8L132.1 150.3L132.2 152.8L130.7 156.3L128 159.6L125 161.7L122 162.6L120 162L119.1 160.8L118.9 159.3L119.3 157.3L120.5 154.8L124.2 150.8L126.5 149.4Z" fill="#721f59" fill-rule="evenodd"/>
<path d="M148 23.3L261 23.3L261 125.2L258 130.3L246.3 141.8L239.4 147.3L231.9 151.3L218 156.6L205 159.9L203 160.8L197.5 162.4L197 162.8L196 162.9L195.5 163.3L194.5 163.4L194 163.8L193 163.8L192.5 164.3L191.5 164.3L191 164.8L190 164.8L189.5 165.3L188.5 165.3L188 165.8L187 165.8L186.5 166.3L185 166.4L184.5 166.8L178.5 167.3L178 167.8L173.5 167.8L173 168.3L165 168.3L164.5 168.8L154 168.8L153.5 168.3L145.5 168.3L145 167.8L144 167.8L143.5 167.3L142.5 167.3L142 166.8L139 166.3L138 165.8L136 161.8L142 157.3L143 156.8L144.5 156.7L145 156.3L147 156.2L147.5 155.8L151.5 155.2L152 154.8L156.5 154.2L157 153.8L163 153.2L163.5 152.8L166.5 152.7L167 152.3L173 151.7L173.5 151.3L176.5 151.2L180.5 148.3L182 147.7L183 146.8L186 145.3L186.4 144.8L186.5 143.3L187 142.8L187 141.3L187.5 140.8L187.5 139.3L186.5 137.3L186.5 136.3L186 135.8L186 134.8L185.5 134.3L185.5 133.3L185 132.8L185 131.8L184.5 131.3L184.5 130.3L184 129.8L184 128.8L183 127.3L183 126.3L182 124.8L182 123.8L180.5 120.8L180.5 119.3L180 118.8L180 115.8L179.5 115.3L179.5 112.3L179 111.8L179 108.8L178.5 108.3L178.5 105.3L178 104.8L178 101.8L177.5 101.3L177 98.3L175 94.8L175 93.8L174 92.3L174 90.8L173.5 90.3L173.5 87.3L173 86.8L173 83.8L172.5 83.3L172.5 80.3L172 79.8L172 76.3L171.5 75.8L171.4 72.3L171 71.8L170.4 65.3L169.5 63.8L169.4 62.8L168 60.3L167.9 59.3L166.9 57.3L161 52.4L160.5 52.3L155 46.8L152.4 41.8L151.5 40.8L151 39.8L150.4 33.8L150 33.3L149.9 30.3L149.5 29.8L148.9 26.8L148 24.8ZM127.5 149.2L130 149L131 149.4L131.7 150.3L132 152.8L130.8 155.8L128.5 158.8L125.5 161.2L122.5 162.3L120.5 162L119.5 161L119.2 159.8L119.4 157.8L120.2 155.8L123.5 151.6Z" fill="#62205e" fill-rule="evenodd"/>
<path d="M148 23.3L261 23.3L261 125.1L258 130.3L249.5 138.8L240 146.8L231.8 151.3L218.7 156.3L205 159.8L203 160.8L197.5 162.3L197 162.8L196 162.8L195.5 163.3L194.5 163.3L194 163.8L193 163.8L192.5 164.3L191.5 164.3L191 164.8L190 164.8L189.5 165.3L188.5 165.3L188 165.8L187 165.8L186.5 166.3L185 166.3L184.5 166.8L178.5 167.3L178 167.8L173.5 167.8L173 168.3L165 168.3L164.5 168.8L154 168.8L153.5 168.3L145.5 168.3L145 167.8L144 167.8L143.5 167.3L142.5 167.3L142 166.8L138 165.8L136 161.8L142 157.3L143 156.8L144.5 156.8L145 156.3L147 156.2L147.5 155.8L151.5 155.2L152 154.8L156.5 154.2L157 153.8L163 153.2L163.5 152.8L166.5 152.7L167 152.3L173 151.7L173.5 151.3L176.5 151.2L180.5 148.3L182 147.8L183 146.8L186 145.3L186.5 144.8L186.5 143.3L187 142.8L187 141.3L187.5 140.8L187.5 139.3L186.5 137.3L186.5 136.3L186 135.8L186 134.8L185.5 134.3L185.5 133.3L185 132.8L185 131.8L184.5 131.3L184.5 130.3L184 129.8L184 128.8L183 127.3L183 126.3L182 124.8L182 123.8L180.5 120.8L180.5 119.3L180 118.8L180 115.8L179.5 115.3L179.5 112.3L179 111.8L179 108.8L178.5 108.3L178.5 105.3L178 104.8L178 101.8L177.5 101.3L177 98.3L175 94.8L175 93.8L174 92.3L174 90.8L173.5 90.3L173.5 87.3L173 86.8L173 83.8L172.5 83.3L172.5 80.3L172 79.8L172 76.3L171.5 75.8L171.5 72.3L171 71.8L170.5 65.3L169.5 63.8L169.5 62.8L168 60.3L168 59.3L166.9 57.3L161 52.3L160.5 52.3L155 46.8L152.5 41.8L151.5 40.8L151 39.8L150.5 33.8L150 33.3L150 30.3L149.5 29.8L149 26.8L148 24.8ZM128 149.3L130.5 149.5L131.6 150.8L131.6 153.3L130.5 156L128.3 158.8L125.5 161L122.5 162L120.5 161.6L119.6 160.3L119.4 158.8L121 154.8L124.1 151.3Z" fill="#4e2467" fill-rule="evenodd"/>
<path d="M148 23.3L261 23.3L261 124.9L257.5 130.7L249.3 138.8L239.9 146.8L231.6 151.3L218.6 156.3L205 159.8L202.9 160.8L184.5 166.6L170.7 168.3L159 168.7L146 168.1L138.2 165.3L136.5 161.8L142.2 157.3L145.3 156.3L147 156.3L147.5 155.8L151.5 155.2L152 154.8L156.5 154.3L157 153.8L163 153.3L163.6 152.8L166.5 152.8L167 152.3L173 151.8L173.6 151.3L176.5 151.3L179 149.3L184.5 146.3L186.5 144.8L187.6 139.8L184.5 129.8L180.7 119.8L177.6 99.8L174.1 91.8L170.5 65.3L167 57.3L160 51.8L155.5 47.3L151.5 40.6L150 32.4L150 30.3L148 24.6ZM127.5 149.7L129 149.5L130.4 149.8L131.4 151.3L131.5 152.8L130.1 156.3L128 158.8L125.4 160.8L122.5 161.8L120.6 161.3L119.9 160.3L119.7 158.8L120 157.2L121 155.1L124.4 151.3Z" fill="#342d75" fill-rule="evenodd"/>
<path d="M148 23.3L261 23.3L261 124.7L257.5 130.5L249.1 138.8L239.6 146.8L231.2 151.3L218.2 156.3L206 159.4L184.5 166.3L170.5 168L159 168.3L146 167.6L138.8 164.8L137.3 162.3L143 157.2L147 156.3L147.7 155.8L149.5 155.7L152.2 154.8L154 154.8L154.7 154.3L156.5 154.3L157.4 153.8L166.5 152.8L167.6 152.3L173 151.8L174.1 151.3L176.5 151.3L186.2 145.3L188.1 139.8L185.1 129.8L181.5 119.8L178.1 99.8L174.6 91.8L170.2 64.3L167 57.3L160.3 51.8L155.5 47L152 41.1L151.4 39.8L150 30.3ZM127 150.2L129 149.9L130.7 150.8L131.1 152.8L130 155.9L128 158.5L125.5 160.4L123 161.3L121 160.9L120.4 160.3L120.1 158.8L121.2 155.3L124 152Z" fill="#1a3583" fill-rule="evenodd"/>
<path d="M148.5 23.3L261 23.3L261 123.7L257.5 130L246.5 140.7L239.7 146.3L231.5 150.8L215.6 156.8L206 159.1L184.5 165.2L170.5 166.8L158.5 167L146.5 166L143.6 164.8L140.4 162.8L143.2 158.3L148.1 155.8L155 154.4L176.5 151.3L184 147.6L186.7 145.8L189.7 139.8L187.9 131.8L183.9 118.8L179.6 99.3L176.4 91.3L174 77.3L171 64.6L169.7 61.3L166.7 56.8L160.5 51.4L157.1 47.8L155.8 46.3L152.5 40.8ZM128.5 150.3L130 150.8L130.7 152.3L130.4 154.3L129 156.8L127.2 158.8L125 160.3L123 160.9L121.5 160.6L120.8 159.8L120.5 158.3L121.9 154.8L125 151.6L127 150.6Z" fill="#173a8d" fill-rule="evenodd"/>
<path d="M149.5 23.3L261 23.3L261 121.5L257.2 129.3L246.5 139.9L239 146L231.5 150L215.5 156.1L184 163.5L170.5 164.9L159 164.8L147.5 163.4L145.5 162.3L145.7 157.8L148.5 155.8L152 155L159.4 154.3L172.5 152.3L177.2 151.3L184.5 148.8L187.8 146.3L191.1 142.8L192.6 139.3L191.3 131.3L187.3 114.3L180 93.3L176.3 75.8L173.8 70.8L171 60.9L158.5 47.8L153.5 40.5L151.1 29.8L149.1 23.3ZM128 150.8L129.5 151.2L130.1 152.3L130 154.3L129 156.3L127.5 158.1L125.5 159.6L123.9 160.3L122 160.2L121.1 159.3L121 158.3L122 155.2L124.6 152.3L126.2 151.3Z" fill="#2e3a94" fill-rule="evenodd"/>
<path d="M150 23.3L261 23.3L261 120.3L259.8 123.8L257.2 128.8L248 137.9L239 145.6L232 149.5L215 155.9L204 158.7L181.5 163.1L170.5 164.1L159 163.7L148 162.1L147.2 161.3L146.1 157.8L148.6 155.8L152 155L161 154.3L171.2 152.8L185 149.3L192.3 143.3L194.1 139.8L193.1 130.8L189.5 113.9L183.7 99.8L181.3 92.8L177.5 75.3L174.2 69.8L171.5 60.3L165.5 55.2L160.5 49.8L154.2 40.8L153.7 39.8L151.5 29.6L149.6 24.3L149.5 23.3ZM126.5 151.7L128.5 151.6L129.4 152.3L129.5 153.8L129 155.3L127.7 157.3L126 158.8L124 159.7L122.5 159.6L121.6 158.3L122.2 155.8L124 153.4Z" fill="#3f3d9c" fill-rule="evenodd"/>
<path d="M150 23.3L261 23.3L261 119.9L259.8 123.3L257 128.8L245.5 140.1L238.5 145.7L231.5 149.5L215.5 155.6L203.5 158.7L180.5 162.9L170.5 163.7L159 163.4L149.5 161.9L147.5 161.3L146.4 157.8L148.7 155.8L152 155.1L161 154.4L171.5 152.8L185 149.5L192.5 143.5L194.4 139.8L193.5 130.8L189.9 113.8L184.3 100.3L181.8 93.3L177.8 75.3L174.7 70.3L171.7 60.3L166 55.6L160.5 49.8L160.5 49.3L154.2 40.3L151.5 29.3L149.6 23.8L149.6 23.3ZM127 152.2L128.2 152.3L128.9 153.3L128.2 155.8L125.5 158.5L124 159L123 158.9L122.4 158.3L122.3 157.3L123 155.3L125 153.1Z" fill="#4a44a4" fill-rule="evenodd"/>
<path d="M150 23.3L261 23.3L261 119.6L259.6 123.3L256.8 128.8L245.5 139.9L238.5 145.5L231 149.5L215.5 155.4L203.5 158.6L181 162.7L170.5 163.5L159.5 163.2L148.5 161.5L147.5 160.8L146.5 157.8L148.7 155.8L152 155.1L157 154.9L171.5 152.9L185 149.7L192.6 143.8L194.7 139.8L193.9 130.8L190.4 113.8L184.6 100.3L182.1 93.3L178.1 75.3L174.6 69.8L171.8 60.3L166 55.6L162 50.9L160.5 49.8L160 48.5L154.3 40.3L152 30.7L149.7 23.8L149.7 23.3ZM126 152.9L128 153L128.4 153.8L128.3 154.8L127.8 155.8L126 157.7L124 158.5L122.8 157.3L123.1 155.8L124.5 154Z" fill="#514aab" fill-rule="evenodd"/>
<path d="M150 23.3L261 23.3L261 119.2L259.5 123.3L256.6 128.8L245.9 139.3L238.5 145.3L231 149.4L215.5 155.3L203.5 158.5L181 162.6L170.5 163.3L159.5 163.1L150 161.6L147.7 160.8L146.7 157.8L148.8 155.8L169 153.4L185 149.8L192.9 143.8L195 139.8L194 129.4L190.7 113.3L184.6 99.8L182.1 92.8L178.4 75.3L174.7 69.8L172 60.3L166 55.5L162 50.8L161.5 50.8L160.5 49.8L160 48.3L154.7 40.8L153.8 38.3L152 30.3L149.8 23.8L149.7 23.3ZM126 153.2L127.5 153.1L128 153.7L128.1 154.3L127.6 155.8L126.5 157.1L125 158.1L123.5 158L123.1 157.3L123.4 155.8L124.5 154.3Z" fill="#544eb1" fill-rule="evenodd"/>
<path d="M150 23.3L261 23.3L261 118.6L259.3 123.3L256.5 128.7L245.6 139.3L238.5 145.2L231 149.2L215.5 155.1L206 157.4L203.5 158.4L181 162.5L170.5 163.2L159.5 163L150 161.5L147.8 160.8L146.9 158.8L146.8 157.8L148.9 155.8L152 155.2L158 155L169 153.5L185 149.9L193 143.9L195.2 139.8L194.6 131.3L191.1 113.3L184.8 99.8L182.3 92.8L178.6 75.3L174.8 69.8L172.1 60.3L166 55.4L162 50.8L161.5 50.8L160.5 49.8L160 48.3L154.8 40.8L154.2 39.8L152.1 30.3L149.9 23.8ZM126.5 153.2L127.3 153.3L127.8 153.8L127.4 155.8L125.5 157.6L124.5 158L123.7 157.8L123.3 156.8L123.9 155.3L125 154Z" fill="#5751b6" fill-rule="evenodd"/>
<path d="M150 23.3L261 23.3L261 118.2L259.3 122.8L256.5 128.4L245.5 139.2L238.5 145L231 149.1L215 155.1L205.9 157.3L203.5 158.3L181 162.3L170.5 163.1L159.5 162.8L148 160.8L147 158.8L146.9 157.8L149 155.8L151.5 155.7L152 155.3L158.5 155L169.5 153.5L185 150L193 144.1L195.4 139.8L194.8 131.3L194.5 130.8L193.3 122.3L192.5 119.8L191.9 115.8L191.5 115.3L191.3 113.3L188 106.3L187.8 105.3L185 99.8L182.4 92.8L178.7 75.3L175 69.8L172.3 60.3L166 55.4L162 50.8L161.5 50.8L160.5 49.8L160 48.3L154.9 40.8L154.3 39.8L152.2 30.3ZM126 153.6L127.5 153.7L127.5 155.3L126 157.2L124 157.7L123.5 156.9L123.7 155.8L124.9 154.3Z" fill="#5954b9" fill-rule="evenodd"/>
<path d="M150 23.3L261 23.3L261 117.9L259.2 122.8L256.4 128.3L245.5 139.1L238.5 144.8L231 148.9L215 155L205.5 157.3L203.5 158.2L183 161.9L171.5 163L161 162.7L148.5 160.3L147.5 158.3L149.5 156.1L169.5 153.5L185 150.1L193 144.3L195.6 139.8L195.2 130.8L191.8 113.3L189.2 106.8L185.5 99.8L182.7 92.8L178.8 75.3L175.2 69.8L172.4 60.3L165.5 54.8L162 50.8L161.5 50.8L160.5 49.8L160 48.3L155 40.8L154 38.3L152.3 30.3ZM126 153.7L127 153.6L127.5 154.2L127.1 155.8L125.5 157.3L124 157.5L123.7 156.8L123.9 155.8Z" fill="#5b56bd" fill-rule="evenodd"/>
<path d="M150.5 23.3L261 23.3L261 117.3L259 122.8L256.2 128.3L245.5 138.8L238.1 144.8L231 148.7L215 154.8L205.5 157.1L203 158.2L183 161.7L171 162.8L161 162.3L154.9 160.8L150 158.7L149.8 158.3L150.4 157.8L156 156L172 153.2L185 150.3L194 144.3L196.6 140.3L197.2 136.3L196.8 129.8L193.6 112.3L190.9 105.3L186.9 99.3L183.3 92.8L179 74.8L175.8 69.8L174 62.8L172.8 59.8L166 55L162 50.8L161.5 50.7L160.6 49.8L160 48.3L155 40.4L152.4 29.8L150.2 23.3ZM126 154.1L127 154.2L127 155.3L126 156.7L124.5 157.2L124.1 156.8L124.2 155.8Z" fill="#605cc4" fill-rule="evenodd"/>
<path d="M150.5 23.3L261 23.3L261 117.3L259 122.8L256.5 127.8L245.5 138.8L238 144.8L229.5 149.3L215 154.8L205.5 156.9L203 158L192 160.1L180 162L170.5 162.5L160 161.7L156.5 160.5L153.6 158.8L153.6 158.3L155.5 157L161 155.1L170 153.8L185.5 150.3L192.5 146.3L194.5 144.8L198 140L198.8 135.3L198.5 128.8L197.5 121.7L195.5 111.8L193.5 105.7L191.5 102.2L187.6 97.8L183.7 92.3L179.5 75.1L176.1 69.3L174.6 62.3L173.4 59.8L172.5 58.8L166 54.7L162 50.7L161.5 50.7L160.6 49.8L160 48.3L155.2 40.3L152.5 29.4ZM125.5 154.6L126.5 154.4L126.7 155.3L126 156.3L124.9 156.8L124.5 156.5L124.5 155.8Z" fill="#6461cb" fill-rule="evenodd"/>
<path d="M151 23.3L261 23.3L261 117.3L260 119.3L260 120.3L259 121.8L259 122.8L256.5 127.8L245.5 138.8L245 138.8L242.5 141.3L242 141.3L238 144.8L229.5 149.3L228.5 149.3L227 150.3L226 150.3L224.5 151.3L222 151.8L220.5 152.8L218 153.3L215 154.8L213.5 154.8L213 155.3L211.5 155.3L211 155.8L205.5 156.8L202.5 158L192 160L182 161.6L170.5 162.3L161 161.6L156.5 160L154.8 158.8L154.8 158.3L156.5 157L161.5 155.1L170.7 153.8L184.4 150.8L192 147.1L194.5 145.3L198.3 140.8L199.5 137.8L199.7 135.3L199.5 129.8L198.2 120.3L196.5 111.8L194.5 105.3L192.1 101.3L184.1 92.3L179.8 75.3L176.9 70.3L175 62.3L173.5 59.3L166 54.6L160.6 49.8L160.1 48.3L155.4 40.3L153 30.6L150.7 23.8L150.6 23.3ZM126 154.8L126.4 155.3L126.1 155.8L125 156.4L125 155.6Z" fill="#6966d3" fill-rule="evenodd"/>
<path d="M151 23.3L261 23.3L261 117.3L260 119.3L259.9 120.3L259 121.8L259 122.8L256.5 127.8L245.5 138.8L245 138.8L242.5 141.3L242 141.3L238 144.8L229.5 149.3L228.5 149.3L227 150.2L226 150.3L224.5 151.2L222 151.8L220.5 152.7L218 153.3L215 154.8L213.5 154.8L213 155.3L211.5 155.3L211 155.8L205.5 156.8L205 157.3L203 157.8L193 159.8L182 161.5L170.5 162.1L161 161.4L157 159.8L155.7 158.8L156.7 157.3L161 155.5L171 153.9L182.5 151.4L185.5 150.6L192.5 147.2L194.9 145.3L199.6 139.8L200.5 135.8L200.4 130.3L199 119.6L197.4 111.3L195.4 104.8L194.2 102.3L192.6 100.3L184.4 92.3L181.7 82.8L180.1 75.3L177.2 70.3L175.3 61.8L173.9 59.3L173 58.5L166 54.4L160.6 49.8L155.3 39.8L153.1 30.3L150.7 23.3ZM125.5 155.4L125.7 155.8L125.5 156L125.3 155.8Z" fill="#6d6bda" fill-rule="evenodd"/>
<path d="M151 23.3L261 23.3L260.9 117.3L260 119.3L259.9 120.3L259 121.8L258.9 122.8L256.4 127.8L245.5 138.7L245 138.8L242.5 141.2L242 141.3L238 144.7L229.5 149.2L228.5 149.3L227 150.2L226 150.3L224.5 151.2L222 151.8L220.5 152.7L218 153.3L215 154.7L213.5 154.8L213 155.2L211.5 155.3L211 155.7L205.5 156.8L205 157.2L203 157.8L193 159.8L182 161.4L171 162L161 161.2L156.4 158.8L157.3 157.3L161.5 155.4L171 154L182.5 151.6L185.5 150.7L192.5 147.5L195.4 145.3L200.1 140.3L201 138.3L201.3 135.8L201.2 130.3L199.9 119.3L198.3 111.3L196.4 104.3L195.1 101.8L193 99.3L184.5 91.8L181.9 82.8L180.3 75.3L177.4 70.3L175.7 61.8L174.2 59.3L173.2 58.3L166 54.2L160.6 49.8L155.5 39.8L153.2 30.3Z" fill="#7270e2" fill-rule="evenodd"/>
<path d="M151 23.3L261 23.3L260.9 117.3L259.9 119.3L259.9 120.3L258.9 121.8L258.9 122.8L256.4 127.8L245.5 138.7L245 138.7L242.5 141.2L242 141.2L238 144.7L229.5 149.2L228.5 149.2L227 150.2L226 150.2L224.5 151.2L222 151.7L220.5 152.7L218 153.2L215 154.7L213.5 154.7L213 155.2L211.5 155.2L211 155.7L205.5 156.7L205 157.2L203 157.8L193 159.7L182.5 161.3L171.5 161.9L161.5 161.1L157 158.8L157.5 157.6L161.5 155.6L182 151.8L185.6 150.8L192.7 147.8L195.4 145.8L199.6 141.8L201.5 139L202.1 135.8L202.1 129.8L200.8 119.3L199.2 110.8L197.3 103.8L195.7 100.8L193.5 98.5L184.8 91.8L182.1 82.8L180.5 75.3L177.7 70.3L176.1 61.8L174.5 59.3L173.5 58.1L166.3 54.3L160.6 49.8L155.6 39.8L153.4 30.3Z" fill="#7776e9" fill-rule="evenodd"/>
<path d="M151.5 23.3L261 23.3L260.9 117.3L259.9 119.3L259.9 120.3L258.9 121.8L258.9 122.8L256.4 127.8L245.5 138.7L245 138.7L242.5 141.2L242 141.2L238 144.7L229.5 149.2L228.5 149.2L227 150.2L226 150.2L224.5 151.2L222 151.7L220.5 152.7L218 153.2L215 154.7L213.5 154.7L213 155.2L211.5 155.2L211 155.7L209.5 155.7L209 156.2L205.5 156.7L205 157.2L203.6 157.3L203 157.7L193 159.7L182.5 161.3L170.5 161.8L161.5 160.9L157.6 158.8L157.7 157.8L161.5 155.7L182.5 151.8L193 148L200.4 141.8L202.2 139.3L202.9 135.8L202.9 129.8L201.7 119.3L198.4 103.8L196.7 100.3L194.1 97.8L185 91.5L182.3 82.8L180.7 75.3L177.9 70.3L176.4 61.8L175.2 59.8L174 58.2L166.5 54.3L160.6 49.8L155.8 39.8L153.5 30.3L151 23.3Z" fill="#7c7bf1" fill-rule="evenodd"/>
<path d="M151.5 23.3L261 23.3L260.9 117.3L259.9 119.3L259.9 120.3L258.9 121.8L258.9 122.8L256.4 127.8L245.5 138.7L245 138.7L242.5 141.2L242 141.2L238 144.7L229.5 149.2L228.5 149.2L227 150.2L226 150.2L224.5 151.2L222 151.7L220.5 152.7L218 153.2L215 154.7L213.5 154.7L213 155.2L211.5 155.2L211 155.7L209.5 155.7L209 156.2L205.5 156.7L205 157.2L203.5 157.3L203 157.7L201.2 157.8L200.5 158.2L198.7 158.3L193 159.7L190.6 159.8L182.5 161.2L170.5 161.8L161.5 160.8L158 158.6L158.1 157.8L161.5 155.8L163 155.3L171 154.3L181.5 152.2L193 148.4L201 142L202.7 139.8L203.7 135.8L203.7 129.8L202.6 119.3L201 110.3L199.1 102.8L197.5 99.6L194.5 96.9L185.2 91.3L182.5 83.3L180.9 75.3L178 69.8L176.7 61.3L174 57.8L166.5 54.3L160.7 49.8L156 40.3L153.5 29.8L151 23.3Z" fill="#8080f9" fill-rule="evenodd"/>
<path d="M151.5 23.3L261 23.3L261 116.7L259.9 119.3L259.9 120.3L258.9 121.8L258.9 122.8L256.4 127.8L245.5 138.7L245 138.7L242.5 141.2L242 141.2L238 144.7L229.5 149.2L228.5 149.2L227 150.2L226 150.2L224.5 151.2L222 151.7L220.5 152.7L218 153.2L215 154.7L213.5 154.7L213 155.2L211.5 155.2L211 155.7L209.5 155.7L209 156.2L205.5 156.7L205 157.2L203.5 157.3L203 157.7L201 157.8L200.5 158.2L198.5 158.3L198 158.7L196 158.8L193 159.7L190.1 159.8L189.5 160.2L186.7 160.3L186 160.7L183 160.9L182.5 161.2L170.5 161.8L170 161.4L161.5 160.8L158 158.3L160.5 156.3L163 155.4L168.5 154.8L169 154.4L171.5 154.3L172 153.9L174 153.8L174.5 153.4L181.5 152.3L182 151.9L183.4 151.8L187 150.3L188.2 150.3L193 148.8L201.5 142.3L203.6 139.8L204.5 135.8L204.6 129.8L203.5 118.8L200.5 103.3L199.8 101.8L198.2 98.8L195 96.1L186 91.8L185 90.8L184 86.8L182.5 83.3L181 74.9L178 69.8L177 61.1L174.4 57.8L166.5 54.3L160.7 49.8L156 40.3L155.5 37.3L155 36.8L155 35.3L154.5 34.8L154.5 33.3L154 32.8L154 31.3L153.6 30.8L153.5 29.4L151 23.3Z" fill="#8484fe" fill-rule="evenodd"/>
<path d="M151.5 23.3L261 23.3L261 116.7L259.9 119.3L259.9 120.3L258.9 121.8L258.9 122.8L256.4 127.8L245.5 138.7L245 138.7L242.5 141.2L242 141.2L238 144.7L229.5 149.2L228.5 149.2L227 150.2L226 150.2L224.5 151.2L222 151.7L220.5 152.7L218 153.2L215 154.7L213.5 154.7L213 155.2L211.5 155.2L211 155.7L209.5 155.7L209 156.2L205.5 156.7L205 157.2L203.5 157.3L203 157.7L201 157.8L200.5 158.2L198.5 158.3L198 158.7L196 158.8L195.5 159.2L193.5 159.3L193 159.7L183 160.8L182.5 161.2L174 161.3L173.5 161.7L170.5 161.7L170 161.3L161.5 160.8L158 158.3L160.5 156.3L163 155.4L165.5 155.3L166 154.9L168.5 154.8L169 154.4L171.5 154.3L172 153.9L174 153.8L174.5 153.4L176.5 153.3L177 152.9L179 152.8L179.5 152.4L181.5 152.3L182 151.9L183.5 151.8L187 150.4L188.5 150.3L189 149.8L190 149.8L190.5 149.3L191.5 149.3L192 148.8L194 148.3L199.5 143.8L200 143.8L204 139.8L204.5 136.3L205 135.8L205 128.8L204.5 128.3L204 118.8L203.5 118.3L203.5 115.8L203 115.3L202.5 110.3L202 109.8L202 107.8L201.5 107.3L201 103.3L200 101.8L200 100.8L199 98.8L198 98.3L196 96.3L192 94.3L190 93.8L186 91.8L185 90.8L185 89.8L184.5 89.3L184.5 88.3L184 87.8L184 86.8L182.6 83.3L181 74.8L178 69.8L178 66.8L177.5 66.3L177.5 62.8L177 62.3L177 60.8L174.5 57.8L166.5 54.2L160.7 49.8L156.1 40.3L155.5 37.3L155.1 36.8L155 35.3L154.6 34.8L154.5 33.3L154.1 32.8L154 31.3L153.6 30.8L153.5 29.3L151.1 23.3Z" fill="#8686f8" fill-rule="evenodd"/>
<path d="M151.4 23.3L153.8 30L156.2 40L158.6 45L161 50L166.5 54L174.4 57.5L177.3 61L178.4 70L181.2 75L182.7 82.4L185.6 91.2L190 93.4L195.2 95.6L198.9 98.6L201.1 103L202.6 110.4L204.1 119.2L205.1 129.6L205 136L204 140L201.9 142.4L193.2 148.9L182.3 152.2L171.4 154.4L161.5 156L158.3 158.2L161.5 160.4L171.4 161.4L182.3 160.9L193.2 159.3L204 157.1L215 154.4L222 151.8L231 148.3L238 144.5L245 138.8L251 133L256 128L258.5 123L261.5 115L266 115L266 18.3L151.4 18.3Z" fill="#fff"/>
<path d="M185.6 91.2L190 93.4L195.2 95.6L198.9 98.6L201.1 103L202.6 110.4L204.1 119.2L205.1 129.6L204.8 137" fill="none" stroke="#a8a048" stroke-width="1.6"/>
<path d="M152.3 23L154.8 29.8L157.1 39.7L161.8 49.3L167 53.1L175 56.7L178.2 60.5L179.4 69.7L182.2 74.7L183.7 82.1L186.4 90.5L195.7 94.7L199.8 98.2L202.1 102.7L203.6 110.2L205.1 119.1L206.1 129.5L206 136.1L204.9 140.5L202.5 143.2L193.7 149.8L182.5 153.2L171.6 155.4L161.9 157L160.1 158.2L161.9 159.4L171.4 160.4L182.2 159.9L193 158.3L203.8 156.1L214.7 153.4L230.6 147.4L237.4 143.7L244.3 138.1L255.2 127.4L257.6 122.6L260.6 114.6" fill="none" stroke="#9a9a9a" stroke-width="0.7"/>
<path d="M138.7 23.3L141.5 40L143.5 52L145.1 60L150 65L155 70L158.2 80.9L160.3 90L162.2 97.2L164.2 105L165 110.8L164.5 121.2L166.5 131.4L168.8 138L169.3 142L167.5 146.5L162 149.8L150.4 152.4L142.2 156.5L137.1 160.6L135.1 163.7L138.2 166.7L147.7 168.5L159 168.8L170.4 168.6L180 167.6L185 166.8" fill="none" stroke="#2a1030" stroke-width="0.7" opacity="0.8"/>
<path d="M148.7 23.3L151 30L153.5 40L158 47L164 55L170.5 60L172.9 70L177.5 75L179 83.9L181.2 92.7L184.2 100L187.9 107.4L190.8 113.3L193 122.2L194.5 131L195.2 140L193 144L188 147.5L185 150L170.4 153.2L159 154.8L149 155.5L146.5 158L148 161L159 162.8L170.4 163.2" fill="none" stroke="#141a50" stroke-width="0.7" opacity="0.8"/>
<path d="M168 23.3L169 30L167 38L168 43L172 47L177 50L179 55L181 60L182 70L182 75.7L184.9 79.4L188.6 80.9L194.5 85.3L201.9 89.7L203.4 90.6L206.8 93.4L207.9 96.8L210.7 100.1L213 103.5L213.5 106.9L215.8 110.9L220.3 113.1L224.2 115.9L227 118.7L228.7 120.4L226.5 122.1L223.1 122.7L220.3 120.4L216.9 117.1L215.2 115.9L214.1 119.3L215.2 123.8L216.9 126.6L220.3 127.2L224.2 126.1L224.8 123.8L226.5 123.3L229.9 122.7L233.3 123.8L237.2 126.6L238.3 125.5L242.8 123.8L248.5 122.1L253 118.7L255.2 115.9L256.4 111.4L256.4 106.9L256.9 96.8L261 96" fill="none" stroke="#8c8c8c" stroke-width="0.7"/>
<path d="M256.4 106.9L261 106.9" fill="none" stroke="#8c8c8c" stroke-width="0.7"/>
<path d="M152.4 23.3L152.4 24L156.3 24L157 27.4L160.9 28.5L160.9 23.3" fill="none" stroke="#8c8c8c" stroke-width="0.7"/>
<path d="M162 35.9L163 37L164.8 39.8L165.4 43.8L164.3 44.4L163.1 41.5L162 38.1L162 35.9" fill="none" stroke="#8c8c8c" stroke-width="0.7"/>
<path d="M183.4 159.3L191 157.6L196.4 152.2L198.6 148.9L201.9 149.5L206.3 151.1L203 154.4L198.6 156.5L191 158.7L184.4 159.8" fill="none" stroke="#8c8c8c" stroke-width="0.7"/>
<ellipse cx="119.4" cy="112" rx="2.4" ry="5.8" transform="rotate(15 119.4 112)" fill="#000"/>
<path d="M110.9 161.8L118.2 166.3L127.3 169.4L136.4 170.9L147.7 170.6L159 170.1L170.4 169.4L180 168.2L185 167.4L195 164.6L205.5 162.2L216.8 159.4L224.2 156.7L233.6 153L241.5 148.7L249.1 142.5L255.3 136.5L261 130.8L264.2 124.5L267.3 116.3" fill="none" stroke="#ff0020" stroke-width="1.3"/>
<path d="M110.9 162.9L118.2 167.4L127.3 170.5L136.4 172L147.7 171.7L159 171.2L170.4 170.5L180 169.3L185 168.5L195 165.7L205.5 163.3L216.8 160.5L224.2 157.8L233.6 154.1L241.5 149.8L249.1 143.6L255.3 137.6L261 131.9L264.2 125.6L267.3 117.4" fill="none" stroke="#000" stroke-width="1.1" stroke-dasharray="2.5 2"/>
<ellipse cx="125.6" cy="155.6" rx="7.37" ry="3.88" transform="rotate(-47 125.6 155.6)" fill="none" stroke="#1c1444" stroke-width="0.8" opacity="0.85"/>
<path d="M160.2 124.3l2 2l-2 2l-2 -2z" fill="none" stroke="#e8b0c0" stroke-width="0.6"/>
</g>
<rect x="26.0" y="23.3" width="235.0" height="160.3" fill="none" stroke="#959595" stroke-width="1.2"/>
<path d="M26.0 29.5h5M261.0 29.5h-5" stroke="#959595" stroke-width="1"/>
<text class="tk" x="23.8" y="31.0" text-anchor="end" textLength="17.6" lengthAdjust="spacingAndGlyphs">26.79</text>
<path d="M26.0 55.2h5M261.0 55.2h-5" stroke="#959595" stroke-width="1"/>
<text class="tk" x="23.8" y="56.7" text-anchor="end" textLength="17.6" lengthAdjust="spacingAndGlyphs">26.36</text>
<path d="M26.0 80.9h5M261.0 80.9h-5" stroke="#959595" stroke-width="1"/>
<text class="tk" x="23.8" y="82.4" text-anchor="end" textLength="17.6" lengthAdjust="spacingAndGlyphs">25.92</text>
<path d="M26.0 106.6h5M261.0 106.6h-5" stroke="#959595" stroke-width="1"/>
<text class="tk" x="23.8" y="108.1" text-anchor="end" textLength="17.6" lengthAdjust="spacingAndGlyphs">25.48</text>
<path d="M26.0 132.3h5M261.0 132.3h-5" stroke="#959595" stroke-width="1"/>
<text class="tk" x="23.8" y="133.8" text-anchor="end" textLength="17.6" lengthAdjust="spacingAndGlyphs">25.04</text>
<path d="M26.0 158.0h5M261.0 158.0h-5" stroke="#959595" stroke-width="1"/>
<text class="tk" x="23.8" y="159.5" text-anchor="end" textLength="17.6" lengthAdjust="spacingAndGlyphs">24.60</text>
<text class="tk" x="23.8" y="185.2" text-anchor="end" textLength="17.6" lengthAdjust="spacingAndGlyphs">24.16</text>
<text class="tk" x="26.0" y="190.5" text-anchor="middle" textLength="17.6" lengthAdjust="spacingAndGlyphs">84.80</text>
<path d="M88.7 183.60000000000002v-5" stroke="#959595" stroke-width="1"/>
<text class="tk" x="88.7" y="190.5" text-anchor="middle" textLength="17.6" lengthAdjust="spacingAndGlyphs">83.59</text>
<path d="M151.3 183.60000000000002v-5" stroke="#959595" stroke-width="1"/>
<text class="tk" x="151.3" y="190.5" text-anchor="middle" textLength="17.6" lengthAdjust="spacingAndGlyphs">82.37</text>
<path d="M214.0 23.3v5M214.0 183.60000000000002v-5" stroke="#959595" stroke-width="1"/>
<text class="tk" x="214.0" y="190.5" text-anchor="middle" textLength="17.6" lengthAdjust="spacingAndGlyphs">81.15</text>
<text class="dg" x="5.199999999999999" y="45.7">°</text><text class="ax" x="7.399999999999999" y="47.6">N</text>
<text class="dg" x="107.8" y="195.2">°</text><text class="ax" x="111.6" y="196.8">W</text>
<text class="lb" x="44.6" y="91.2">[A]</text>
<text class="lb" x="44.6" y="105.7">23 March</text>
<text class="lb" x="44.6" y="120.5">16:00</text><rect x="309.5" y="23.3" width="235.0" height="160.3" fill="none" stroke="#959595" stroke-width="1.2"/>
<path d="M309.5 29.5h5M544.5 29.5h-5" stroke="#959595" stroke-width="1"/>
<text class="tk" x="307.3" y="31.0" text-anchor="end" textLength="17.6" lengthAdjust="spacingAndGlyphs">26.79</text>
<path d="M309.5 55.2h5M544.5 55.2h-5" stroke="#959595" stroke-width="1"/>
<text class="tk" x="307.3" y="56.7" text-anchor="end" textLength="17.6" lengthAdjust="spacingAndGlyphs">26.36</text>
<path d="M309.5 80.9h5M544.5 80.9h-5" stroke="#959595" stroke-width="1"/>
<text class="tk" x="307.3" y="82.4" text-anchor="end" textLength="17.6" lengthAdjust="spacingAndGlyphs">25.92</text>
<path d="M309.5 106.6h5M544.5 106.6h-5" stroke="#959595" stroke-width="1"/>
<text class="tk" x="307.3" y="108.1" text-anchor="end" textLength="17.6" lengthAdjust="spacingAndGlyphs">25.48</text>
<path d="M309.5 132.3h5M544.5 132.3h-5" stroke="#959595" stroke-width="1"/>
<text class="tk" x="307.3" y="133.8" text-anchor="end" textLength="17.6" lengthAdjust="spacingAndGlyphs">25.04</text>
<path d="M309.5 158.0h5M544.5 158.0h-5" stroke="#959595" stroke-width="1"/>
<text class="tk" x="307.3" y="159.5" text-anchor="end" textLength="17.6" lengthAdjust="spacingAndGlyphs">24.60</text>
<text class="tk" x="307.3" y="185.2" text-anchor="end" textLength="17.6" lengthAdjust="spacingAndGlyphs">24.16</text>
<text class="tk" x="309.5" y="190.5" text-anchor="middle" textLength="17.6" lengthAdjust="spacingAndGlyphs">84.80</text>
<path d="M372.2 183.60000000000002v-5" stroke="#959595" stroke-width="1"/>
<text class="tk" x="372.2" y="190.5" text-anchor="middle" textLength="17.6" lengthAdjust="spacingAndGlyphs">83.59</text>
<path d="M434.8 183.60000000000002v-5" stroke="#959595" stroke-width="1"/>
<text class="tk" x="434.8" y="190.5" text-anchor="middle" textLength="17.6" lengthAdjust="spacingAndGlyphs">82.37</text>
<path d="M497.5 23.3v5M497.5 183.60000000000002v-5" stroke="#959595" stroke-width="1"/>
<text class="tk" x="497.5" y="190.5" text-anchor="middle" textLength="17.6" lengthAdjust="spacingAndGlyphs">81.15</text>
<text class="dg" x="288.7" y="45.7">°</text><text class="ax" x="290.9" y="47.6">N</text>
<text class="dg" x="391.3" y="195.2">°</text><text class="ax" x="395.1" y="196.8">W</text>
<text class="lb" x="330.6" y="88.0">[B]</text>
<text class="lb" x="330.6" y="102.5">23 March</text>
<text class="lb" x="330.6" y="117.3">21:00</text><rect x="26.0" y="213.5" width="235.0" height="160.3" fill="none" stroke="#959595" stroke-width="1.2"/>
<path d="M26.0 219.7h5M261.0 219.7h-5" stroke="#959595" stroke-width="1"/>
<text class="tk" x="23.8" y="221.2" text-anchor="end" textLength="17.6" lengthAdjust="spacingAndGlyphs">26.79</text>
<path d="M26.0 245.4h5M261.0 245.4h-5" stroke="#959595" stroke-width="1"/>
<text class="tk" x="23.8" y="246.9" text-anchor="end" textLength="17.6" lengthAdjust="spacingAndGlyphs">26.36</text>
<path d="M26.0 271.1h5M261.0 271.1h-5" stroke="#959595" stroke-width="1"/>
<text class="tk" x="23.8" y="272.6" text-anchor="end" textLength="17.6" lengthAdjust="spacingAndGlyphs">25.92</text>
<path d="M26.0 296.8h5M261.0 296.8h-5" stroke="#959595" stroke-width="1"/>
<text class="tk" x="23.8" y="298.3" text-anchor="end" textLength="17.6" lengthAdjust="spacingAndGlyphs">25.48</text>
<path d="M26.0 322.5h5M261.0 322.5h-5" stroke="#959595" stroke-width="1"/>
<text class="tk" x="23.8" y="324.0" text-anchor="end" textLength="17.6" lengthAdjust="spacingAndGlyphs">25.04</text>
<path d="M26.0 348.2h5M261.0 348.2h-5" stroke="#959595" stroke-width="1"/>
<text class="tk" x="23.8" y="349.7" text-anchor="end" textLength="17.6" lengthAdjust="spacingAndGlyphs">24.60</text>
<text class="tk" x="23.8" y="375.4" text-anchor="end" textLength="17.6" lengthAdjust="spacingAndGlyphs">24.16</text>
<text class="tk" x="26.0" y="380.7" text-anchor="middle" textLength="17.6" lengthAdjust="spacingAndGlyphs">84.80</text>
<path d="M88.7 373.8v-5" stroke="#959595" stroke-width="1"/>
<text class="tk" x="88.7" y="380.7" text-anchor="middle" textLength="17.6" lengthAdjust="spacingAndGlyphs">83.59</text>
<path d="M151.3 373.8v-5" stroke="#959595" stroke-width="1"/>
<text class="tk" x="151.3" y="380.7" text-anchor="middle" textLength="17.6" lengthAdjust="spacingAndGlyphs">82.37</text>
<path d="M214.0 213.5v5M214.0 373.8v-5" stroke="#959595" stroke-width="1"/>
<text class="tk" x="214.0" y="380.7" text-anchor="middle" textLength="17.6" lengthAdjust="spacingAndGlyphs">81.15</text>
<text class="dg" x="5.199999999999999" y="235.9">°</text><text class="ax" x="7.399999999999999" y="237.8">N</text>
<text class="dg" x="107.8" y="385.4">°</text><text class="ax" x="111.6" y="387.0">W</text>
<text class="lb" x="44.6" y="297.1">[C]</text>
<text class="lb" x="44.6" y="311.6">24 March</text>
<text class="lb" x="44.6" y="326.4">16:00</text><rect x="309.5" y="213.5" width="235.0" height="160.3" fill="none" stroke="#959595" stroke-width="1.2"/>
<path d="M309.5 219.7h5M544.5 219.7h-5" stroke="#959595" stroke-width="1"/>
<text class="tk" x="307.3" y="221.2" text-anchor="end" textLength="17.6" lengthAdjust="spacingAndGlyphs">26.79</text>
<path d="M309.5 245.4h5M544.5 245.4h-5" stroke="#959595" stroke-width="1"/>
<text class="tk" x="307.3" y="246.9" text-anchor="end" textLength="17.6" lengthAdjust="spacingAndGlyphs">26.36</text>
<path d="M309.5 271.1h5M544.5 271.1h-5" stroke="#959595" stroke-width="1"/>
<text class="tk" x="307.3" y="272.6" text-anchor="end" textLength="17.6" lengthAdjust="spacingAndGlyphs">25.92</text>
<path d="M309.5 296.8h5M544.5 296.8h-5" stroke="#959595" stroke-width="1"/>
<text class="tk" x="307.3" y="298.3" text-anchor="end" textLength="17.6" lengthAdjust="spacingAndGlyphs">25.48</text>
<path d="M309.5 322.5h5M544.5 322.5h-5" stroke="#959595" stroke-width="1"/>
<text class="tk" x="307.3" y="324.0" text-anchor="end" textLength="17.6" lengthAdjust="spacingAndGlyphs">25.04</text>
<path d="M309.5 348.2h5M544.5 348.2h-5" stroke="#959595" stroke-width="1"/>
<text class="tk" x="307.3" y="349.7" text-anchor="end" textLength="17.6" lengthAdjust="spacingAndGlyphs">24.60</text>
<text class="tk" x="307.3" y="375.4" text-anchor="end" textLength="17.6" lengthAdjust="spacingAndGlyphs">24.16</text>
<text class="tk" x="309.5" y="380.7" text-anchor="middle" textLength="17.6" lengthAdjust="spacingAndGlyphs">84.80</text>
<path d="M372.2 373.8v-5" stroke="#959595" stroke-width="1"/>
<text class="tk" x="372.2" y="380.7" text-anchor="middle" textLength="17.6" lengthAdjust="spacingAndGlyphs">83.59</text>
<path d="M434.8 373.8v-5" stroke="#959595" stroke-width="1"/>
<text class="tk" x="434.8" y="380.7" text-anchor="middle" textLength="17.6" lengthAdjust="spacingAndGlyphs">82.37</text>
<path d="M497.5 213.5v5M497.5 373.8v-5" stroke="#959595" stroke-width="1"/>
<text class="tk" x="497.5" y="380.7" text-anchor="middle" textLength="17.6" lengthAdjust="spacingAndGlyphs">81.15</text>
<text class="dg" x="288.7" y="235.9">°</text><text class="ax" x="290.9" y="237.8">N</text>
<text class="dg" x="391.3" y="385.4">°</text><text class="ax" x="395.1" y="387.0">W</text>
<text class="lb" x="327.5" y="297.1">[D]</text>
<text class="lb" x="327.5" y="311.6">24 March</text>
<text class="lb" x="327.5" y="326.4">21:00</text>
<text class="tt" x="271.2" y="13.7" text-anchor="middle">Sediment Model</text>
<defs><linearGradient id="cb" x1="0" x2="1" y1="0" y2="0"><stop offset="0.0" stop-color="#000000"/><stop offset="0.02" stop-color="#ff0a1e"/><stop offset="0.1" stop-color="#ff1022"/><stop offset="0.16" stop-color="#a81e4a"/><stop offset="0.21" stop-color="#5a2060"/><stop offset="0.24" stop-color="#0c3a8a"/><stop offset="0.26" stop-color="#3a3a98"/><stop offset="0.28" stop-color="#5048a8"/><stop offset="0.3" stop-color="#5650b4"/><stop offset="0.4" stop-color="#6c6ad8"/><stop offset="0.5" stop-color="#8484ff"/><stop offset="0.55" stop-color="#8888f0"/><stop offset="0.6" stop-color="#9a9ac0"/><stop offset="0.65" stop-color="#a8a880"/><stop offset="0.7" stop-color="#c0b800"/><stop offset="0.78" stop-color="#d4d000"/><stop offset="0.88" stop-color="#e6e488"/><stop offset="1.0" stop-color="#fffff8"/></linearGradient></defs>
<rect x="190.0" y="400.3" width="183.5" height="23.0" fill="url(#cb)" stroke="#555" stroke-width="0.8"/>
<path d="M190.0 423.3v3" stroke="#555" stroke-width="0.8"/>
<text class="cl" x="190.0" y="435.4" text-anchor="middle">0.0</text>
<path d="M249.5 423.3v3" stroke="#555" stroke-width="0.8"/>
<text class="cl" x="249.5" y="435.4" text-anchor="middle">8.1</text>
<path d="M310.4 423.3v3" stroke="#555" stroke-width="0.8"/>
<text class="cl" x="310.4" y="435.4" text-anchor="middle">16.4</text>
<path d="M373.5 423.3v3" stroke="#555" stroke-width="0.8"/>
<text class="cl" x="373.5" y="435.4" text-anchor="middle">25.0</text>
<text class="ct" x="285.5" y="397.8" text-anchor="middle">Surface Sediment (g m<tspan font-size="8.5" dy="-5">&#8722;3</tspan><tspan dy="5">)</tspan></text>
</svg>
</body></html>
